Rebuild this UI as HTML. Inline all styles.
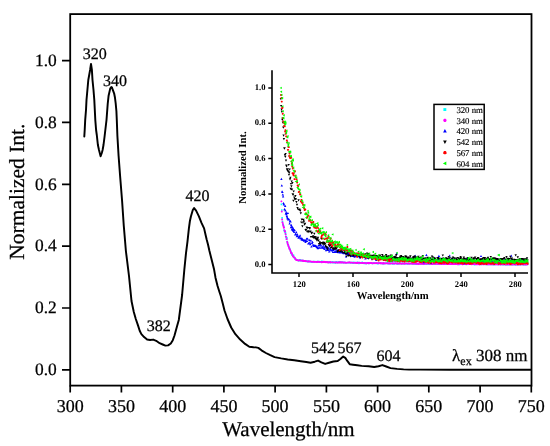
<!DOCTYPE html>
<html><head><meta charset="utf-8"><title>Normalized Int. vs Wavelength</title>
<style>
html,body{margin:0;padding:0;background:#fff;width:550px;height:446px;overflow:hidden}
svg{display:block}
text{font-family:"Liberation Serif","Times New Roman",serif;fill:#000;text-rendering:geometricPrecision}
.t18{font-size:18px;stroke:#000;stroke-width:0.25px}
.t21{font-size:21px;stroke:#000;stroke-width:0.25px}
.t16{font-size:16px;stroke:#000;stroke-width:0.25px}
.t17{font-size:17px;stroke:#000;stroke-width:0.25px}
.sub{font-size:12px}
.b8{font-size:8.6px;font-weight:bold}
.b10{font-size:10.7px;font-weight:bold}
.r9{font-size:8.8px;letter-spacing:-0.2px;word-spacing:0.6px;stroke:#000;stroke-width:0.15px}
</style></head><body>
<svg width="550" height="446" viewBox="0 0 550 446">
<rect width="550" height="446" fill="#fff"/>
<rect x="70.2" y="14.1" width="461.3" height="371.5" fill="none" stroke="#000" stroke-width="1.8"/>
<path d="M62 369.8H70.2M62 308.0H70.2M62 246.1H70.2M62 184.3H70.2M62 122.4H70.2M62 60.6H70.2M70.2 385.6V392.5M121.4 385.6V392.5M172.7 385.6V392.5M223.9 385.6V392.5M275.1 385.6V392.5M326.4 385.6V392.5M377.6 385.6V392.5M428.8 385.6V392.5M480.1 385.6V392.5M531.3 385.6V392.5" stroke="#000" stroke-width="1.7" fill="none"/>
<text x="56.7" y="375.0" text-anchor="end" class="t18" style="font-size:17.4px">0.0</text>
<text x="56.7" y="313.2" text-anchor="end" class="t18" style="font-size:17.4px">0.2</text>
<text x="56.7" y="251.3" text-anchor="end" class="t18" style="font-size:17.4px">0.4</text>
<text x="56.7" y="189.5" text-anchor="end" class="t18" style="font-size:17.4px">0.6</text>
<text x="56.7" y="127.6" text-anchor="end" class="t18" style="font-size:17.4px">0.8</text>
<text x="56.7" y="65.8" text-anchor="end" class="t18" style="font-size:17.4px">1.0</text>
<text x="70.2" y="412.4" text-anchor="middle" class="t18">300</text>
<text x="121.4" y="412.4" text-anchor="middle" class="t18">350</text>
<text x="172.7" y="412.4" text-anchor="middle" class="t18">400</text>
<text x="223.9" y="412.4" text-anchor="middle" class="t18">450</text>
<text x="275.1" y="412.4" text-anchor="middle" class="t18">500</text>
<text x="326.4" y="412.4" text-anchor="middle" class="t18">550</text>
<text x="377.6" y="412.4" text-anchor="middle" class="t18">600</text>
<text x="428.8" y="412.4" text-anchor="middle" class="t18">650</text>
<text x="480.1" y="412.4" text-anchor="middle" class="t18">700</text>
<text x="531.3" y="412.4" text-anchor="middle" class="t18">750</text>
<text x="288.4" y="435.7" text-anchor="middle" class="t21">Wavelength/nm</text>
<text transform="translate(24.2 191.6) rotate(-90)" text-anchor="middle" class="t21" style="font-size:21.5px">Normalized Int.</text>
<path d="M84.3 136.5 L84.7 130.0 L85.2 120.0 L86.0 110.0 L86.5 100.0 L87.4 90.0 L88.3 80.0 L90.1 70.0 L91.0 64.0 L91.9 70.0 L92.5 80.0 L93.5 90.0 L94.3 100.0 L94.8 110.0 L95.3 120.0 L96.1 130.0 L96.8 135.0 L97.9 145.0 L99.0 150.0 L100.6 156.2 L101.8 153.0 L102.6 150.0 L103.5 145.0 L104.7 135.5 L106.5 120.0 L107.7 104.0 L108.6 95.7 L110.2 88.6 L111.3 87.0 L112.0 87.6 L112.9 90.2 L114.1 93.3 L114.9 97.2 L115.7 103.5 L116.4 111.0 L116.8 120.0 L117.4 136.0 L118.6 156.0 L120.1 176.0 L122.1 201.0 L123.8 226.0 L125.9 251.0 L129.0 276.0 L131.5 301.0 L133.8 312.0 L135.8 319.0 L138.0 325.4 L139.7 330.8 L141.4 334.1 L144.1 337.1 L147.1 339.5 L150.1 340.0 L153.2 339.6 L156.2 340.8 L159.6 343.2 L162.7 344.5 L165.4 345.6 L168.1 345.4 L170.8 343.5 L172.8 340.2 L174.5 335.5 L175.8 330.8 L177.1 326.0 L178.8 320.0 L182.1 295.0 L184.3 270.0 L186.0 253.1 L187.5 241.4 L188.9 228.3 L189.9 221.0 L190.9 216.5 L192.8 210.0 L194.1 208.1 L196.1 210.6 L198.8 216.1 L201.5 222.9 L204.1 228.4 L205.6 235.0 L206.6 239.2 L208.0 244.5 L209.4 250.8 L212.1 261.5 L214.1 269.6 L215.5 277.7 L217.5 285.8 L219.3 291.5 L220.8 296.0 L222.7 303.3 L224.5 310.5 L227.5 319.0 L231.2 327.5 L235.4 334.2 L240.2 339.6 L245.1 343.9 L249.3 346.7 L253.6 347.2 L256.0 347.4 L258.3 347.9 L261.5 350.3 L265.9 353.0 L270.3 355.2 L274.6 357.1 L281.2 358.4 L287.7 359.5 L294.3 360.3 L300.8 361.2 L306.3 362.0 L310.6 362.8 L314.8 361.7 L318.1 360.6 L321.4 362.3 L325.2 363.9 L329.0 362.8 L333.4 361.5 L337.7 361.0 L340.4 359.0 L343.2 356.6 L345.3 357.9 L347.5 361.2 L349.7 364.2 L353.0 364.7 L357.3 365.3 L361.7 365.9 L365.0 366.1 L368.7 366.2 L374.2 367.0 L378.5 366.2 L382.4 365.1 L386.2 366.5 L390.5 368.1 L397.1 368.9 L403.6 369.4 L409.1 369.6 L420.0 369.6 L450.0 369.7 L500.0 369.8 L530.6 369.8" fill="none" stroke="#000" stroke-width="1.95" stroke-linejoin="round" stroke-linecap="round"/>
<text x="94.7" y="59.1" text-anchor="middle" class="t16">320</text>
<text x="115.0" y="85.6" text-anchor="middle" class="t16">340</text>
<text x="158.8" y="331.3" text-anchor="middle" class="t16">382</text>
<text x="197.5" y="200.9" text-anchor="middle" class="t16">420</text>
<text x="322.9" y="352.7" text-anchor="middle" class="t16">542</text>
<text x="349.5" y="352.7" text-anchor="middle" class="t16">567</text>
<text x="388.4" y="360.7" text-anchor="middle" class="t16">604</text>
<text x="527.6" y="360.5" text-anchor="end" class="t17" textLength="75.5">λ<tspan class="sub" dy="4.5">ex</tspan><tspan dy="-4.5"> 308 nm</tspan></text>
<path fill="#00ffff" d="M280.6 203.6h1.6v1.6h-1.6zM281.0 209.2h1.6v1.6h-1.6zM281.3 217.1h1.6v1.6h-1.6zM281.7 220.7h1.6v1.6h-1.6zM282.0 223.5h1.6v1.6h-1.6zM282.3 223.7h1.6v1.6h-1.6zM282.7 224.7h1.6v1.6h-1.6zM283.0 225.5h1.6v1.6h-1.6zM283.3 229.3h1.6v1.6h-1.6zM283.7 230.7h1.6v1.6h-1.6zM284.0 230.1h1.6v1.6h-1.6zM284.4 231.6h1.6v1.6h-1.6zM284.7 231.8h1.6v1.6h-1.6zM285.0 234.0h1.6v1.6h-1.6zM285.4 236.5h1.6v1.6h-1.6zM285.7 238.1h1.6v1.6h-1.6zM286.1 237.1h1.6v1.6h-1.6zM286.4 240.7h1.6v1.6h-1.6zM286.7 242.3h1.6v1.6h-1.6zM287.1 243.7h1.6v1.6h-1.6zM287.4 244.0h1.6v1.6h-1.6zM287.7 245.0h1.6v1.6h-1.6zM288.1 246.4h1.6v1.6h-1.6zM288.4 247.1h1.6v1.6h-1.6zM288.8 247.8h1.6v1.6h-1.6zM289.1 248.5h1.6v1.6h-1.6zM289.4 249.1h1.6v1.6h-1.6zM289.8 250.3h1.6v1.6h-1.6zM290.1 252.1h1.6v1.6h-1.6zM290.4 251.5h1.6v1.6h-1.6zM290.8 253.2h1.6v1.6h-1.6zM291.1 253.2h1.6v1.6h-1.6zM291.4 254.4h1.6v1.6h-1.6zM291.8 254.3h1.6v1.6h-1.6zM292.1 255.2h1.6v1.6h-1.6zM292.5 255.3h1.6v1.6h-1.6zM292.8 254.5h1.6v1.6h-1.6zM293.3 256.6h1.6v1.6h-1.6zM293.9 256.9h1.6v1.6h-1.6zM294.4 258.3h1.6v1.6h-1.6zM295.0 258.5h1.6v1.6h-1.6zM295.5 258.7h1.6v1.6h-1.6zM296.0 259.3h1.6v1.6h-1.6zM296.6 259.2h1.6v1.6h-1.6zM297.1 259.4h1.6v1.6h-1.6zM297.7 259.8h1.6v1.6h-1.6zM298.2 259.4h1.6v1.6h-1.6zM298.7 259.9h1.6v1.6h-1.6zM299.3 259.1h1.6v1.6h-1.6zM299.8 259.9h1.6v1.6h-1.6zM300.4 259.6h1.6v1.6h-1.6zM300.9 259.9h1.6v1.6h-1.6zM301.4 259.7h1.6v1.6h-1.6zM302.0 260.2h1.6v1.6h-1.6zM302.5 259.8h1.6v1.6h-1.6zM303.1 260.2h1.6v1.6h-1.6zM303.6 259.9h1.6v1.6h-1.6zM304.1 260.1h1.6v1.6h-1.6zM304.7 260.3h1.6v1.6h-1.6zM305.2 260.7h1.6v1.6h-1.6zM305.8 260.3h1.6v1.6h-1.6zM306.3 260.4h1.6v1.6h-1.6zM306.8 260.2h1.6v1.6h-1.6zM307.4 260.8h1.6v1.6h-1.6zM307.9 260.6h1.6v1.6h-1.6zM308.5 260.7h1.6v1.6h-1.6zM309.0 260.8h1.6v1.6h-1.6zM309.5 260.8h1.6v1.6h-1.6zM310.1 260.9h1.6v1.6h-1.6zM310.6 261.1h1.6v1.6h-1.6zM311.2 261.3h1.6v1.6h-1.6zM311.7 261.1h1.6v1.6h-1.6zM312.2 260.9h1.6v1.6h-1.6zM312.8 260.7h1.6v1.6h-1.6zM313.3 260.8h1.6v1.6h-1.6zM313.9 260.8h1.6v1.6h-1.6zM314.4 260.9h1.6v1.6h-1.6zM314.9 260.9h1.6v1.6h-1.6zM315.5 261.1h1.6v1.6h-1.6zM316.0 260.9h1.6v1.6h-1.6zM316.6 260.7h1.6v1.6h-1.6zM317.1 261.2h1.6v1.6h-1.6zM317.6 261.4h1.6v1.6h-1.6zM318.2 260.7h1.6v1.6h-1.6zM318.7 261.1h1.6v1.6h-1.6zM319.3 261.0h1.6v1.6h-1.6zM319.8 261.0h1.6v1.6h-1.6zM320.3 261.5h1.6v1.6h-1.6zM320.9 260.6h1.6v1.6h-1.6zM321.4 260.8h1.6v1.6h-1.6zM322.0 261.2h1.6v1.6h-1.6zM322.5 261.1h1.6v1.6h-1.6zM323.0 261.3h1.6v1.6h-1.6zM323.6 261.5h1.6v1.6h-1.6zM324.1 261.4h1.6v1.6h-1.6zM324.7 261.3h1.6v1.6h-1.6zM325.2 261.1h1.6v1.6h-1.6zM325.7 261.2h1.6v1.6h-1.6zM326.3 261.4h1.6v1.6h-1.6zM326.8 261.1h1.6v1.6h-1.6zM327.4 261.6h1.6v1.6h-1.6zM327.9 261.2h1.6v1.6h-1.6zM328.4 261.2h1.6v1.6h-1.6zM329.0 261.5h1.6v1.6h-1.6zM329.5 261.9h1.6v1.6h-1.6zM330.1 261.7h1.6v1.6h-1.6zM330.6 261.4h1.6v1.6h-1.6zM331.1 261.4h1.6v1.6h-1.6zM331.7 261.1h1.6v1.6h-1.6zM332.2 261.8h1.6v1.6h-1.6zM332.8 261.5h1.6v1.6h-1.6zM333.3 261.4h1.6v1.6h-1.6zM333.8 261.6h1.6v1.6h-1.6zM334.4 262.2h1.6v1.6h-1.6zM334.9 261.4h1.6v1.6h-1.6zM335.5 261.1h1.6v1.6h-1.6zM336.0 261.4h1.6v1.6h-1.6zM336.5 261.9h1.6v1.6h-1.6zM337.1 261.7h1.6v1.6h-1.6zM337.6 261.6h1.6v1.6h-1.6zM338.2 261.1h1.6v1.6h-1.6zM338.7 261.5h1.6v1.6h-1.6zM339.2 261.7h1.6v1.6h-1.6zM339.8 261.3h1.6v1.6h-1.6zM340.3 261.7h1.6v1.6h-1.6zM340.9 261.3h1.6v1.6h-1.6zM341.4 261.9h1.6v1.6h-1.6zM341.9 261.9h1.6v1.6h-1.6zM342.5 261.6h1.6v1.6h-1.6zM343.0 261.4h1.6v1.6h-1.6zM343.6 261.6h1.6v1.6h-1.6zM344.1 261.7h1.6v1.6h-1.6zM344.6 262.2h1.6v1.6h-1.6zM345.2 262.0h1.6v1.6h-1.6zM345.7 262.0h1.6v1.6h-1.6zM346.3 262.0h1.6v1.6h-1.6zM346.8 261.7h1.6v1.6h-1.6zM347.3 262.0h1.6v1.6h-1.6zM347.9 261.7h1.6v1.6h-1.6zM348.4 261.9h1.6v1.6h-1.6zM349.0 262.0h1.6v1.6h-1.6zM349.5 261.9h1.6v1.6h-1.6zM350.0 261.8h1.6v1.6h-1.6zM350.6 261.7h1.6v1.6h-1.6zM351.1 262.1h1.6v1.6h-1.6zM351.7 262.0h1.6v1.6h-1.6zM352.2 262.3h1.6v1.6h-1.6zM352.7 261.6h1.6v1.6h-1.6zM353.3 261.7h1.6v1.6h-1.6zM353.8 262.1h1.6v1.6h-1.6zM354.4 262.1h1.6v1.6h-1.6zM354.9 262.3h1.6v1.6h-1.6zM355.4 262.0h1.6v1.6h-1.6zM356.0 262.0h1.6v1.6h-1.6zM356.5 261.6h1.6v1.6h-1.6zM357.1 262.0h1.6v1.6h-1.6zM357.6 262.3h1.6v1.6h-1.6zM358.1 262.7h1.6v1.6h-1.6zM358.7 261.8h1.6v1.6h-1.6zM359.2 262.1h1.6v1.6h-1.6zM359.8 262.5h1.6v1.6h-1.6zM360.3 262.1h1.6v1.6h-1.6zM360.8 262.5h1.6v1.6h-1.6zM361.4 261.4h1.6v1.6h-1.6zM361.9 261.9h1.6v1.6h-1.6zM362.5 262.1h1.6v1.6h-1.6zM363.0 262.2h1.6v1.6h-1.6zM363.5 262.7h1.6v1.6h-1.6zM364.1 262.2h1.6v1.6h-1.6zM364.6 262.6h1.6v1.6h-1.6zM365.2 262.1h1.6v1.6h-1.6zM365.7 262.7h1.6v1.6h-1.6zM366.2 262.5h1.6v1.6h-1.6zM366.8 262.0h1.6v1.6h-1.6zM367.3 261.9h1.6v1.6h-1.6zM367.9 262.5h1.6v1.6h-1.6zM368.4 262.6h1.6v1.6h-1.6zM368.9 262.1h1.6v1.6h-1.6zM369.5 262.1h1.6v1.6h-1.6zM370.0 262.5h1.6v1.6h-1.6zM370.6 262.5h1.6v1.6h-1.6zM371.1 262.5h1.6v1.6h-1.6zM371.6 262.6h1.6v1.6h-1.6zM372.2 262.5h1.6v1.6h-1.6zM372.7 262.1h1.6v1.6h-1.6zM373.3 262.2h1.6v1.6h-1.6zM373.8 261.9h1.6v1.6h-1.6zM374.3 262.4h1.6v1.6h-1.6zM374.9 262.4h1.6v1.6h-1.6zM375.4 262.6h1.6v1.6h-1.6zM376.0 262.4h1.6v1.6h-1.6zM376.5 262.7h1.6v1.6h-1.6zM377.0 262.8h1.6v1.6h-1.6zM377.6 262.3h1.6v1.6h-1.6zM378.1 262.1h1.6v1.6h-1.6zM378.7 262.3h1.6v1.6h-1.6zM379.2 262.2h1.6v1.6h-1.6zM379.7 262.4h1.6v1.6h-1.6zM380.3 262.6h1.6v1.6h-1.6zM380.8 262.5h1.6v1.6h-1.6zM381.4 262.6h1.6v1.6h-1.6zM381.9 262.7h1.6v1.6h-1.6zM382.4 262.9h1.6v1.6h-1.6zM383.0 262.8h1.6v1.6h-1.6zM383.5 262.5h1.6v1.6h-1.6zM384.1 262.5h1.6v1.6h-1.6zM384.6 262.6h1.6v1.6h-1.6zM385.1 262.2h1.6v1.6h-1.6zM385.7 262.5h1.6v1.6h-1.6zM386.2 262.4h1.6v1.6h-1.6zM386.8 262.3h1.6v1.6h-1.6zM387.3 262.8h1.6v1.6h-1.6zM387.8 263.0h1.6v1.6h-1.6zM388.4 262.4h1.6v1.6h-1.6zM388.9 262.8h1.6v1.6h-1.6zM389.5 262.3h1.6v1.6h-1.6zM390.0 262.5h1.6v1.6h-1.6zM390.5 262.4h1.6v1.6h-1.6zM391.1 262.5h1.6v1.6h-1.6zM391.6 263.1h1.6v1.6h-1.6zM392.2 262.5h1.6v1.6h-1.6zM392.7 262.8h1.6v1.6h-1.6zM393.2 262.8h1.6v1.6h-1.6zM393.8 262.8h1.6v1.6h-1.6zM394.3 262.5h1.6v1.6h-1.6zM394.9 262.5h1.6v1.6h-1.6zM395.4 262.5h1.6v1.6h-1.6zM395.9 263.0h1.6v1.6h-1.6zM396.5 262.8h1.6v1.6h-1.6zM397.0 263.2h1.6v1.6h-1.6zM397.6 262.7h1.6v1.6h-1.6zM398.1 262.6h1.6v1.6h-1.6zM398.6 262.9h1.6v1.6h-1.6zM399.2 262.7h1.6v1.6h-1.6zM399.7 262.7h1.6v1.6h-1.6zM400.3 262.5h1.6v1.6h-1.6zM400.8 262.9h1.6v1.6h-1.6zM401.3 262.9h1.6v1.6h-1.6zM401.9 262.9h1.6v1.6h-1.6zM402.4 262.4h1.6v1.6h-1.6zM403.0 262.6h1.6v1.6h-1.6zM403.5 262.8h1.6v1.6h-1.6zM404.0 262.7h1.6v1.6h-1.6zM404.6 262.8h1.6v1.6h-1.6zM405.1 262.8h1.6v1.6h-1.6zM405.7 262.9h1.6v1.6h-1.6zM406.2 262.9h1.6v1.6h-1.6zM406.7 263.1h1.6v1.6h-1.6zM407.3 263.0h1.6v1.6h-1.6zM407.8 262.5h1.6v1.6h-1.6zM408.4 262.7h1.6v1.6h-1.6zM408.9 262.8h1.6v1.6h-1.6zM409.4 262.9h1.6v1.6h-1.6zM410.0 262.8h1.6v1.6h-1.6zM410.5 262.8h1.6v1.6h-1.6zM411.1 263.0h1.6v1.6h-1.6zM411.6 262.8h1.6v1.6h-1.6zM412.1 262.8h1.6v1.6h-1.6zM412.7 263.0h1.6v1.6h-1.6zM413.2 263.1h1.6v1.6h-1.6zM413.8 263.1h1.6v1.6h-1.6zM414.3 263.1h1.6v1.6h-1.6zM414.8 262.7h1.6v1.6h-1.6zM415.4 263.4h1.6v1.6h-1.6zM415.9 263.0h1.6v1.6h-1.6zM416.5 263.1h1.6v1.6h-1.6zM417.0 263.1h1.6v1.6h-1.6zM417.5 262.9h1.6v1.6h-1.6zM418.1 262.7h1.6v1.6h-1.6zM418.6 262.9h1.6v1.6h-1.6zM419.2 263.0h1.6v1.6h-1.6zM419.7 263.1h1.6v1.6h-1.6zM420.2 263.0h1.6v1.6h-1.6zM420.8 262.8h1.6v1.6h-1.6zM421.3 263.1h1.6v1.6h-1.6zM421.9 263.2h1.6v1.6h-1.6zM422.4 263.2h1.6v1.6h-1.6zM422.9 263.2h1.6v1.6h-1.6zM423.5 263.3h1.6v1.6h-1.6zM424.0 262.8h1.6v1.6h-1.6zM424.6 262.9h1.6v1.6h-1.6zM425.1 263.1h1.6v1.6h-1.6zM425.6 262.7h1.6v1.6h-1.6zM426.2 263.2h1.6v1.6h-1.6zM426.7 262.9h1.6v1.6h-1.6zM427.3 262.9h1.6v1.6h-1.6zM427.8 263.3h1.6v1.6h-1.6zM428.3 263.3h1.6v1.6h-1.6zM428.9 263.2h1.6v1.6h-1.6zM429.4 262.9h1.6v1.6h-1.6zM430.0 262.8h1.6v1.6h-1.6zM430.5 263.3h1.6v1.6h-1.6zM431.0 262.9h1.6v1.6h-1.6zM431.6 263.1h1.6v1.6h-1.6zM432.1 263.1h1.6v1.6h-1.6zM432.7 263.2h1.6v1.6h-1.6zM433.2 263.1h1.6v1.6h-1.6zM433.7 263.4h1.6v1.6h-1.6zM434.3 263.3h1.6v1.6h-1.6zM434.8 263.3h1.6v1.6h-1.6zM435.4 263.0h1.6v1.6h-1.6zM435.9 262.7h1.6v1.6h-1.6zM436.4 262.6h1.6v1.6h-1.6zM437.0 263.2h1.6v1.6h-1.6zM437.5 263.5h1.6v1.6h-1.6zM438.1 263.2h1.6v1.6h-1.6zM438.6 263.3h1.6v1.6h-1.6zM439.1 262.7h1.6v1.6h-1.6zM439.7 263.0h1.6v1.6h-1.6zM440.2 263.3h1.6v1.6h-1.6zM440.8 263.0h1.6v1.6h-1.6zM441.3 263.0h1.6v1.6h-1.6zM441.8 263.5h1.6v1.6h-1.6zM442.4 263.3h1.6v1.6h-1.6zM442.9 263.2h1.6v1.6h-1.6zM443.5 263.2h1.6v1.6h-1.6zM444.0 263.1h1.6v1.6h-1.6zM444.5 263.2h1.6v1.6h-1.6zM445.1 263.1h1.6v1.6h-1.6zM445.6 263.3h1.6v1.6h-1.6zM446.2 263.4h1.6v1.6h-1.6zM446.7 262.9h1.6v1.6h-1.6zM447.2 263.1h1.6v1.6h-1.6zM447.8 263.1h1.6v1.6h-1.6zM448.3 263.5h1.6v1.6h-1.6zM448.9 263.2h1.6v1.6h-1.6zM449.4 263.0h1.6v1.6h-1.6zM449.9 263.5h1.6v1.6h-1.6zM450.5 263.0h1.6v1.6h-1.6zM451.0 263.3h1.6v1.6h-1.6zM451.6 263.1h1.6v1.6h-1.6zM452.1 263.2h1.6v1.6h-1.6zM452.6 263.2h1.6v1.6h-1.6zM453.2 263.0h1.6v1.6h-1.6zM453.7 263.3h1.6v1.6h-1.6zM454.3 262.9h1.6v1.6h-1.6zM454.8 263.4h1.6v1.6h-1.6zM455.3 263.4h1.6v1.6h-1.6zM455.9 263.1h1.6v1.6h-1.6zM456.4 263.5h1.6v1.6h-1.6zM457.0 263.3h1.6v1.6h-1.6zM457.5 263.1h1.6v1.6h-1.6zM458.0 263.0h1.6v1.6h-1.6zM458.6 263.6h1.6v1.6h-1.6zM459.1 263.2h1.6v1.6h-1.6zM459.7 262.9h1.6v1.6h-1.6zM460.2 263.0h1.6v1.6h-1.6zM460.7 263.3h1.6v1.6h-1.6zM461.3 263.4h1.6v1.6h-1.6zM461.8 263.3h1.6v1.6h-1.6zM462.4 263.5h1.6v1.6h-1.6zM462.9 263.3h1.6v1.6h-1.6zM463.4 263.3h1.6v1.6h-1.6zM464.0 263.3h1.6v1.6h-1.6zM464.5 263.1h1.6v1.6h-1.6zM465.1 263.4h1.6v1.6h-1.6zM465.6 263.6h1.6v1.6h-1.6zM466.1 263.1h1.6v1.6h-1.6zM466.7 263.5h1.6v1.6h-1.6zM467.2 263.4h1.6v1.6h-1.6zM467.8 263.4h1.6v1.6h-1.6zM468.3 263.4h1.6v1.6h-1.6zM468.8 263.5h1.6v1.6h-1.6zM469.4 263.4h1.6v1.6h-1.6zM469.9 262.9h1.6v1.6h-1.6zM470.5 263.5h1.6v1.6h-1.6zM471.0 263.4h1.6v1.6h-1.6zM471.5 263.2h1.6v1.6h-1.6zM472.1 263.2h1.6v1.6h-1.6zM472.6 263.2h1.6v1.6h-1.6zM473.2 263.2h1.6v1.6h-1.6zM473.7 263.8h1.6v1.6h-1.6zM474.2 263.6h1.6v1.6h-1.6zM474.8 263.4h1.6v1.6h-1.6zM475.3 263.3h1.6v1.6h-1.6zM475.9 263.2h1.6v1.6h-1.6zM476.4 263.3h1.6v1.6h-1.6zM476.9 263.5h1.6v1.6h-1.6zM477.5 263.4h1.6v1.6h-1.6zM478.0 263.5h1.6v1.6h-1.6zM478.6 263.4h1.6v1.6h-1.6zM479.1 263.3h1.6v1.6h-1.6zM479.6 263.5h1.6v1.6h-1.6zM480.2 263.6h1.6v1.6h-1.6zM480.7 263.6h1.6v1.6h-1.6zM481.3 263.2h1.6v1.6h-1.6zM481.8 263.2h1.6v1.6h-1.6zM482.3 263.3h1.6v1.6h-1.6zM482.9 263.3h1.6v1.6h-1.6zM483.4 263.3h1.6v1.6h-1.6zM484.0 263.5h1.6v1.6h-1.6zM484.5 263.3h1.6v1.6h-1.6zM485.0 263.7h1.6v1.6h-1.6zM485.6 263.5h1.6v1.6h-1.6zM486.1 263.6h1.6v1.6h-1.6zM486.7 263.3h1.6v1.6h-1.6zM487.2 263.6h1.6v1.6h-1.6zM487.7 263.5h1.6v1.6h-1.6zM488.3 263.4h1.6v1.6h-1.6zM488.8 263.2h1.6v1.6h-1.6zM489.4 263.6h1.6v1.6h-1.6zM489.9 263.7h1.6v1.6h-1.6zM490.4 263.4h1.6v1.6h-1.6zM491.0 263.7h1.6v1.6h-1.6zM491.5 263.4h1.6v1.6h-1.6zM492.1 263.6h1.6v1.6h-1.6zM492.6 263.5h1.6v1.6h-1.6zM493.1 263.9h1.6v1.6h-1.6zM493.7 263.4h1.6v1.6h-1.6zM494.2 263.6h1.6v1.6h-1.6zM494.8 263.7h1.6v1.6h-1.6zM495.3 263.1h1.6v1.6h-1.6zM495.8 263.4h1.6v1.6h-1.6zM496.4 262.9h1.6v1.6h-1.6zM496.9 263.5h1.6v1.6h-1.6zM497.5 263.6h1.6v1.6h-1.6zM498.0 263.5h1.6v1.6h-1.6zM498.5 263.3h1.6v1.6h-1.6zM499.1 263.6h1.6v1.6h-1.6zM499.6 263.5h1.6v1.6h-1.6zM500.2 263.5h1.6v1.6h-1.6zM500.7 263.7h1.6v1.6h-1.6zM501.2 263.5h1.6v1.6h-1.6zM501.8 263.7h1.6v1.6h-1.6zM502.3 263.8h1.6v1.6h-1.6zM502.9 263.4h1.6v1.6h-1.6zM503.4 263.5h1.6v1.6h-1.6zM503.9 263.6h1.6v1.6h-1.6zM504.5 263.7h1.6v1.6h-1.6zM505.0 263.9h1.6v1.6h-1.6zM505.6 263.5h1.6v1.6h-1.6zM506.1 263.6h1.6v1.6h-1.6zM506.6 263.9h1.6v1.6h-1.6zM507.2 263.6h1.6v1.6h-1.6zM507.7 263.9h1.6v1.6h-1.6zM508.3 263.6h1.6v1.6h-1.6zM508.8 263.6h1.6v1.6h-1.6zM509.3 263.5h1.6v1.6h-1.6zM509.9 263.6h1.6v1.6h-1.6zM510.4 263.6h1.6v1.6h-1.6zM511.0 263.8h1.6v1.6h-1.6zM511.5 263.7h1.6v1.6h-1.6zM512.0 263.7h1.6v1.6h-1.6zM512.6 263.7h1.6v1.6h-1.6zM513.1 263.6h1.6v1.6h-1.6zM513.7 263.5h1.6v1.6h-1.6zM514.2 263.3h1.6v1.6h-1.6zM514.7 264.1h1.6v1.6h-1.6zM515.3 263.5h1.6v1.6h-1.6zM515.8 263.7h1.6v1.6h-1.6zM516.4 263.2h1.6v1.6h-1.6zM516.9 263.5h1.6v1.6h-1.6zM517.4 263.9h1.6v1.6h-1.6zM518.0 263.6h1.6v1.6h-1.6zM518.5 263.7h1.6v1.6h-1.6zM519.1 263.5h1.6v1.6h-1.6zM519.6 263.8h1.6v1.6h-1.6zM520.1 263.7h1.6v1.6h-1.6zM520.7 263.7h1.6v1.6h-1.6zM521.2 263.7h1.6v1.6h-1.6zM521.8 263.7h1.6v1.6h-1.6zM522.3 264.0h1.6v1.6h-1.6zM522.8 263.6h1.6v1.6h-1.6zM523.4 263.5h1.6v1.6h-1.6zM523.9 263.7h1.6v1.6h-1.6zM524.5 263.8h1.6v1.6h-1.6zM525.0 263.6h1.6v1.6h-1.6zM525.5 263.6h1.6v1.6h-1.6zM526.1 263.7h1.6v1.6h-1.6zM526.6 263.7h1.6v1.6h-1.6z"/>
<path fill="#ff00ff" d="M281.0 200.5h0.8l0.5 0.5v0.8l-0.5 0.5h-0.8l-0.5 -0.5v-0.8zM281.4 210.6h0.8l0.5 0.5v0.8l-0.5 0.5h-0.8l-0.5 -0.5v-0.8zM281.7 218.6h0.8l0.5 0.5v0.8l-0.5 0.5h-0.8l-0.5 -0.5v-0.8zM282.0 221.5h0.8l0.5 0.5v0.8l-0.5 0.5h-0.8l-0.5 -0.5v-0.8zM282.4 222.3h0.8l0.5 0.5v0.8l-0.5 0.5h-0.8l-0.5 -0.5v-0.8zM282.7 224.1h0.8l0.5 0.5v0.8l-0.5 0.5h-0.8l-0.5 -0.5v-0.8zM283.1 225.7h0.8l0.5 0.5v0.8l-0.5 0.5h-0.8l-0.5 -0.5v-0.8zM283.4 227.0h0.8l0.5 0.5v0.8l-0.5 0.5h-0.8l-0.5 -0.5v-0.8zM283.7 226.7h0.8l0.5 0.5v0.8l-0.5 0.5h-0.8l-0.5 -0.5v-0.8zM284.1 229.4h0.8l0.5 0.5v0.8l-0.5 0.5h-0.8l-0.5 -0.5v-0.8zM284.4 230.7h0.8l0.5 0.5v0.8l-0.5 0.5h-0.8l-0.5 -0.5v-0.8zM284.7 230.5h0.8l0.5 0.5v0.8l-0.5 0.5h-0.8l-0.5 -0.5v-0.8zM285.1 233.1h0.8l0.5 0.5v0.8l-0.5 0.5h-0.8l-0.5 -0.5v-0.8zM285.4 235.8h0.8l0.5 0.5v0.8l-0.5 0.5h-0.8l-0.5 -0.5v-0.8zM285.8 236.0h0.8l0.5 0.5v0.8l-0.5 0.5h-0.8l-0.5 -0.5v-0.8zM286.1 238.2h0.8l0.5 0.5v0.8l-0.5 0.5h-0.8l-0.5 -0.5v-0.8zM286.4 238.2h0.8l0.5 0.5v0.8l-0.5 0.5h-0.8l-0.5 -0.5v-0.8zM286.8 241.0h0.8l0.5 0.5v0.8l-0.5 0.5h-0.8l-0.5 -0.5v-0.8zM287.1 241.9h0.8l0.5 0.5v0.8l-0.5 0.5h-0.8l-0.5 -0.5v-0.8zM287.4 243.6h0.8l0.5 0.5v0.8l-0.5 0.5h-0.8l-0.5 -0.5v-0.8zM287.8 243.9h0.8l0.5 0.5v0.8l-0.5 0.5h-0.8l-0.5 -0.5v-0.8zM288.1 245.4h0.8l0.5 0.5v0.8l-0.5 0.5h-0.8l-0.5 -0.5v-0.8zM288.4 246.0h0.8l0.5 0.5v0.8l-0.5 0.5h-0.8l-0.5 -0.5v-0.8zM288.8 247.1h0.8l0.5 0.5v0.8l-0.5 0.5h-0.8l-0.5 -0.5v-0.8zM289.1 248.1h0.8l0.5 0.5v0.8l-0.5 0.5h-0.8l-0.5 -0.5v-0.8zM289.5 248.4h0.8l0.5 0.5v0.8l-0.5 0.5h-0.8l-0.5 -0.5v-0.8zM289.8 249.2h0.8l0.5 0.5v0.8l-0.5 0.5h-0.8l-0.5 -0.5v-0.8zM290.1 250.3h0.8l0.5 0.5v0.8l-0.5 0.5h-0.8l-0.5 -0.5v-0.8zM290.5 251.4h0.8l0.5 0.5v0.8l-0.5 0.5h-0.8l-0.5 -0.5v-0.8zM290.8 252.1h0.8l0.5 0.5v0.8l-0.5 0.5h-0.8l-0.5 -0.5v-0.8zM291.1 252.3h0.8l0.5 0.5v0.8l-0.5 0.5h-0.8l-0.5 -0.5v-0.8zM291.5 252.2h0.8l0.5 0.5v0.8l-0.5 0.5h-0.8l-0.5 -0.5v-0.8zM291.8 253.8h0.8l0.5 0.5v0.8l-0.5 0.5h-0.8l-0.5 -0.5v-0.8zM292.2 254.4h0.8l0.5 0.5v0.8l-0.5 0.5h-0.8l-0.5 -0.5v-0.8zM292.5 255.0h0.8l0.5 0.5v0.8l-0.5 0.5h-0.8l-0.5 -0.5v-0.8zM292.8 255.6h0.8l0.5 0.5v0.8l-0.5 0.5h-0.8l-0.5 -0.5v-0.8zM293.2 256.0h0.8l0.5 0.5v0.8l-0.5 0.5h-0.8l-0.5 -0.5v-0.8zM293.7 256.5h0.8l0.5 0.5v0.8l-0.5 0.5h-0.8l-0.5 -0.5v-0.8zM294.3 256.8h0.8l0.5 0.5v0.8l-0.5 0.5h-0.8l-0.5 -0.5v-0.8zM294.8 257.7h0.8l0.5 0.5v0.8l-0.5 0.5h-0.8l-0.5 -0.5v-0.8zM295.3 258.4h0.8l0.5 0.5v0.8l-0.5 0.5h-0.8l-0.5 -0.5v-0.8zM295.9 259.1h0.8l0.5 0.5v0.8l-0.5 0.5h-0.8l-0.5 -0.5v-0.8zM296.4 259.0h0.8l0.5 0.5v0.8l-0.5 0.5h-0.8l-0.5 -0.5v-0.8zM297.0 259.2h0.8l0.5 0.5v0.8l-0.5 0.5h-0.8l-0.5 -0.5v-0.8zM297.5 259.5h0.8l0.5 0.5v0.8l-0.5 0.5h-0.8l-0.5 -0.5v-0.8zM298.0 259.6h0.8l0.5 0.5v0.8l-0.5 0.5h-0.8l-0.5 -0.5v-0.8zM298.6 259.4h0.8l0.5 0.5v0.8l-0.5 0.5h-0.8l-0.5 -0.5v-0.8zM299.1 259.3h0.8l0.5 0.5v0.8l-0.5 0.5h-0.8l-0.5 -0.5v-0.8zM299.7 259.4h0.8l0.5 0.5v0.8l-0.5 0.5h-0.8l-0.5 -0.5v-0.8zM300.2 259.6h0.8l0.5 0.5v0.8l-0.5 0.5h-0.8l-0.5 -0.5v-0.8zM300.7 259.8h0.8l0.5 0.5v0.8l-0.5 0.5h-0.8l-0.5 -0.5v-0.8zM301.3 259.7h0.8l0.5 0.5v0.8l-0.5 0.5h-0.8l-0.5 -0.5v-0.8zM301.8 259.9h0.8l0.5 0.5v0.8l-0.5 0.5h-0.8l-0.5 -0.5v-0.8zM302.4 259.5h0.8l0.5 0.5v0.8l-0.5 0.5h-0.8l-0.5 -0.5v-0.8zM302.9 260.2h0.8l0.5 0.5v0.8l-0.5 0.5h-0.8l-0.5 -0.5v-0.8zM303.4 260.1h0.8l0.5 0.5v0.8l-0.5 0.5h-0.8l-0.5 -0.5v-0.8zM304.0 259.9h0.8l0.5 0.5v0.8l-0.5 0.5h-0.8l-0.5 -0.5v-0.8zM304.5 260.2h0.8l0.5 0.5v0.8l-0.5 0.5h-0.8l-0.5 -0.5v-0.8zM305.1 260.0h0.8l0.5 0.5v0.8l-0.5 0.5h-0.8l-0.5 -0.5v-0.8zM305.6 260.3h0.8l0.5 0.5v0.8l-0.5 0.5h-0.8l-0.5 -0.5v-0.8zM306.1 260.3h0.8l0.5 0.5v0.8l-0.5 0.5h-0.8l-0.5 -0.5v-0.8zM306.7 260.5h0.8l0.5 0.5v0.8l-0.5 0.5h-0.8l-0.5 -0.5v-0.8zM307.2 260.7h0.8l0.5 0.5v0.8l-0.5 0.5h-0.8l-0.5 -0.5v-0.8zM307.8 260.7h0.8l0.5 0.5v0.8l-0.5 0.5h-0.8l-0.5 -0.5v-0.8zM308.3 260.2h0.8l0.5 0.5v0.8l-0.5 0.5h-0.8l-0.5 -0.5v-0.8zM308.8 260.5h0.8l0.5 0.5v0.8l-0.5 0.5h-0.8l-0.5 -0.5v-0.8zM309.4 260.6h0.8l0.5 0.5v0.8l-0.5 0.5h-0.8l-0.5 -0.5v-0.8zM309.9 260.6h0.8l0.5 0.5v0.8l-0.5 0.5h-0.8l-0.5 -0.5v-0.8zM310.5 260.7h0.8l0.5 0.5v0.8l-0.5 0.5h-0.8l-0.5 -0.5v-0.8zM311.0 260.7h0.8l0.5 0.5v0.8l-0.5 0.5h-0.8l-0.5 -0.5v-0.8zM311.5 260.9h0.8l0.5 0.5v0.8l-0.5 0.5h-0.8l-0.5 -0.5v-0.8zM312.1 260.9h0.8l0.5 0.5v0.8l-0.5 0.5h-0.8l-0.5 -0.5v-0.8zM312.6 260.7h0.8l0.5 0.5v0.8l-0.5 0.5h-0.8l-0.5 -0.5v-0.8zM313.2 261.0h0.8l0.5 0.5v0.8l-0.5 0.5h-0.8l-0.5 -0.5v-0.8zM313.7 261.2h0.8l0.5 0.5v0.8l-0.5 0.5h-0.8l-0.5 -0.5v-0.8zM314.2 261.0h0.8l0.5 0.5v0.8l-0.5 0.5h-0.8l-0.5 -0.5v-0.8zM314.8 261.0h0.8l0.5 0.5v0.8l-0.5 0.5h-0.8l-0.5 -0.5v-0.8zM315.3 260.9h0.8l0.5 0.5v0.8l-0.5 0.5h-0.8l-0.5 -0.5v-0.8zM315.9 261.1h0.8l0.5 0.5v0.8l-0.5 0.5h-0.8l-0.5 -0.5v-0.8zM316.4 261.2h0.8l0.5 0.5v0.8l-0.5 0.5h-0.8l-0.5 -0.5v-0.8zM316.9 261.1h0.8l0.5 0.5v0.8l-0.5 0.5h-0.8l-0.5 -0.5v-0.8zM317.5 260.8h0.8l0.5 0.5v0.8l-0.5 0.5h-0.8l-0.5 -0.5v-0.8zM318.0 261.0h0.8l0.5 0.5v0.8l-0.5 0.5h-0.8l-0.5 -0.5v-0.8zM318.6 261.0h0.8l0.5 0.5v0.8l-0.5 0.5h-0.8l-0.5 -0.5v-0.8zM319.1 261.1h0.8l0.5 0.5v0.8l-0.5 0.5h-0.8l-0.5 -0.5v-0.8zM319.6 261.0h0.8l0.5 0.5v0.8l-0.5 0.5h-0.8l-0.5 -0.5v-0.8zM320.2 260.9h0.8l0.5 0.5v0.8l-0.5 0.5h-0.8l-0.5 -0.5v-0.8zM320.7 260.9h0.8l0.5 0.5v0.8l-0.5 0.5h-0.8l-0.5 -0.5v-0.8zM321.3 261.4h0.8l0.5 0.5v0.8l-0.5 0.5h-0.8l-0.5 -0.5v-0.8zM321.8 260.9h0.8l0.5 0.5v0.8l-0.5 0.5h-0.8l-0.5 -0.5v-0.8zM322.3 261.2h0.8l0.5 0.5v0.8l-0.5 0.5h-0.8l-0.5 -0.5v-0.8zM322.9 261.2h0.8l0.5 0.5v0.8l-0.5 0.5h-0.8l-0.5 -0.5v-0.8zM323.4 260.8h0.8l0.5 0.5v0.8l-0.5 0.5h-0.8l-0.5 -0.5v-0.8zM324.0 261.2h0.8l0.5 0.5v0.8l-0.5 0.5h-0.8l-0.5 -0.5v-0.8zM324.5 260.9h0.8l0.5 0.5v0.8l-0.5 0.5h-0.8l-0.5 -0.5v-0.8zM325.0 261.1h0.8l0.5 0.5v0.8l-0.5 0.5h-0.8l-0.5 -0.5v-0.8zM325.6 261.4h0.8l0.5 0.5v0.8l-0.5 0.5h-0.8l-0.5 -0.5v-0.8zM326.1 261.2h0.8l0.5 0.5v0.8l-0.5 0.5h-0.8l-0.5 -0.5v-0.8zM326.7 261.1h0.8l0.5 0.5v0.8l-0.5 0.5h-0.8l-0.5 -0.5v-0.8zM327.2 261.3h0.8l0.5 0.5v0.8l-0.5 0.5h-0.8l-0.5 -0.5v-0.8zM327.7 261.7h0.8l0.5 0.5v0.8l-0.5 0.5h-0.8l-0.5 -0.5v-0.8zM328.3 261.4h0.8l0.5 0.5v0.8l-0.5 0.5h-0.8l-0.5 -0.5v-0.8zM328.8 261.3h0.8l0.5 0.5v0.8l-0.5 0.5h-0.8l-0.5 -0.5v-0.8zM329.4 261.5h0.8l0.5 0.5v0.8l-0.5 0.5h-0.8l-0.5 -0.5v-0.8zM329.9 261.0h0.8l0.5 0.5v0.8l-0.5 0.5h-0.8l-0.5 -0.5v-0.8zM330.4 261.4h0.8l0.5 0.5v0.8l-0.5 0.5h-0.8l-0.5 -0.5v-0.8zM331.0 261.4h0.8l0.5 0.5v0.8l-0.5 0.5h-0.8l-0.5 -0.5v-0.8zM331.5 261.4h0.8l0.5 0.5v0.8l-0.5 0.5h-0.8l-0.5 -0.5v-0.8zM332.1 261.5h0.8l0.5 0.5v0.8l-0.5 0.5h-0.8l-0.5 -0.5v-0.8zM332.6 261.5h0.8l0.5 0.5v0.8l-0.5 0.5h-0.8l-0.5 -0.5v-0.8zM333.1 261.4h0.8l0.5 0.5v0.8l-0.5 0.5h-0.8l-0.5 -0.5v-0.8zM333.7 261.4h0.8l0.5 0.5v0.8l-0.5 0.5h-0.8l-0.5 -0.5v-0.8zM334.2 261.5h0.8l0.5 0.5v0.8l-0.5 0.5h-0.8l-0.5 -0.5v-0.8zM334.8 261.5h0.8l0.5 0.5v0.8l-0.5 0.5h-0.8l-0.5 -0.5v-0.8zM335.3 261.7h0.8l0.5 0.5v0.8l-0.5 0.5h-0.8l-0.5 -0.5v-0.8zM335.8 261.4h0.8l0.5 0.5v0.8l-0.5 0.5h-0.8l-0.5 -0.5v-0.8zM336.4 261.6h0.8l0.5 0.5v0.8l-0.5 0.5h-0.8l-0.5 -0.5v-0.8zM336.9 261.5h0.8l0.5 0.5v0.8l-0.5 0.5h-0.8l-0.5 -0.5v-0.8zM337.5 261.7h0.8l0.5 0.5v0.8l-0.5 0.5h-0.8l-0.5 -0.5v-0.8zM338.0 261.6h0.8l0.5 0.5v0.8l-0.5 0.5h-0.8l-0.5 -0.5v-0.8zM338.5 261.5h0.8l0.5 0.5v0.8l-0.5 0.5h-0.8l-0.5 -0.5v-0.8zM339.1 261.7h0.8l0.5 0.5v0.8l-0.5 0.5h-0.8l-0.5 -0.5v-0.8zM339.6 261.1h0.8l0.5 0.5v0.8l-0.5 0.5h-0.8l-0.5 -0.5v-0.8zM340.2 261.6h0.8l0.5 0.5v0.8l-0.5 0.5h-0.8l-0.5 -0.5v-0.8zM340.7 261.6h0.8l0.5 0.5v0.8l-0.5 0.5h-0.8l-0.5 -0.5v-0.8zM341.2 261.7h0.8l0.5 0.5v0.8l-0.5 0.5h-0.8l-0.5 -0.5v-0.8zM341.8 261.3h0.8l0.5 0.5v0.8l-0.5 0.5h-0.8l-0.5 -0.5v-0.8zM342.3 261.4h0.8l0.5 0.5v0.8l-0.5 0.5h-0.8l-0.5 -0.5v-0.8zM342.9 261.6h0.8l0.5 0.5v0.8l-0.5 0.5h-0.8l-0.5 -0.5v-0.8zM343.4 261.9h0.8l0.5 0.5v0.8l-0.5 0.5h-0.8l-0.5 -0.5v-0.8zM343.9 261.7h0.8l0.5 0.5v0.8l-0.5 0.5h-0.8l-0.5 -0.5v-0.8zM344.5 261.6h0.8l0.5 0.5v0.8l-0.5 0.5h-0.8l-0.5 -0.5v-0.8zM345.0 261.8h0.8l0.5 0.5v0.8l-0.5 0.5h-0.8l-0.5 -0.5v-0.8zM345.6 261.9h0.8l0.5 0.5v0.8l-0.5 0.5h-0.8l-0.5 -0.5v-0.8zM346.1 261.9h0.8l0.5 0.5v0.8l-0.5 0.5h-0.8l-0.5 -0.5v-0.8zM346.6 261.8h0.8l0.5 0.5v0.8l-0.5 0.5h-0.8l-0.5 -0.5v-0.8zM347.2 261.7h0.8l0.5 0.5v0.8l-0.5 0.5h-0.8l-0.5 -0.5v-0.8zM347.7 261.8h0.8l0.5 0.5v0.8l-0.5 0.5h-0.8l-0.5 -0.5v-0.8zM348.3 261.8h0.8l0.5 0.5v0.8l-0.5 0.5h-0.8l-0.5 -0.5v-0.8zM348.8 261.3h0.8l0.5 0.5v0.8l-0.5 0.5h-0.8l-0.5 -0.5v-0.8zM349.3 261.5h0.8l0.5 0.5v0.8l-0.5 0.5h-0.8l-0.5 -0.5v-0.8zM349.9 262.0h0.8l0.5 0.5v0.8l-0.5 0.5h-0.8l-0.5 -0.5v-0.8zM350.4 261.7h0.8l0.5 0.5v0.8l-0.5 0.5h-0.8l-0.5 -0.5v-0.8zM351.0 261.8h0.8l0.5 0.5v0.8l-0.5 0.5h-0.8l-0.5 -0.5v-0.8zM351.5 261.8h0.8l0.5 0.5v0.8l-0.5 0.5h-0.8l-0.5 -0.5v-0.8zM352.0 261.7h0.8l0.5 0.5v0.8l-0.5 0.5h-0.8l-0.5 -0.5v-0.8zM352.6 261.9h0.8l0.5 0.5v0.8l-0.5 0.5h-0.8l-0.5 -0.5v-0.8zM353.1 261.9h0.8l0.5 0.5v0.8l-0.5 0.5h-0.8l-0.5 -0.5v-0.8zM353.7 261.9h0.8l0.5 0.5v0.8l-0.5 0.5h-0.8l-0.5 -0.5v-0.8zM354.2 261.9h0.8l0.5 0.5v0.8l-0.5 0.5h-0.8l-0.5 -0.5v-0.8zM354.7 261.7h0.8l0.5 0.5v0.8l-0.5 0.5h-0.8l-0.5 -0.5v-0.8zM355.3 261.8h0.8l0.5 0.5v0.8l-0.5 0.5h-0.8l-0.5 -0.5v-0.8zM355.8 262.1h0.8l0.5 0.5v0.8l-0.5 0.5h-0.8l-0.5 -0.5v-0.8zM356.4 262.0h0.8l0.5 0.5v0.8l-0.5 0.5h-0.8l-0.5 -0.5v-0.8zM356.9 262.1h0.8l0.5 0.5v0.8l-0.5 0.5h-0.8l-0.5 -0.5v-0.8zM357.4 261.8h0.8l0.5 0.5v0.8l-0.5 0.5h-0.8l-0.5 -0.5v-0.8zM358.0 261.9h0.8l0.5 0.5v0.8l-0.5 0.5h-0.8l-0.5 -0.5v-0.8zM358.5 261.8h0.8l0.5 0.5v0.8l-0.5 0.5h-0.8l-0.5 -0.5v-0.8zM359.1 262.0h0.8l0.5 0.5v0.8l-0.5 0.5h-0.8l-0.5 -0.5v-0.8zM359.6 262.3h0.8l0.5 0.5v0.8l-0.5 0.5h-0.8l-0.5 -0.5v-0.8zM360.1 261.9h0.8l0.5 0.5v0.8l-0.5 0.5h-0.8l-0.5 -0.5v-0.8zM360.7 262.0h0.8l0.5 0.5v0.8l-0.5 0.5h-0.8l-0.5 -0.5v-0.8zM361.2 261.9h0.8l0.5 0.5v0.8l-0.5 0.5h-0.8l-0.5 -0.5v-0.8zM361.8 262.2h0.8l0.5 0.5v0.8l-0.5 0.5h-0.8l-0.5 -0.5v-0.8zM362.3 262.0h0.8l0.5 0.5v0.8l-0.5 0.5h-0.8l-0.5 -0.5v-0.8zM362.8 262.2h0.8l0.5 0.5v0.8l-0.5 0.5h-0.8l-0.5 -0.5v-0.8zM363.4 262.2h0.8l0.5 0.5v0.8l-0.5 0.5h-0.8l-0.5 -0.5v-0.8zM363.9 262.0h0.8l0.5 0.5v0.8l-0.5 0.5h-0.8l-0.5 -0.5v-0.8zM364.5 262.0h0.8l0.5 0.5v0.8l-0.5 0.5h-0.8l-0.5 -0.5v-0.8zM365.0 262.2h0.8l0.5 0.5v0.8l-0.5 0.5h-0.8l-0.5 -0.5v-0.8zM365.5 262.4h0.8l0.5 0.5v0.8l-0.5 0.5h-0.8l-0.5 -0.5v-0.8zM366.1 262.5h0.8l0.5 0.5v0.8l-0.5 0.5h-0.8l-0.5 -0.5v-0.8zM366.6 262.2h0.8l0.5 0.5v0.8l-0.5 0.5h-0.8l-0.5 -0.5v-0.8zM367.2 262.0h0.8l0.5 0.5v0.8l-0.5 0.5h-0.8l-0.5 -0.5v-0.8zM367.7 262.1h0.8l0.5 0.5v0.8l-0.5 0.5h-0.8l-0.5 -0.5v-0.8zM368.2 262.5h0.8l0.5 0.5v0.8l-0.5 0.5h-0.8l-0.5 -0.5v-0.8zM368.8 262.3h0.8l0.5 0.5v0.8l-0.5 0.5h-0.8l-0.5 -0.5v-0.8zM369.3 262.1h0.8l0.5 0.5v0.8l-0.5 0.5h-0.8l-0.5 -0.5v-0.8zM369.9 261.9h0.8l0.5 0.5v0.8l-0.5 0.5h-0.8l-0.5 -0.5v-0.8zM370.4 262.0h0.8l0.5 0.5v0.8l-0.5 0.5h-0.8l-0.5 -0.5v-0.8zM370.9 262.1h0.8l0.5 0.5v0.8l-0.5 0.5h-0.8l-0.5 -0.5v-0.8zM371.5 262.2h0.8l0.5 0.5v0.8l-0.5 0.5h-0.8l-0.5 -0.5v-0.8zM372.0 262.4h0.8l0.5 0.5v0.8l-0.5 0.5h-0.8l-0.5 -0.5v-0.8zM372.6 262.3h0.8l0.5 0.5v0.8l-0.5 0.5h-0.8l-0.5 -0.5v-0.8zM373.1 262.3h0.8l0.5 0.5v0.8l-0.5 0.5h-0.8l-0.5 -0.5v-0.8zM373.6 262.4h0.8l0.5 0.5v0.8l-0.5 0.5h-0.8l-0.5 -0.5v-0.8zM374.2 262.2h0.8l0.5 0.5v0.8l-0.5 0.5h-0.8l-0.5 -0.5v-0.8zM374.7 262.3h0.8l0.5 0.5v0.8l-0.5 0.5h-0.8l-0.5 -0.5v-0.8zM375.3 262.2h0.8l0.5 0.5v0.8l-0.5 0.5h-0.8l-0.5 -0.5v-0.8zM375.8 262.1h0.8l0.5 0.5v0.8l-0.5 0.5h-0.8l-0.5 -0.5v-0.8zM376.3 262.2h0.8l0.5 0.5v0.8l-0.5 0.5h-0.8l-0.5 -0.5v-0.8zM376.9 262.2h0.8l0.5 0.5v0.8l-0.5 0.5h-0.8l-0.5 -0.5v-0.8zM377.4 262.3h0.8l0.5 0.5v0.8l-0.5 0.5h-0.8l-0.5 -0.5v-0.8zM378.0 262.5h0.8l0.5 0.5v0.8l-0.5 0.5h-0.8l-0.5 -0.5v-0.8zM378.5 262.3h0.8l0.5 0.5v0.8l-0.5 0.5h-0.8l-0.5 -0.5v-0.8zM379.0 262.2h0.8l0.5 0.5v0.8l-0.5 0.5h-0.8l-0.5 -0.5v-0.8zM379.6 262.5h0.8l0.5 0.5v0.8l-0.5 0.5h-0.8l-0.5 -0.5v-0.8zM380.1 262.1h0.8l0.5 0.5v0.8l-0.5 0.5h-0.8l-0.5 -0.5v-0.8zM380.7 262.4h0.8l0.5 0.5v0.8l-0.5 0.5h-0.8l-0.5 -0.5v-0.8zM381.2 262.3h0.8l0.5 0.5v0.8l-0.5 0.5h-0.8l-0.5 -0.5v-0.8zM381.7 262.4h0.8l0.5 0.5v0.8l-0.5 0.5h-0.8l-0.5 -0.5v-0.8zM382.3 262.6h0.8l0.5 0.5v0.8l-0.5 0.5h-0.8l-0.5 -0.5v-0.8zM382.8 262.1h0.8l0.5 0.5v0.8l-0.5 0.5h-0.8l-0.5 -0.5v-0.8zM383.4 262.6h0.8l0.5 0.5v0.8l-0.5 0.5h-0.8l-0.5 -0.5v-0.8zM383.9 262.3h0.8l0.5 0.5v0.8l-0.5 0.5h-0.8l-0.5 -0.5v-0.8zM384.4 262.5h0.8l0.5 0.5v0.8l-0.5 0.5h-0.8l-0.5 -0.5v-0.8zM385.0 262.4h0.8l0.5 0.5v0.8l-0.5 0.5h-0.8l-0.5 -0.5v-0.8zM385.5 262.5h0.8l0.5 0.5v0.8l-0.5 0.5h-0.8l-0.5 -0.5v-0.8zM386.1 262.5h0.8l0.5 0.5v0.8l-0.5 0.5h-0.8l-0.5 -0.5v-0.8zM386.6 262.3h0.8l0.5 0.5v0.8l-0.5 0.5h-0.8l-0.5 -0.5v-0.8zM387.1 262.2h0.8l0.5 0.5v0.8l-0.5 0.5h-0.8l-0.5 -0.5v-0.8zM387.7 262.6h0.8l0.5 0.5v0.8l-0.5 0.5h-0.8l-0.5 -0.5v-0.8zM388.2 262.5h0.8l0.5 0.5v0.8l-0.5 0.5h-0.8l-0.5 -0.5v-0.8zM388.8 262.3h0.8l0.5 0.5v0.8l-0.5 0.5h-0.8l-0.5 -0.5v-0.8zM389.3 262.6h0.8l0.5 0.5v0.8l-0.5 0.5h-0.8l-0.5 -0.5v-0.8zM389.8 262.4h0.8l0.5 0.5v0.8l-0.5 0.5h-0.8l-0.5 -0.5v-0.8zM390.4 262.6h0.8l0.5 0.5v0.8l-0.5 0.5h-0.8l-0.5 -0.5v-0.8zM390.9 262.4h0.8l0.5 0.5v0.8l-0.5 0.5h-0.8l-0.5 -0.5v-0.8zM391.5 262.4h0.8l0.5 0.5v0.8l-0.5 0.5h-0.8l-0.5 -0.5v-0.8zM392.0 262.3h0.8l0.5 0.5v0.8l-0.5 0.5h-0.8l-0.5 -0.5v-0.8zM392.5 262.5h0.8l0.5 0.5v0.8l-0.5 0.5h-0.8l-0.5 -0.5v-0.8zM393.1 262.7h0.8l0.5 0.5v0.8l-0.5 0.5h-0.8l-0.5 -0.5v-0.8zM393.6 262.4h0.8l0.5 0.5v0.8l-0.5 0.5h-0.8l-0.5 -0.5v-0.8zM394.2 262.7h0.8l0.5 0.5v0.8l-0.5 0.5h-0.8l-0.5 -0.5v-0.8zM394.7 262.4h0.8l0.5 0.5v0.8l-0.5 0.5h-0.8l-0.5 -0.5v-0.8zM395.2 262.3h0.8l0.5 0.5v0.8l-0.5 0.5h-0.8l-0.5 -0.5v-0.8zM395.8 262.5h0.8l0.5 0.5v0.8l-0.5 0.5h-0.8l-0.5 -0.5v-0.8zM396.3 262.6h0.8l0.5 0.5v0.8l-0.5 0.5h-0.8l-0.5 -0.5v-0.8zM396.9 262.4h0.8l0.5 0.5v0.8l-0.5 0.5h-0.8l-0.5 -0.5v-0.8zM397.4 262.6h0.8l0.5 0.5v0.8l-0.5 0.5h-0.8l-0.5 -0.5v-0.8zM397.9 262.8h0.8l0.5 0.5v0.8l-0.5 0.5h-0.8l-0.5 -0.5v-0.8zM398.5 262.6h0.8l0.5 0.5v0.8l-0.5 0.5h-0.8l-0.5 -0.5v-0.8zM399.0 262.4h0.8l0.5 0.5v0.8l-0.5 0.5h-0.8l-0.5 -0.5v-0.8zM399.6 262.6h0.8l0.5 0.5v0.8l-0.5 0.5h-0.8l-0.5 -0.5v-0.8zM400.1 262.6h0.8l0.5 0.5v0.8l-0.5 0.5h-0.8l-0.5 -0.5v-0.8zM400.6 262.7h0.8l0.5 0.5v0.8l-0.5 0.5h-0.8l-0.5 -0.5v-0.8zM401.2 262.9h0.8l0.5 0.5v0.8l-0.5 0.5h-0.8l-0.5 -0.5v-0.8zM401.7 262.7h0.8l0.5 0.5v0.8l-0.5 0.5h-0.8l-0.5 -0.5v-0.8zM402.3 262.6h0.8l0.5 0.5v0.8l-0.5 0.5h-0.8l-0.5 -0.5v-0.8zM402.8 262.6h0.8l0.5 0.5v0.8l-0.5 0.5h-0.8l-0.5 -0.5v-0.8zM403.3 262.7h0.8l0.5 0.5v0.8l-0.5 0.5h-0.8l-0.5 -0.5v-0.8zM403.9 263.0h0.8l0.5 0.5v0.8l-0.5 0.5h-0.8l-0.5 -0.5v-0.8zM404.4 262.5h0.8l0.5 0.5v0.8l-0.5 0.5h-0.8l-0.5 -0.5v-0.8zM405.0 262.6h0.8l0.5 0.5v0.8l-0.5 0.5h-0.8l-0.5 -0.5v-0.8zM405.5 262.5h0.8l0.5 0.5v0.8l-0.5 0.5h-0.8l-0.5 -0.5v-0.8zM406.0 262.5h0.8l0.5 0.5v0.8l-0.5 0.5h-0.8l-0.5 -0.5v-0.8zM406.6 262.7h0.8l0.5 0.5v0.8l-0.5 0.5h-0.8l-0.5 -0.5v-0.8zM407.1 262.8h0.8l0.5 0.5v0.8l-0.5 0.5h-0.8l-0.5 -0.5v-0.8zM407.7 262.7h0.8l0.5 0.5v0.8l-0.5 0.5h-0.8l-0.5 -0.5v-0.8zM408.2 262.5h0.8l0.5 0.5v0.8l-0.5 0.5h-0.8l-0.5 -0.5v-0.8zM408.7 262.9h0.8l0.5 0.5v0.8l-0.5 0.5h-0.8l-0.5 -0.5v-0.8zM409.3 262.7h0.8l0.5 0.5v0.8l-0.5 0.5h-0.8l-0.5 -0.5v-0.8zM409.8 262.8h0.8l0.5 0.5v0.8l-0.5 0.5h-0.8l-0.5 -0.5v-0.8zM410.4 262.6h0.8l0.5 0.5v0.8l-0.5 0.5h-0.8l-0.5 -0.5v-0.8zM410.9 262.5h0.8l0.5 0.5v0.8l-0.5 0.5h-0.8l-0.5 -0.5v-0.8zM411.4 262.8h0.8l0.5 0.5v0.8l-0.5 0.5h-0.8l-0.5 -0.5v-0.8zM412.0 262.9h0.8l0.5 0.5v0.8l-0.5 0.5h-0.8l-0.5 -0.5v-0.8zM412.5 262.7h0.8l0.5 0.5v0.8l-0.5 0.5h-0.8l-0.5 -0.5v-0.8zM413.1 262.8h0.8l0.5 0.5v0.8l-0.5 0.5h-0.8l-0.5 -0.5v-0.8zM413.6 263.0h0.8l0.5 0.5v0.8l-0.5 0.5h-0.8l-0.5 -0.5v-0.8zM414.1 262.6h0.8l0.5 0.5v0.8l-0.5 0.5h-0.8l-0.5 -0.5v-0.8zM414.7 262.8h0.8l0.5 0.5v0.8l-0.5 0.5h-0.8l-0.5 -0.5v-0.8zM415.2 262.7h0.8l0.5 0.5v0.8l-0.5 0.5h-0.8l-0.5 -0.5v-0.8zM415.8 263.0h0.8l0.5 0.5v0.8l-0.5 0.5h-0.8l-0.5 -0.5v-0.8zM416.3 262.6h0.8l0.5 0.5v0.8l-0.5 0.5h-0.8l-0.5 -0.5v-0.8zM416.8 263.0h0.8l0.5 0.5v0.8l-0.5 0.5h-0.8l-0.5 -0.5v-0.8zM417.4 262.6h0.8l0.5 0.5v0.8l-0.5 0.5h-0.8l-0.5 -0.5v-0.8zM417.9 263.1h0.8l0.5 0.5v0.8l-0.5 0.5h-0.8l-0.5 -0.5v-0.8zM418.5 262.6h0.8l0.5 0.5v0.8l-0.5 0.5h-0.8l-0.5 -0.5v-0.8zM419.0 262.9h0.8l0.5 0.5v0.8l-0.5 0.5h-0.8l-0.5 -0.5v-0.8zM419.5 263.0h0.8l0.5 0.5v0.8l-0.5 0.5h-0.8l-0.5 -0.5v-0.8zM420.1 262.9h0.8l0.5 0.5v0.8l-0.5 0.5h-0.8l-0.5 -0.5v-0.8zM420.6 262.8h0.8l0.5 0.5v0.8l-0.5 0.5h-0.8l-0.5 -0.5v-0.8zM421.2 263.0h0.8l0.5 0.5v0.8l-0.5 0.5h-0.8l-0.5 -0.5v-0.8zM421.7 262.9h0.8l0.5 0.5v0.8l-0.5 0.5h-0.8l-0.5 -0.5v-0.8zM422.2 262.8h0.8l0.5 0.5v0.8l-0.5 0.5h-0.8l-0.5 -0.5v-0.8zM422.8 262.9h0.8l0.5 0.5v0.8l-0.5 0.5h-0.8l-0.5 -0.5v-0.8zM423.3 263.3h0.8l0.5 0.5v0.8l-0.5 0.5h-0.8l-0.5 -0.5v-0.8zM423.9 262.9h0.8l0.5 0.5v0.8l-0.5 0.5h-0.8l-0.5 -0.5v-0.8zM424.4 262.8h0.8l0.5 0.5v0.8l-0.5 0.5h-0.8l-0.5 -0.5v-0.8zM424.9 262.8h0.8l0.5 0.5v0.8l-0.5 0.5h-0.8l-0.5 -0.5v-0.8zM425.5 262.7h0.8l0.5 0.5v0.8l-0.5 0.5h-0.8l-0.5 -0.5v-0.8zM426.0 263.0h0.8l0.5 0.5v0.8l-0.5 0.5h-0.8l-0.5 -0.5v-0.8zM426.6 262.5h0.8l0.5 0.5v0.8l-0.5 0.5h-0.8l-0.5 -0.5v-0.8zM427.1 262.8h0.8l0.5 0.5v0.8l-0.5 0.5h-0.8l-0.5 -0.5v-0.8zM427.6 262.8h0.8l0.5 0.5v0.8l-0.5 0.5h-0.8l-0.5 -0.5v-0.8zM428.2 262.7h0.8l0.5 0.5v0.8l-0.5 0.5h-0.8l-0.5 -0.5v-0.8zM428.7 262.8h0.8l0.5 0.5v0.8l-0.5 0.5h-0.8l-0.5 -0.5v-0.8zM429.3 262.9h0.8l0.5 0.5v0.8l-0.5 0.5h-0.8l-0.5 -0.5v-0.8zM429.8 263.0h0.8l0.5 0.5v0.8l-0.5 0.5h-0.8l-0.5 -0.5v-0.8zM430.3 262.8h0.8l0.5 0.5v0.8l-0.5 0.5h-0.8l-0.5 -0.5v-0.8zM430.9 262.9h0.8l0.5 0.5v0.8l-0.5 0.5h-0.8l-0.5 -0.5v-0.8zM431.4 263.2h0.8l0.5 0.5v0.8l-0.5 0.5h-0.8l-0.5 -0.5v-0.8zM432.0 263.1h0.8l0.5 0.5v0.8l-0.5 0.5h-0.8l-0.5 -0.5v-0.8zM432.5 262.9h0.8l0.5 0.5v0.8l-0.5 0.5h-0.8l-0.5 -0.5v-0.8zM433.0 262.9h0.8l0.5 0.5v0.8l-0.5 0.5h-0.8l-0.5 -0.5v-0.8zM433.6 262.9h0.8l0.5 0.5v0.8l-0.5 0.5h-0.8l-0.5 -0.5v-0.8zM434.1 262.9h0.8l0.5 0.5v0.8l-0.5 0.5h-0.8l-0.5 -0.5v-0.8zM434.7 262.9h0.8l0.5 0.5v0.8l-0.5 0.5h-0.8l-0.5 -0.5v-0.8zM435.2 262.7h0.8l0.5 0.5v0.8l-0.5 0.5h-0.8l-0.5 -0.5v-0.8zM435.7 263.0h0.8l0.5 0.5v0.8l-0.5 0.5h-0.8l-0.5 -0.5v-0.8zM436.3 263.0h0.8l0.5 0.5v0.8l-0.5 0.5h-0.8l-0.5 -0.5v-0.8zM436.8 262.9h0.8l0.5 0.5v0.8l-0.5 0.5h-0.8l-0.5 -0.5v-0.8zM437.4 262.9h0.8l0.5 0.5v0.8l-0.5 0.5h-0.8l-0.5 -0.5v-0.8zM437.9 262.9h0.8l0.5 0.5v0.8l-0.5 0.5h-0.8l-0.5 -0.5v-0.8zM438.4 262.8h0.8l0.5 0.5v0.8l-0.5 0.5h-0.8l-0.5 -0.5v-0.8zM439.0 263.1h0.8l0.5 0.5v0.8l-0.5 0.5h-0.8l-0.5 -0.5v-0.8zM439.5 262.8h0.8l0.5 0.5v0.8l-0.5 0.5h-0.8l-0.5 -0.5v-0.8zM440.1 262.9h0.8l0.5 0.5v0.8l-0.5 0.5h-0.8l-0.5 -0.5v-0.8zM440.6 263.1h0.8l0.5 0.5v0.8l-0.5 0.5h-0.8l-0.5 -0.5v-0.8zM441.1 263.0h0.8l0.5 0.5v0.8l-0.5 0.5h-0.8l-0.5 -0.5v-0.8zM441.7 262.7h0.8l0.5 0.5v0.8l-0.5 0.5h-0.8l-0.5 -0.5v-0.8zM442.2 262.9h0.8l0.5 0.5v0.8l-0.5 0.5h-0.8l-0.5 -0.5v-0.8zM442.8 263.1h0.8l0.5 0.5v0.8l-0.5 0.5h-0.8l-0.5 -0.5v-0.8zM443.3 263.3h0.8l0.5 0.5v0.8l-0.5 0.5h-0.8l-0.5 -0.5v-0.8zM443.8 263.1h0.8l0.5 0.5v0.8l-0.5 0.5h-0.8l-0.5 -0.5v-0.8zM444.4 263.1h0.8l0.5 0.5v0.8l-0.5 0.5h-0.8l-0.5 -0.5v-0.8zM444.9 263.0h0.8l0.5 0.5v0.8l-0.5 0.5h-0.8l-0.5 -0.5v-0.8zM445.5 262.7h0.8l0.5 0.5v0.8l-0.5 0.5h-0.8l-0.5 -0.5v-0.8zM446.0 262.9h0.8l0.5 0.5v0.8l-0.5 0.5h-0.8l-0.5 -0.5v-0.8zM446.5 263.0h0.8l0.5 0.5v0.8l-0.5 0.5h-0.8l-0.5 -0.5v-0.8zM447.1 263.2h0.8l0.5 0.5v0.8l-0.5 0.5h-0.8l-0.5 -0.5v-0.8zM447.6 263.2h0.8l0.5 0.5v0.8l-0.5 0.5h-0.8l-0.5 -0.5v-0.8zM448.2 263.1h0.8l0.5 0.5v0.8l-0.5 0.5h-0.8l-0.5 -0.5v-0.8zM448.7 263.1h0.8l0.5 0.5v0.8l-0.5 0.5h-0.8l-0.5 -0.5v-0.8zM449.2 262.7h0.8l0.5 0.5v0.8l-0.5 0.5h-0.8l-0.5 -0.5v-0.8zM449.8 263.1h0.8l0.5 0.5v0.8l-0.5 0.5h-0.8l-0.5 -0.5v-0.8zM450.3 263.2h0.8l0.5 0.5v0.8l-0.5 0.5h-0.8l-0.5 -0.5v-0.8zM450.9 262.9h0.8l0.5 0.5v0.8l-0.5 0.5h-0.8l-0.5 -0.5v-0.8zM451.4 263.1h0.8l0.5 0.5v0.8l-0.5 0.5h-0.8l-0.5 -0.5v-0.8zM451.9 263.2h0.8l0.5 0.5v0.8l-0.5 0.5h-0.8l-0.5 -0.5v-0.8zM452.5 262.9h0.8l0.5 0.5v0.8l-0.5 0.5h-0.8l-0.5 -0.5v-0.8zM453.0 263.1h0.8l0.5 0.5v0.8l-0.5 0.5h-0.8l-0.5 -0.5v-0.8zM453.6 263.3h0.8l0.5 0.5v0.8l-0.5 0.5h-0.8l-0.5 -0.5v-0.8zM454.1 263.1h0.8l0.5 0.5v0.8l-0.5 0.5h-0.8l-0.5 -0.5v-0.8zM454.6 263.0h0.8l0.5 0.5v0.8l-0.5 0.5h-0.8l-0.5 -0.5v-0.8zM455.2 263.1h0.8l0.5 0.5v0.8l-0.5 0.5h-0.8l-0.5 -0.5v-0.8zM455.7 263.0h0.8l0.5 0.5v0.8l-0.5 0.5h-0.8l-0.5 -0.5v-0.8zM456.3 263.0h0.8l0.5 0.5v0.8l-0.5 0.5h-0.8l-0.5 -0.5v-0.8zM456.8 263.2h0.8l0.5 0.5v0.8l-0.5 0.5h-0.8l-0.5 -0.5v-0.8zM457.3 263.4h0.8l0.5 0.5v0.8l-0.5 0.5h-0.8l-0.5 -0.5v-0.8zM457.9 263.4h0.8l0.5 0.5v0.8l-0.5 0.5h-0.8l-0.5 -0.5v-0.8zM458.4 263.1h0.8l0.5 0.5v0.8l-0.5 0.5h-0.8l-0.5 -0.5v-0.8zM459.0 263.0h0.8l0.5 0.5v0.8l-0.5 0.5h-0.8l-0.5 -0.5v-0.8zM459.5 263.0h0.8l0.5 0.5v0.8l-0.5 0.5h-0.8l-0.5 -0.5v-0.8zM460.0 262.9h0.8l0.5 0.5v0.8l-0.5 0.5h-0.8l-0.5 -0.5v-0.8zM460.6 262.9h0.8l0.5 0.5v0.8l-0.5 0.5h-0.8l-0.5 -0.5v-0.8zM461.1 263.1h0.8l0.5 0.5v0.8l-0.5 0.5h-0.8l-0.5 -0.5v-0.8zM461.7 263.0h0.8l0.5 0.5v0.8l-0.5 0.5h-0.8l-0.5 -0.5v-0.8zM462.2 263.4h0.8l0.5 0.5v0.8l-0.5 0.5h-0.8l-0.5 -0.5v-0.8zM462.7 263.1h0.8l0.5 0.5v0.8l-0.5 0.5h-0.8l-0.5 -0.5v-0.8zM463.3 263.1h0.8l0.5 0.5v0.8l-0.5 0.5h-0.8l-0.5 -0.5v-0.8zM463.8 263.2h0.8l0.5 0.5v0.8l-0.5 0.5h-0.8l-0.5 -0.5v-0.8zM464.4 263.2h0.8l0.5 0.5v0.8l-0.5 0.5h-0.8l-0.5 -0.5v-0.8zM464.9 263.3h0.8l0.5 0.5v0.8l-0.5 0.5h-0.8l-0.5 -0.5v-0.8zM465.4 263.2h0.8l0.5 0.5v0.8l-0.5 0.5h-0.8l-0.5 -0.5v-0.8zM466.0 263.0h0.8l0.5 0.5v0.8l-0.5 0.5h-0.8l-0.5 -0.5v-0.8zM466.5 263.2h0.8l0.5 0.5v0.8l-0.5 0.5h-0.8l-0.5 -0.5v-0.8zM467.1 263.1h0.8l0.5 0.5v0.8l-0.5 0.5h-0.8l-0.5 -0.5v-0.8zM467.6 263.3h0.8l0.5 0.5v0.8l-0.5 0.5h-0.8l-0.5 -0.5v-0.8zM468.1 263.2h0.8l0.5 0.5v0.8l-0.5 0.5h-0.8l-0.5 -0.5v-0.8zM468.7 263.3h0.8l0.5 0.5v0.8l-0.5 0.5h-0.8l-0.5 -0.5v-0.8zM469.2 263.2h0.8l0.5 0.5v0.8l-0.5 0.5h-0.8l-0.5 -0.5v-0.8zM469.8 263.3h0.8l0.5 0.5v0.8l-0.5 0.5h-0.8l-0.5 -0.5v-0.8zM470.3 263.2h0.8l0.5 0.5v0.8l-0.5 0.5h-0.8l-0.5 -0.5v-0.8zM470.8 263.3h0.8l0.5 0.5v0.8l-0.5 0.5h-0.8l-0.5 -0.5v-0.8zM471.4 263.4h0.8l0.5 0.5v0.8l-0.5 0.5h-0.8l-0.5 -0.5v-0.8zM471.9 263.3h0.8l0.5 0.5v0.8l-0.5 0.5h-0.8l-0.5 -0.5v-0.8zM472.5 263.1h0.8l0.5 0.5v0.8l-0.5 0.5h-0.8l-0.5 -0.5v-0.8zM473.0 263.0h0.8l0.5 0.5v0.8l-0.5 0.5h-0.8l-0.5 -0.5v-0.8zM473.5 263.3h0.8l0.5 0.5v0.8l-0.5 0.5h-0.8l-0.5 -0.5v-0.8zM474.1 263.2h0.8l0.5 0.5v0.8l-0.5 0.5h-0.8l-0.5 -0.5v-0.8zM474.6 263.2h0.8l0.5 0.5v0.8l-0.5 0.5h-0.8l-0.5 -0.5v-0.8zM475.2 263.2h0.8l0.5 0.5v0.8l-0.5 0.5h-0.8l-0.5 -0.5v-0.8zM475.7 263.5h0.8l0.5 0.5v0.8l-0.5 0.5h-0.8l-0.5 -0.5v-0.8zM476.2 263.2h0.8l0.5 0.5v0.8l-0.5 0.5h-0.8l-0.5 -0.5v-0.8zM476.8 263.4h0.8l0.5 0.5v0.8l-0.5 0.5h-0.8l-0.5 -0.5v-0.8zM477.3 263.1h0.8l0.5 0.5v0.8l-0.5 0.5h-0.8l-0.5 -0.5v-0.8zM477.9 263.2h0.8l0.5 0.5v0.8l-0.5 0.5h-0.8l-0.5 -0.5v-0.8zM478.4 263.2h0.8l0.5 0.5v0.8l-0.5 0.5h-0.8l-0.5 -0.5v-0.8zM478.9 263.6h0.8l0.5 0.5v0.8l-0.5 0.5h-0.8l-0.5 -0.5v-0.8zM479.5 263.2h0.8l0.5 0.5v0.8l-0.5 0.5h-0.8l-0.5 -0.5v-0.8zM480.0 263.2h0.8l0.5 0.5v0.8l-0.5 0.5h-0.8l-0.5 -0.5v-0.8zM480.6 263.5h0.8l0.5 0.5v0.8l-0.5 0.5h-0.8l-0.5 -0.5v-0.8zM481.1 263.2h0.8l0.5 0.5v0.8l-0.5 0.5h-0.8l-0.5 -0.5v-0.8zM481.6 263.3h0.8l0.5 0.5v0.8l-0.5 0.5h-0.8l-0.5 -0.5v-0.8zM482.2 263.3h0.8l0.5 0.5v0.8l-0.5 0.5h-0.8l-0.5 -0.5v-0.8zM482.7 263.4h0.8l0.5 0.5v0.8l-0.5 0.5h-0.8l-0.5 -0.5v-0.8zM483.3 263.5h0.8l0.5 0.5v0.8l-0.5 0.5h-0.8l-0.5 -0.5v-0.8zM483.8 263.4h0.8l0.5 0.5v0.8l-0.5 0.5h-0.8l-0.5 -0.5v-0.8zM484.3 262.9h0.8l0.5 0.5v0.8l-0.5 0.5h-0.8l-0.5 -0.5v-0.8zM484.9 263.3h0.8l0.5 0.5v0.8l-0.5 0.5h-0.8l-0.5 -0.5v-0.8zM485.4 263.3h0.8l0.5 0.5v0.8l-0.5 0.5h-0.8l-0.5 -0.5v-0.8zM486.0 263.4h0.8l0.5 0.5v0.8l-0.5 0.5h-0.8l-0.5 -0.5v-0.8zM486.5 263.4h0.8l0.5 0.5v0.8l-0.5 0.5h-0.8l-0.5 -0.5v-0.8zM487.0 263.4h0.8l0.5 0.5v0.8l-0.5 0.5h-0.8l-0.5 -0.5v-0.8zM487.6 263.5h0.8l0.5 0.5v0.8l-0.5 0.5h-0.8l-0.5 -0.5v-0.8zM488.1 263.2h0.8l0.5 0.5v0.8l-0.5 0.5h-0.8l-0.5 -0.5v-0.8zM488.7 263.4h0.8l0.5 0.5v0.8l-0.5 0.5h-0.8l-0.5 -0.5v-0.8zM489.2 263.2h0.8l0.5 0.5v0.8l-0.5 0.5h-0.8l-0.5 -0.5v-0.8zM489.7 263.5h0.8l0.5 0.5v0.8l-0.5 0.5h-0.8l-0.5 -0.5v-0.8zM490.3 263.2h0.8l0.5 0.5v0.8l-0.5 0.5h-0.8l-0.5 -0.5v-0.8zM490.8 263.4h0.8l0.5 0.5v0.8l-0.5 0.5h-0.8l-0.5 -0.5v-0.8zM491.4 263.3h0.8l0.5 0.5v0.8l-0.5 0.5h-0.8l-0.5 -0.5v-0.8zM491.9 263.4h0.8l0.5 0.5v0.8l-0.5 0.5h-0.8l-0.5 -0.5v-0.8zM492.4 263.5h0.8l0.5 0.5v0.8l-0.5 0.5h-0.8l-0.5 -0.5v-0.8zM493.0 263.2h0.8l0.5 0.5v0.8l-0.5 0.5h-0.8l-0.5 -0.5v-0.8zM493.5 263.4h0.8l0.5 0.5v0.8l-0.5 0.5h-0.8l-0.5 -0.5v-0.8zM494.1 263.4h0.8l0.5 0.5v0.8l-0.5 0.5h-0.8l-0.5 -0.5v-0.8zM494.6 263.5h0.8l0.5 0.5v0.8l-0.5 0.5h-0.8l-0.5 -0.5v-0.8zM495.1 263.4h0.8l0.5 0.5v0.8l-0.5 0.5h-0.8l-0.5 -0.5v-0.8zM495.7 263.4h0.8l0.5 0.5v0.8l-0.5 0.5h-0.8l-0.5 -0.5v-0.8zM496.2 263.4h0.8l0.5 0.5v0.8l-0.5 0.5h-0.8l-0.5 -0.5v-0.8zM496.8 263.4h0.8l0.5 0.5v0.8l-0.5 0.5h-0.8l-0.5 -0.5v-0.8zM497.3 263.5h0.8l0.5 0.5v0.8l-0.5 0.5h-0.8l-0.5 -0.5v-0.8zM497.8 263.6h0.8l0.5 0.5v0.8l-0.5 0.5h-0.8l-0.5 -0.5v-0.8zM498.4 263.4h0.8l0.5 0.5v0.8l-0.5 0.5h-0.8l-0.5 -0.5v-0.8zM498.9 263.3h0.8l0.5 0.5v0.8l-0.5 0.5h-0.8l-0.5 -0.5v-0.8zM499.5 263.3h0.8l0.5 0.5v0.8l-0.5 0.5h-0.8l-0.5 -0.5v-0.8zM500.0 263.6h0.8l0.5 0.5v0.8l-0.5 0.5h-0.8l-0.5 -0.5v-0.8zM500.5 263.3h0.8l0.5 0.5v0.8l-0.5 0.5h-0.8l-0.5 -0.5v-0.8zM501.1 263.4h0.8l0.5 0.5v0.8l-0.5 0.5h-0.8l-0.5 -0.5v-0.8zM501.6 263.4h0.8l0.5 0.5v0.8l-0.5 0.5h-0.8l-0.5 -0.5v-0.8zM502.2 263.4h0.8l0.5 0.5v0.8l-0.5 0.5h-0.8l-0.5 -0.5v-0.8zM502.7 263.5h0.8l0.5 0.5v0.8l-0.5 0.5h-0.8l-0.5 -0.5v-0.8zM503.2 263.4h0.8l0.5 0.5v0.8l-0.5 0.5h-0.8l-0.5 -0.5v-0.8zM503.8 263.3h0.8l0.5 0.5v0.8l-0.5 0.5h-0.8l-0.5 -0.5v-0.8zM504.3 263.5h0.8l0.5 0.5v0.8l-0.5 0.5h-0.8l-0.5 -0.5v-0.8zM504.9 263.6h0.8l0.5 0.5v0.8l-0.5 0.5h-0.8l-0.5 -0.5v-0.8zM505.4 263.5h0.8l0.5 0.5v0.8l-0.5 0.5h-0.8l-0.5 -0.5v-0.8zM505.9 263.4h0.8l0.5 0.5v0.8l-0.5 0.5h-0.8l-0.5 -0.5v-0.8zM506.5 263.7h0.8l0.5 0.5v0.8l-0.5 0.5h-0.8l-0.5 -0.5v-0.8zM507.0 263.5h0.8l0.5 0.5v0.8l-0.5 0.5h-0.8l-0.5 -0.5v-0.8zM507.6 263.4h0.8l0.5 0.5v0.8l-0.5 0.5h-0.8l-0.5 -0.5v-0.8zM508.1 263.5h0.8l0.5 0.5v0.8l-0.5 0.5h-0.8l-0.5 -0.5v-0.8zM508.6 263.4h0.8l0.5 0.5v0.8l-0.5 0.5h-0.8l-0.5 -0.5v-0.8zM509.2 263.6h0.8l0.5 0.5v0.8l-0.5 0.5h-0.8l-0.5 -0.5v-0.8zM509.7 263.3h0.8l0.5 0.5v0.8l-0.5 0.5h-0.8l-0.5 -0.5v-0.8zM510.3 263.2h0.8l0.5 0.5v0.8l-0.5 0.5h-0.8l-0.5 -0.5v-0.8zM510.8 263.5h0.8l0.5 0.5v0.8l-0.5 0.5h-0.8l-0.5 -0.5v-0.8zM511.3 263.6h0.8l0.5 0.5v0.8l-0.5 0.5h-0.8l-0.5 -0.5v-0.8zM511.9 263.6h0.8l0.5 0.5v0.8l-0.5 0.5h-0.8l-0.5 -0.5v-0.8zM512.4 263.4h0.8l0.5 0.5v0.8l-0.5 0.5h-0.8l-0.5 -0.5v-0.8zM513.0 263.5h0.8l0.5 0.5v0.8l-0.5 0.5h-0.8l-0.5 -0.5v-0.8zM513.5 263.6h0.8l0.5 0.5v0.8l-0.5 0.5h-0.8l-0.5 -0.5v-0.8zM514.0 263.3h0.8l0.5 0.5v0.8l-0.5 0.5h-0.8l-0.5 -0.5v-0.8zM514.6 263.4h0.8l0.5 0.5v0.8l-0.5 0.5h-0.8l-0.5 -0.5v-0.8zM515.1 263.4h0.8l0.5 0.5v0.8l-0.5 0.5h-0.8l-0.5 -0.5v-0.8zM515.7 263.7h0.8l0.5 0.5v0.8l-0.5 0.5h-0.8l-0.5 -0.5v-0.8zM516.2 263.5h0.8l0.5 0.5v0.8l-0.5 0.5h-0.8l-0.5 -0.5v-0.8zM516.7 263.4h0.8l0.5 0.5v0.8l-0.5 0.5h-0.8l-0.5 -0.5v-0.8zM517.3 263.6h0.8l0.5 0.5v0.8l-0.5 0.5h-0.8l-0.5 -0.5v-0.8zM517.8 263.4h0.8l0.5 0.5v0.8l-0.5 0.5h-0.8l-0.5 -0.5v-0.8zM518.4 263.3h0.8l0.5 0.5v0.8l-0.5 0.5h-0.8l-0.5 -0.5v-0.8zM518.9 263.4h0.8l0.5 0.5v0.8l-0.5 0.5h-0.8l-0.5 -0.5v-0.8zM519.4 263.6h0.8l0.5 0.5v0.8l-0.5 0.5h-0.8l-0.5 -0.5v-0.8zM520.0 263.6h0.8l0.5 0.5v0.8l-0.5 0.5h-0.8l-0.5 -0.5v-0.8zM520.5 263.4h0.8l0.5 0.5v0.8l-0.5 0.5h-0.8l-0.5 -0.5v-0.8zM521.1 263.4h0.8l0.5 0.5v0.8l-0.5 0.5h-0.8l-0.5 -0.5v-0.8zM521.6 263.3h0.8l0.5 0.5v0.8l-0.5 0.5h-0.8l-0.5 -0.5v-0.8zM522.1 263.4h0.8l0.5 0.5v0.8l-0.5 0.5h-0.8l-0.5 -0.5v-0.8zM522.7 263.5h0.8l0.5 0.5v0.8l-0.5 0.5h-0.8l-0.5 -0.5v-0.8zM523.2 263.6h0.8l0.5 0.5v0.8l-0.5 0.5h-0.8l-0.5 -0.5v-0.8zM523.8 263.7h0.8l0.5 0.5v0.8l-0.5 0.5h-0.8l-0.5 -0.5v-0.8zM524.3 263.4h0.8l0.5 0.5v0.8l-0.5 0.5h-0.8l-0.5 -0.5v-0.8zM524.8 263.2h0.8l0.5 0.5v0.8l-0.5 0.5h-0.8l-0.5 -0.5v-0.8zM525.4 263.6h0.8l0.5 0.5v0.8l-0.5 0.5h-0.8l-0.5 -0.5v-0.8zM525.9 263.6h0.8l0.5 0.5v0.8l-0.5 0.5h-0.8l-0.5 -0.5v-0.8zM526.5 263.4h0.8l0.5 0.5v0.8l-0.5 0.5h-0.8l-0.5 -0.5v-0.8zM527.0 263.5h0.8l0.5 0.5v0.8l-0.5 0.5h-0.8l-0.5 -0.5v-0.8z"/>
<path fill="#0000ff" d="M281.4 177.7l1.2 2.2h-2.4zM281.8 184.3l1.2 2.2h-2.4zM282.1 190.3l1.2 2.2h-2.4zM282.5 190.9l1.2 2.2h-2.4zM282.8 193.4l1.2 2.2h-2.4zM283.1 195.2l1.2 2.2h-2.4zM283.5 201.9l1.2 2.2h-2.4zM283.8 203.1l1.2 2.2h-2.4zM284.1 203.3l1.2 2.2h-2.4zM284.5 208.1l1.2 2.2h-2.4zM284.8 208.2l1.2 2.2h-2.4zM285.2 204.8l1.2 2.2h-2.4zM285.5 209.4l1.2 2.2h-2.4zM285.8 212.3l1.2 2.2h-2.4zM286.2 211.3l1.2 2.2h-2.4zM286.5 213.0l1.2 2.2h-2.4zM286.9 214.8l1.2 2.2h-2.4zM287.2 216.1l1.2 2.2h-2.4zM287.5 217.3l1.2 2.2h-2.4zM287.9 211.9l1.2 2.2h-2.4zM288.2 218.2l1.2 2.2h-2.4zM288.5 218.1l1.2 2.2h-2.4zM288.9 218.3l1.2 2.2h-2.4zM289.2 218.4l1.2 2.2h-2.4zM289.6 222.4l1.2 2.2h-2.4zM289.9 220.0l1.2 2.2h-2.4zM290.2 220.2l1.2 2.2h-2.4zM290.6 220.2l1.2 2.2h-2.4zM290.9 226.1l1.2 2.2h-2.4zM291.2 223.7l1.2 2.2h-2.4zM291.6 225.5l1.2 2.2h-2.4zM291.9 228.0l1.2 2.2h-2.4zM292.2 225.8l1.2 2.2h-2.4zM292.6 228.7l1.2 2.2h-2.4zM292.9 226.5l1.2 2.2h-2.4zM293.3 229.7l1.2 2.2h-2.4zM293.6 228.1l1.2 2.2h-2.4zM294.1 230.9l1.2 2.2h-2.4zM294.7 229.1l1.2 2.2h-2.4zM295.2 233.2l1.2 2.2h-2.4zM295.8 233.0l1.2 2.2h-2.4zM296.3 231.0l1.2 2.2h-2.4zM296.8 235.0l1.2 2.2h-2.4zM297.4 233.3l1.2 2.2h-2.4zM297.9 235.0l1.2 2.2h-2.4zM298.5 236.5l1.2 2.2h-2.4zM299.0 236.2l1.2 2.2h-2.4zM299.5 235.2l1.2 2.2h-2.4zM300.1 234.3l1.2 2.2h-2.4zM300.6 237.2l1.2 2.2h-2.4zM301.2 236.9l1.2 2.2h-2.4zM301.7 238.6l1.2 2.2h-2.4zM302.2 237.5l1.2 2.2h-2.4zM302.8 238.6l1.2 2.2h-2.4zM303.3 238.7l1.2 2.2h-2.4zM303.9 239.6l1.2 2.2h-2.4zM304.4 239.3l1.2 2.2h-2.4zM304.9 239.0l1.2 2.2h-2.4zM305.5 240.7l1.2 2.2h-2.4zM306.0 239.2l1.2 2.2h-2.4zM306.6 237.5l1.2 2.2h-2.4zM307.1 239.9l1.2 2.2h-2.4zM307.6 237.5l1.2 2.2h-2.4zM308.2 242.4l1.2 2.2h-2.4zM308.7 242.1l1.2 2.2h-2.4zM309.3 238.7l1.2 2.2h-2.4zM309.8 241.2l1.2 2.2h-2.4zM310.3 243.1l1.2 2.2h-2.4zM310.9 239.3l1.2 2.2h-2.4zM311.4 245.4l1.2 2.2h-2.4zM312.0 241.9l1.2 2.2h-2.4zM312.5 240.7l1.2 2.2h-2.4zM313.0 243.5l1.2 2.2h-2.4zM313.6 244.7l1.2 2.2h-2.4zM314.1 244.0l1.2 2.2h-2.4zM314.7 244.7l1.2 2.2h-2.4zM315.2 244.8l1.2 2.2h-2.4zM315.7 244.4l1.2 2.2h-2.4zM316.3 245.0l1.2 2.2h-2.4zM316.8 245.8l1.2 2.2h-2.4zM317.4 246.2l1.2 2.2h-2.4zM317.9 247.1l1.2 2.2h-2.4zM318.4 244.2l1.2 2.2h-2.4zM319.0 246.6l1.2 2.2h-2.4zM319.5 244.1l1.2 2.2h-2.4zM320.1 246.6l1.2 2.2h-2.4zM320.6 243.1l1.2 2.2h-2.4zM321.1 244.3l1.2 2.2h-2.4zM321.7 246.6l1.2 2.2h-2.4zM322.2 246.4l1.2 2.2h-2.4zM322.8 246.5l1.2 2.2h-2.4zM323.3 244.5l1.2 2.2h-2.4zM323.8 246.7l1.2 2.2h-2.4zM324.4 247.7l1.2 2.2h-2.4zM324.9 246.0l1.2 2.2h-2.4zM325.5 244.8l1.2 2.2h-2.4zM326.0 249.1l1.2 2.2h-2.4zM326.5 246.9l1.2 2.2h-2.4zM327.1 248.2l1.2 2.2h-2.4zM327.6 247.6l1.2 2.2h-2.4zM328.2 248.8l1.2 2.2h-2.4zM328.7 246.6l1.2 2.2h-2.4zM329.2 250.2l1.2 2.2h-2.4zM329.8 248.2l1.2 2.2h-2.4zM330.3 247.6l1.2 2.2h-2.4zM330.9 248.6l1.2 2.2h-2.4zM331.4 249.2l1.2 2.2h-2.4zM331.9 249.2l1.2 2.2h-2.4zM332.5 248.4l1.2 2.2h-2.4zM333.0 250.8l1.2 2.2h-2.4zM333.6 248.8l1.2 2.2h-2.4zM334.1 247.8l1.2 2.2h-2.4zM334.6 250.7l1.2 2.2h-2.4zM335.2 250.4l1.2 2.2h-2.4zM335.7 245.2l1.2 2.2h-2.4zM336.3 249.2l1.2 2.2h-2.4zM336.8 250.7l1.2 2.2h-2.4zM337.3 249.8l1.2 2.2h-2.4zM337.9 249.0l1.2 2.2h-2.4zM338.4 251.1l1.2 2.2h-2.4zM339.0 250.4l1.2 2.2h-2.4zM339.5 250.0l1.2 2.2h-2.4zM340.0 251.3l1.2 2.2h-2.4zM340.6 249.5l1.2 2.2h-2.4zM341.1 251.4l1.2 2.2h-2.4zM341.7 251.4l1.2 2.2h-2.4zM342.2 251.3l1.2 2.2h-2.4zM342.7 250.8l1.2 2.2h-2.4zM343.3 251.5l1.2 2.2h-2.4zM343.8 252.0l1.2 2.2h-2.4zM344.4 251.2l1.2 2.2h-2.4zM344.9 249.3l1.2 2.2h-2.4zM345.4 251.9l1.2 2.2h-2.4zM346.0 255.2l1.2 2.2h-2.4zM346.5 252.3l1.2 2.2h-2.4zM347.1 252.7l1.2 2.2h-2.4zM347.6 251.9l1.2 2.2h-2.4zM348.1 251.9l1.2 2.2h-2.4zM348.7 252.5l1.2 2.2h-2.4zM349.2 252.7l1.2 2.2h-2.4zM349.8 253.0l1.2 2.2h-2.4zM350.3 253.8l1.2 2.2h-2.4zM350.8 253.1l1.2 2.2h-2.4zM351.4 252.1l1.2 2.2h-2.4zM351.9 254.8l1.2 2.2h-2.4zM352.5 251.0l1.2 2.2h-2.4zM353.0 254.7l1.2 2.2h-2.4zM353.5 252.8l1.2 2.2h-2.4zM354.1 254.3l1.2 2.2h-2.4zM354.6 255.6l1.2 2.2h-2.4zM355.2 254.8l1.2 2.2h-2.4zM355.7 253.7l1.2 2.2h-2.4zM356.2 253.9l1.2 2.2h-2.4zM356.8 254.7l1.2 2.2h-2.4zM357.3 254.7l1.2 2.2h-2.4zM357.9 254.4l1.2 2.2h-2.4zM358.4 255.1l1.2 2.2h-2.4zM358.9 254.2l1.2 2.2h-2.4zM359.5 255.3l1.2 2.2h-2.4zM360.0 256.3l1.2 2.2h-2.4zM360.6 253.3l1.2 2.2h-2.4zM361.1 254.1l1.2 2.2h-2.4zM361.6 254.2l1.2 2.2h-2.4zM362.2 254.8l1.2 2.2h-2.4zM362.7 253.6l1.2 2.2h-2.4zM363.3 255.7l1.2 2.2h-2.4zM363.8 253.8l1.2 2.2h-2.4zM364.3 253.3l1.2 2.2h-2.4zM364.9 255.6l1.2 2.2h-2.4zM365.4 257.3l1.2 2.2h-2.4zM366.0 255.7l1.2 2.2h-2.4zM366.5 255.2l1.2 2.2h-2.4zM367.0 255.4l1.2 2.2h-2.4zM367.6 256.7l1.2 2.2h-2.4zM368.1 255.6l1.2 2.2h-2.4zM368.7 255.4l1.2 2.2h-2.4zM369.2 255.0l1.2 2.2h-2.4zM369.7 255.7l1.2 2.2h-2.4zM370.3 254.9l1.2 2.2h-2.4zM370.8 254.8l1.2 2.2h-2.4zM371.4 256.2l1.2 2.2h-2.4zM371.9 256.5l1.2 2.2h-2.4zM372.4 256.3l1.2 2.2h-2.4zM373.0 257.1l1.2 2.2h-2.4zM373.5 256.1l1.2 2.2h-2.4zM374.1 255.5l1.2 2.2h-2.4zM374.6 256.1l1.2 2.2h-2.4zM375.1 256.3l1.2 2.2h-2.4zM375.7 255.5l1.2 2.2h-2.4zM376.2 258.8l1.2 2.2h-2.4zM376.8 256.0l1.2 2.2h-2.4zM377.3 256.9l1.2 2.2h-2.4zM377.8 254.9l1.2 2.2h-2.4zM378.4 257.2l1.2 2.2h-2.4zM378.9 255.9l1.2 2.2h-2.4zM379.5 256.2l1.2 2.2h-2.4zM380.0 257.4l1.2 2.2h-2.4zM380.5 256.3l1.2 2.2h-2.4zM381.1 256.4l1.2 2.2h-2.4zM381.6 256.2l1.2 2.2h-2.4zM382.2 257.3l1.2 2.2h-2.4zM382.7 257.6l1.2 2.2h-2.4zM383.2 257.5l1.2 2.2h-2.4zM383.8 256.9l1.2 2.2h-2.4zM384.3 258.5l1.2 2.2h-2.4zM384.9 257.7l1.2 2.2h-2.4zM385.4 257.5l1.2 2.2h-2.4zM385.9 257.1l1.2 2.2h-2.4zM386.5 258.5l1.2 2.2h-2.4zM387.0 257.4l1.2 2.2h-2.4zM387.6 257.4l1.2 2.2h-2.4zM388.1 257.3l1.2 2.2h-2.4zM388.6 258.1l1.2 2.2h-2.4zM389.2 257.8l1.2 2.2h-2.4zM389.7 258.7l1.2 2.2h-2.4zM390.3 257.3l1.2 2.2h-2.4zM390.8 259.5l1.2 2.2h-2.4zM391.3 258.6l1.2 2.2h-2.4zM391.9 258.3l1.2 2.2h-2.4zM392.4 258.3l1.2 2.2h-2.4zM393.0 256.9l1.2 2.2h-2.4zM393.5 259.3l1.2 2.2h-2.4zM394.0 257.3l1.2 2.2h-2.4zM394.6 257.7l1.2 2.2h-2.4zM395.1 259.3l1.2 2.2h-2.4zM395.7 256.0l1.2 2.2h-2.4zM396.2 257.7l1.2 2.2h-2.4zM396.7 252.3l1.2 2.2h-2.4zM397.3 258.4l1.2 2.2h-2.4zM397.8 257.5l1.2 2.2h-2.4zM398.4 259.1l1.2 2.2h-2.4zM398.9 258.4l1.2 2.2h-2.4zM399.4 257.3l1.2 2.2h-2.4zM400.0 258.2l1.2 2.2h-2.4zM400.5 258.6l1.2 2.2h-2.4zM401.1 256.8l1.2 2.2h-2.4zM401.6 256.6l1.2 2.2h-2.4zM402.1 258.5l1.2 2.2h-2.4zM402.7 259.3l1.2 2.2h-2.4zM403.2 258.1l1.2 2.2h-2.4zM403.8 258.2l1.2 2.2h-2.4zM404.3 259.3l1.2 2.2h-2.4zM404.8 258.5l1.2 2.2h-2.4zM405.4 257.8l1.2 2.2h-2.4zM405.9 258.0l1.2 2.2h-2.4zM406.5 258.2l1.2 2.2h-2.4zM407.0 257.6l1.2 2.2h-2.4zM407.5 257.8l1.2 2.2h-2.4zM408.1 257.5l1.2 2.2h-2.4zM408.6 256.9l1.2 2.2h-2.4zM409.2 258.4l1.2 2.2h-2.4zM409.7 257.4l1.2 2.2h-2.4zM410.2 258.6l1.2 2.2h-2.4zM410.8 259.1l1.2 2.2h-2.4zM411.3 259.2l1.2 2.2h-2.4zM411.9 257.2l1.2 2.2h-2.4zM412.4 259.3l1.2 2.2h-2.4zM412.9 258.8l1.2 2.2h-2.4zM413.5 257.8l1.2 2.2h-2.4zM414.0 259.8l1.2 2.2h-2.4zM414.6 258.8l1.2 2.2h-2.4zM415.1 254.6l1.2 2.2h-2.4zM415.6 256.4l1.2 2.2h-2.4zM416.2 259.4l1.2 2.2h-2.4zM416.7 259.6l1.2 2.2h-2.4zM417.3 258.0l1.2 2.2h-2.4zM417.8 258.3l1.2 2.2h-2.4zM418.3 258.6l1.2 2.2h-2.4zM418.9 257.9l1.2 2.2h-2.4zM419.4 258.4l1.2 2.2h-2.4zM420.0 258.1l1.2 2.2h-2.4zM420.5 258.1l1.2 2.2h-2.4zM421.0 259.5l1.2 2.2h-2.4zM421.6 258.6l1.2 2.2h-2.4zM422.1 258.3l1.2 2.2h-2.4zM422.7 259.3l1.2 2.2h-2.4zM423.2 258.5l1.2 2.2h-2.4zM423.7 261.1l1.2 2.2h-2.4zM424.3 260.2l1.2 2.2h-2.4zM424.8 259.2l1.2 2.2h-2.4zM425.4 257.2l1.2 2.2h-2.4zM425.9 257.5l1.2 2.2h-2.4zM426.4 253.8l1.2 2.2h-2.4zM427.0 258.3l1.2 2.2h-2.4zM427.5 259.3l1.2 2.2h-2.4zM428.1 259.3l1.2 2.2h-2.4zM428.6 259.2l1.2 2.2h-2.4zM429.1 258.3l1.2 2.2h-2.4zM429.7 258.3l1.2 2.2h-2.4zM430.2 259.3l1.2 2.2h-2.4zM430.8 261.7l1.2 2.2h-2.4zM431.3 258.6l1.2 2.2h-2.4zM431.8 259.7l1.2 2.2h-2.4zM432.4 258.8l1.2 2.2h-2.4zM432.9 257.9l1.2 2.2h-2.4zM433.5 258.5l1.2 2.2h-2.4zM434.0 259.2l1.2 2.2h-2.4zM434.5 257.0l1.2 2.2h-2.4zM435.1 260.4l1.2 2.2h-2.4zM435.6 258.4l1.2 2.2h-2.4zM436.2 258.5l1.2 2.2h-2.4zM436.7 258.9l1.2 2.2h-2.4zM437.2 259.9l1.2 2.2h-2.4zM437.8 257.9l1.2 2.2h-2.4zM438.3 258.4l1.2 2.2h-2.4zM438.9 254.7l1.2 2.2h-2.4zM439.4 258.5l1.2 2.2h-2.4zM439.9 260.4l1.2 2.2h-2.4zM440.5 258.5l1.2 2.2h-2.4zM441.0 260.5l1.2 2.2h-2.4zM441.6 257.4l1.2 2.2h-2.4zM442.1 257.9l1.2 2.2h-2.4zM442.6 259.1l1.2 2.2h-2.4zM443.2 257.3l1.2 2.2h-2.4zM443.7 259.0l1.2 2.2h-2.4zM444.3 258.3l1.2 2.2h-2.4zM444.8 258.8l1.2 2.2h-2.4zM445.3 259.9l1.2 2.2h-2.4zM445.9 259.5l1.2 2.2h-2.4zM446.4 257.4l1.2 2.2h-2.4zM447.0 259.9l1.2 2.2h-2.4zM447.5 258.0l1.2 2.2h-2.4zM448.0 260.4l1.2 2.2h-2.4zM448.6 259.5l1.2 2.2h-2.4zM449.1 258.7l1.2 2.2h-2.4zM449.7 254.4l1.2 2.2h-2.4zM450.2 259.8l1.2 2.2h-2.4zM450.7 258.8l1.2 2.2h-2.4zM451.3 258.8l1.2 2.2h-2.4zM451.8 257.6l1.2 2.2h-2.4zM452.4 257.4l1.2 2.2h-2.4zM452.9 257.7l1.2 2.2h-2.4zM453.4 259.1l1.2 2.2h-2.4zM454.0 258.5l1.2 2.2h-2.4zM454.5 259.5l1.2 2.2h-2.4zM455.1 258.1l1.2 2.2h-2.4zM455.6 259.0l1.2 2.2h-2.4zM456.1 258.6l1.2 2.2h-2.4zM456.7 259.9l1.2 2.2h-2.4zM457.2 259.9l1.2 2.2h-2.4zM457.8 260.6l1.2 2.2h-2.4zM458.3 260.5l1.2 2.2h-2.4zM458.8 260.4l1.2 2.2h-2.4zM459.4 259.4l1.2 2.2h-2.4zM459.9 259.7l1.2 2.2h-2.4zM460.5 260.2l1.2 2.2h-2.4zM461.0 259.9l1.2 2.2h-2.4zM461.5 259.0l1.2 2.2h-2.4zM462.1 259.6l1.2 2.2h-2.4zM462.6 259.4l1.2 2.2h-2.4zM463.2 260.3l1.2 2.2h-2.4zM463.7 260.0l1.2 2.2h-2.4zM464.2 262.0l1.2 2.2h-2.4zM464.8 258.9l1.2 2.2h-2.4zM465.3 259.6l1.2 2.2h-2.4zM465.9 261.9l1.2 2.2h-2.4zM466.4 257.7l1.2 2.2h-2.4zM466.9 257.7l1.2 2.2h-2.4zM467.5 258.8l1.2 2.2h-2.4zM468.0 260.5l1.2 2.2h-2.4zM468.6 259.2l1.2 2.2h-2.4zM469.1 260.4l1.2 2.2h-2.4zM469.6 258.6l1.2 2.2h-2.4zM470.2 260.4l1.2 2.2h-2.4zM470.7 260.4l1.2 2.2h-2.4zM471.3 259.2l1.2 2.2h-2.4zM471.8 259.7l1.2 2.2h-2.4zM472.3 258.3l1.2 2.2h-2.4zM472.9 259.3l1.2 2.2h-2.4zM473.4 260.4l1.2 2.2h-2.4zM474.0 258.6l1.2 2.2h-2.4zM474.5 260.6l1.2 2.2h-2.4zM475.0 259.4l1.2 2.2h-2.4zM475.6 259.9l1.2 2.2h-2.4zM476.1 258.8l1.2 2.2h-2.4zM476.7 259.3l1.2 2.2h-2.4zM477.2 259.1l1.2 2.2h-2.4zM477.7 259.2l1.2 2.2h-2.4zM478.3 260.8l1.2 2.2h-2.4zM478.8 260.7l1.2 2.2h-2.4zM479.4 259.2l1.2 2.2h-2.4zM479.9 258.4l1.2 2.2h-2.4zM480.4 259.1l1.2 2.2h-2.4zM481.0 254.9l1.2 2.2h-2.4zM481.5 260.0l1.2 2.2h-2.4zM482.1 258.5l1.2 2.2h-2.4zM482.6 259.7l1.2 2.2h-2.4zM483.1 260.0l1.2 2.2h-2.4zM483.7 260.0l1.2 2.2h-2.4zM484.2 259.4l1.2 2.2h-2.4zM484.8 260.1l1.2 2.2h-2.4zM485.3 260.0l1.2 2.2h-2.4zM485.8 260.0l1.2 2.2h-2.4zM486.4 260.8l1.2 2.2h-2.4zM486.9 259.9l1.2 2.2h-2.4zM487.5 259.3l1.2 2.2h-2.4zM488.0 259.2l1.2 2.2h-2.4zM488.5 260.3l1.2 2.2h-2.4zM489.1 258.9l1.2 2.2h-2.4zM489.6 259.8l1.2 2.2h-2.4zM490.2 260.2l1.2 2.2h-2.4zM490.7 259.9l1.2 2.2h-2.4zM491.2 258.8l1.2 2.2h-2.4zM491.8 260.5l1.2 2.2h-2.4zM492.3 260.6l1.2 2.2h-2.4zM492.9 258.7l1.2 2.2h-2.4zM493.4 258.8l1.2 2.2h-2.4zM493.9 259.3l1.2 2.2h-2.4zM494.5 258.9l1.2 2.2h-2.4zM495.0 259.8l1.2 2.2h-2.4zM495.6 259.6l1.2 2.2h-2.4zM496.1 258.8l1.2 2.2h-2.4zM496.6 259.6l1.2 2.2h-2.4zM497.2 258.8l1.2 2.2h-2.4zM497.7 259.0l1.2 2.2h-2.4zM498.3 260.5l1.2 2.2h-2.4zM498.8 259.3l1.2 2.2h-2.4zM499.3 259.8l1.2 2.2h-2.4zM499.9 259.8l1.2 2.2h-2.4zM500.4 260.8l1.2 2.2h-2.4zM501.0 259.5l1.2 2.2h-2.4zM501.5 259.7l1.2 2.2h-2.4zM502.0 260.2l1.2 2.2h-2.4zM502.6 258.9l1.2 2.2h-2.4zM503.1 261.3l1.2 2.2h-2.4zM503.7 261.0l1.2 2.2h-2.4zM504.2 260.9l1.2 2.2h-2.4zM504.7 258.7l1.2 2.2h-2.4zM505.3 259.3l1.2 2.2h-2.4zM505.8 259.7l1.2 2.2h-2.4zM506.4 260.0l1.2 2.2h-2.4zM506.9 260.1l1.2 2.2h-2.4zM507.4 260.0l1.2 2.2h-2.4zM508.0 259.3l1.2 2.2h-2.4zM508.5 259.2l1.2 2.2h-2.4zM509.1 259.4l1.2 2.2h-2.4zM509.6 259.7l1.2 2.2h-2.4zM510.1 260.3l1.2 2.2h-2.4zM510.7 259.6l1.2 2.2h-2.4zM511.2 254.5l1.2 2.2h-2.4zM511.8 258.1l1.2 2.2h-2.4zM512.3 260.3l1.2 2.2h-2.4zM512.8 260.7l1.2 2.2h-2.4zM513.4 259.9l1.2 2.2h-2.4zM513.9 260.0l1.2 2.2h-2.4zM514.5 258.8l1.2 2.2h-2.4zM515.0 259.5l1.2 2.2h-2.4zM515.5 259.4l1.2 2.2h-2.4zM516.1 259.6l1.2 2.2h-2.4zM516.6 260.3l1.2 2.2h-2.4zM517.2 259.5l1.2 2.2h-2.4zM517.7 258.8l1.2 2.2h-2.4zM518.2 259.5l1.2 2.2h-2.4zM518.8 260.0l1.2 2.2h-2.4zM519.3 258.7l1.2 2.2h-2.4zM519.9 259.9l1.2 2.2h-2.4zM520.4 258.4l1.2 2.2h-2.4zM520.9 258.6l1.2 2.2h-2.4zM521.5 259.2l1.2 2.2h-2.4zM522.0 260.9l1.2 2.2h-2.4zM522.6 259.9l1.2 2.2h-2.4zM523.1 259.8l1.2 2.2h-2.4zM523.6 258.6l1.2 2.2h-2.4zM524.2 260.0l1.2 2.2h-2.4zM524.7 260.0l1.2 2.2h-2.4zM525.3 259.6l1.2 2.2h-2.4zM525.8 259.1l1.2 2.2h-2.4zM526.3 260.1l1.2 2.2h-2.4zM526.9 258.3l1.2 2.2h-2.4zM527.4 261.0l1.2 2.2h-2.4z"/>
<path fill="#000000" d="M280.9 100.3l1.2 -2.2h-2.4zM281.2 107.2l1.2 -2.2h-2.4zM281.6 110.8l1.2 -2.2h-2.4zM281.9 112.9l1.2 -2.2h-2.4zM282.3 120.9l1.2 -2.2h-2.4zM282.6 119.7l1.2 -2.2h-2.4zM282.9 123.8l1.2 -2.2h-2.4zM283.3 128.7l1.2 -2.2h-2.4zM283.6 136.8l1.2 -2.2h-2.4zM283.9 140.3l1.2 -2.2h-2.4zM284.3 149.6l1.2 -2.2h-2.4zM284.6 149.5l1.2 -2.2h-2.4zM285.0 156.2l1.2 -2.2h-2.4zM285.3 158.0l1.2 -2.2h-2.4zM285.6 155.1l1.2 -2.2h-2.4zM286.0 161.8l1.2 -2.2h-2.4zM286.3 166.7l1.2 -2.2h-2.4zM286.6 167.6l1.2 -2.2h-2.4zM287.0 170.5l1.2 -2.2h-2.4zM287.3 171.5l1.2 -2.2h-2.4zM287.7 170.5l1.2 -2.2h-2.4zM288.0 172.5l1.2 -2.2h-2.4zM288.3 172.9l1.2 -2.2h-2.4zM288.7 166.1l1.2 -2.2h-2.4zM289.0 176.0l1.2 -2.2h-2.4zM289.3 173.8l1.2 -2.2h-2.4zM289.7 170.6l1.2 -2.2h-2.4zM290.0 180.5l1.2 -2.2h-2.4zM290.4 179.0l1.2 -2.2h-2.4zM290.7 189.9l1.2 -2.2h-2.4zM291.0 185.1l1.2 -2.2h-2.4zM291.4 187.5l1.2 -2.2h-2.4zM291.7 182.6l1.2 -2.2h-2.4zM292.0 190.8l1.2 -2.2h-2.4zM292.4 184.3l1.2 -2.2h-2.4zM292.7 195.4l1.2 -2.2h-2.4zM293.1 196.0l1.2 -2.2h-2.4zM293.4 202.0l1.2 -2.2h-2.4zM293.7 192.6l1.2 -2.2h-2.4zM294.3 198.7l1.2 -2.2h-2.4zM294.8 200.3l1.2 -2.2h-2.4zM295.4 197.2l1.2 -2.2h-2.4zM295.9 200.4l1.2 -2.2h-2.4zM296.4 203.3l1.2 -2.2h-2.4zM297.0 205.9l1.2 -2.2h-2.4zM297.5 209.3l1.2 -2.2h-2.4zM298.1 210.6l1.2 -2.2h-2.4zM298.6 201.5l1.2 -2.2h-2.4zM299.1 210.7l1.2 -2.2h-2.4zM299.7 210.9l1.2 -2.2h-2.4zM300.2 212.0l1.2 -2.2h-2.4zM300.8 214.5l1.2 -2.2h-2.4zM301.3 223.6l1.2 -2.2h-2.4zM301.8 220.7l1.2 -2.2h-2.4zM302.4 227.5l1.2 -2.2h-2.4zM302.9 223.7l1.2 -2.2h-2.4zM303.5 221.0l1.2 -2.2h-2.4zM304.0 222.8l1.2 -2.2h-2.4zM304.5 225.8l1.2 -2.2h-2.4zM305.1 225.0l1.2 -2.2h-2.4zM305.6 231.2l1.2 -2.2h-2.4zM306.2 231.0l1.2 -2.2h-2.4zM306.7 228.6l1.2 -2.2h-2.4zM307.2 232.9l1.2 -2.2h-2.4zM307.8 229.3l1.2 -2.2h-2.4zM308.3 232.5l1.2 -2.2h-2.4zM308.9 233.2l1.2 -2.2h-2.4zM309.4 229.3l1.2 -2.2h-2.4zM309.9 229.7l1.2 -2.2h-2.4zM310.5 232.8l1.2 -2.2h-2.4zM311.0 238.3l1.2 -2.2h-2.4zM311.6 234.4l1.2 -2.2h-2.4zM312.1 234.0l1.2 -2.2h-2.4zM312.6 238.3l1.2 -2.2h-2.4zM313.2 237.4l1.2 -2.2h-2.4zM313.7 239.0l1.2 -2.2h-2.4zM314.3 234.9l1.2 -2.2h-2.4zM314.8 238.1l1.2 -2.2h-2.4zM315.3 240.0l1.2 -2.2h-2.4zM315.9 238.7l1.2 -2.2h-2.4zM316.4 240.0l1.2 -2.2h-2.4zM317.0 241.8l1.2 -2.2h-2.4zM317.5 240.4l1.2 -2.2h-2.4zM318.0 239.0l1.2 -2.2h-2.4zM318.6 241.7l1.2 -2.2h-2.4zM319.1 245.2l1.2 -2.2h-2.4zM319.7 243.5l1.2 -2.2h-2.4zM320.2 244.9l1.2 -2.2h-2.4zM320.7 244.5l1.2 -2.2h-2.4zM321.3 239.9l1.2 -2.2h-2.4zM321.8 244.1l1.2 -2.2h-2.4zM322.4 244.1l1.2 -2.2h-2.4zM322.9 245.2l1.2 -2.2h-2.4zM323.4 243.7l1.2 -2.2h-2.4zM324.0 245.6l1.2 -2.2h-2.4zM324.5 244.1l1.2 -2.2h-2.4zM325.1 245.1l1.2 -2.2h-2.4zM325.6 247.0l1.2 -2.2h-2.4zM326.1 248.2l1.2 -2.2h-2.4zM326.7 248.1l1.2 -2.2h-2.4zM327.2 249.1l1.2 -2.2h-2.4zM327.8 250.6l1.2 -2.2h-2.4zM328.3 243.2l1.2 -2.2h-2.4zM328.8 246.1l1.2 -2.2h-2.4zM329.4 247.5l1.2 -2.2h-2.4zM329.9 246.0l1.2 -2.2h-2.4zM330.5 246.2l1.2 -2.2h-2.4zM331.0 249.1l1.2 -2.2h-2.4zM331.5 248.1l1.2 -2.2h-2.4zM332.1 244.5l1.2 -2.2h-2.4zM332.6 249.4l1.2 -2.2h-2.4zM333.2 249.8l1.2 -2.2h-2.4zM333.7 250.2l1.2 -2.2h-2.4zM334.2 250.0l1.2 -2.2h-2.4zM334.8 249.4l1.2 -2.2h-2.4zM335.3 250.5l1.2 -2.2h-2.4zM335.9 248.1l1.2 -2.2h-2.4zM336.4 250.0l1.2 -2.2h-2.4zM336.9 248.8l1.2 -2.2h-2.4zM337.5 253.1l1.2 -2.2h-2.4zM338.0 252.1l1.2 -2.2h-2.4zM338.6 251.4l1.2 -2.2h-2.4zM339.1 252.5l1.2 -2.2h-2.4zM339.6 251.6l1.2 -2.2h-2.4zM340.2 252.4l1.2 -2.2h-2.4zM340.7 251.9l1.2 -2.2h-2.4zM341.3 250.1l1.2 -2.2h-2.4zM341.8 252.7l1.2 -2.2h-2.4zM342.3 253.7l1.2 -2.2h-2.4zM342.9 250.6l1.2 -2.2h-2.4zM343.4 249.5l1.2 -2.2h-2.4zM344.0 254.1l1.2 -2.2h-2.4zM344.5 251.4l1.2 -2.2h-2.4zM345.0 253.1l1.2 -2.2h-2.4zM345.6 255.1l1.2 -2.2h-2.4zM346.1 255.0l1.2 -2.2h-2.4zM346.7 257.6l1.2 -2.2h-2.4zM347.2 254.4l1.2 -2.2h-2.4zM347.7 251.6l1.2 -2.2h-2.4zM348.3 257.0l1.2 -2.2h-2.4zM348.8 253.3l1.2 -2.2h-2.4zM349.4 256.5l1.2 -2.2h-2.4zM349.9 252.2l1.2 -2.2h-2.4zM350.4 257.5l1.2 -2.2h-2.4zM351.0 252.3l1.2 -2.2h-2.4zM351.5 255.5l1.2 -2.2h-2.4zM352.1 255.4l1.2 -2.2h-2.4zM352.6 255.2l1.2 -2.2h-2.4zM353.1 257.0l1.2 -2.2h-2.4zM353.7 256.5l1.2 -2.2h-2.4zM354.2 256.8l1.2 -2.2h-2.4zM354.8 255.7l1.2 -2.2h-2.4zM355.3 255.5l1.2 -2.2h-2.4zM355.8 255.4l1.2 -2.2h-2.4zM356.4 256.8l1.2 -2.2h-2.4zM356.9 255.6l1.2 -2.2h-2.4zM357.5 257.6l1.2 -2.2h-2.4zM358.0 256.7l1.2 -2.2h-2.4zM358.5 256.5l1.2 -2.2h-2.4zM359.1 255.6l1.2 -2.2h-2.4zM359.6 257.8l1.2 -2.2h-2.4zM360.2 258.8l1.2 -2.2h-2.4zM360.7 256.7l1.2 -2.2h-2.4zM361.2 257.8l1.2 -2.2h-2.4zM361.8 255.6l1.2 -2.2h-2.4zM362.3 257.0l1.2 -2.2h-2.4zM362.9 255.7l1.2 -2.2h-2.4zM363.4 257.1l1.2 -2.2h-2.4zM363.9 256.8l1.2 -2.2h-2.4zM364.5 258.3l1.2 -2.2h-2.4zM365.0 257.5l1.2 -2.2h-2.4zM365.6 255.5l1.2 -2.2h-2.4zM366.1 257.1l1.2 -2.2h-2.4zM366.6 257.5l1.2 -2.2h-2.4zM367.2 254.7l1.2 -2.2h-2.4zM367.7 256.2l1.2 -2.2h-2.4zM368.3 255.1l1.2 -2.2h-2.4zM368.8 259.7l1.2 -2.2h-2.4zM369.3 256.8l1.2 -2.2h-2.4zM369.9 257.8l1.2 -2.2h-2.4zM370.4 257.3l1.2 -2.2h-2.4zM371.0 256.9l1.2 -2.2h-2.4zM371.5 258.1l1.2 -2.2h-2.4zM372.0 260.7l1.2 -2.2h-2.4zM372.6 257.0l1.2 -2.2h-2.4zM373.1 257.1l1.2 -2.2h-2.4zM373.7 257.3l1.2 -2.2h-2.4zM374.2 256.8l1.2 -2.2h-2.4zM374.7 257.6l1.2 -2.2h-2.4zM375.3 257.3l1.2 -2.2h-2.4zM375.8 259.8l1.2 -2.2h-2.4zM376.4 258.8l1.2 -2.2h-2.4zM376.9 257.2l1.2 -2.2h-2.4zM377.4 257.6l1.2 -2.2h-2.4zM378.0 257.9l1.2 -2.2h-2.4zM378.5 260.9l1.2 -2.2h-2.4zM379.1 258.9l1.2 -2.2h-2.4zM379.6 256.8l1.2 -2.2h-2.4zM380.1 256.9l1.2 -2.2h-2.4zM380.7 258.5l1.2 -2.2h-2.4zM381.2 259.1l1.2 -2.2h-2.4zM381.8 258.2l1.2 -2.2h-2.4zM382.3 256.3l1.2 -2.2h-2.4zM382.8 258.1l1.2 -2.2h-2.4zM383.4 258.0l1.2 -2.2h-2.4zM383.9 257.8l1.2 -2.2h-2.4zM384.5 257.7l1.2 -2.2h-2.4zM385.0 258.4l1.2 -2.2h-2.4zM385.5 259.3l1.2 -2.2h-2.4zM386.1 256.3l1.2 -2.2h-2.4zM386.6 257.7l1.2 -2.2h-2.4zM387.2 258.4l1.2 -2.2h-2.4zM387.7 260.3l1.2 -2.2h-2.4zM388.2 258.4l1.2 -2.2h-2.4zM388.8 257.5l1.2 -2.2h-2.4zM389.3 259.8l1.2 -2.2h-2.4zM389.9 259.8l1.2 -2.2h-2.4zM390.4 258.5l1.2 -2.2h-2.4zM390.9 256.7l1.2 -2.2h-2.4zM391.5 259.7l1.2 -2.2h-2.4zM392.0 262.3l1.2 -2.2h-2.4zM392.6 259.1l1.2 -2.2h-2.4zM393.1 259.1l1.2 -2.2h-2.4zM393.6 259.8l1.2 -2.2h-2.4zM394.2 258.1l1.2 -2.2h-2.4zM394.7 259.3l1.2 -2.2h-2.4zM395.3 259.9l1.2 -2.2h-2.4zM395.8 257.8l1.2 -2.2h-2.4zM396.3 256.1l1.2 -2.2h-2.4zM396.9 259.2l1.2 -2.2h-2.4zM397.4 260.6l1.2 -2.2h-2.4zM398.0 259.9l1.2 -2.2h-2.4zM398.5 260.5l1.2 -2.2h-2.4zM399.0 259.2l1.2 -2.2h-2.4zM399.6 259.4l1.2 -2.2h-2.4zM400.1 258.0l1.2 -2.2h-2.4zM400.7 259.1l1.2 -2.2h-2.4zM401.2 257.1l1.2 -2.2h-2.4zM401.7 258.2l1.2 -2.2h-2.4zM402.3 260.1l1.2 -2.2h-2.4zM402.8 258.1l1.2 -2.2h-2.4zM403.4 259.8l1.2 -2.2h-2.4zM403.9 258.7l1.2 -2.2h-2.4zM404.4 260.6l1.2 -2.2h-2.4zM405.0 259.0l1.2 -2.2h-2.4zM405.5 257.4l1.2 -2.2h-2.4zM406.1 258.0l1.2 -2.2h-2.4zM406.6 260.4l1.2 -2.2h-2.4zM407.1 258.8l1.2 -2.2h-2.4zM407.7 261.5l1.2 -2.2h-2.4zM408.2 259.8l1.2 -2.2h-2.4zM408.8 258.8l1.2 -2.2h-2.4zM409.3 260.6l1.2 -2.2h-2.4zM409.8 259.7l1.2 -2.2h-2.4zM410.4 257.4l1.2 -2.2h-2.4zM410.9 261.0l1.2 -2.2h-2.4zM411.5 259.9l1.2 -2.2h-2.4zM412.0 260.1l1.2 -2.2h-2.4zM412.5 259.9l1.2 -2.2h-2.4zM413.1 259.0l1.2 -2.2h-2.4zM413.6 258.1l1.2 -2.2h-2.4zM414.2 259.8l1.2 -2.2h-2.4zM414.7 257.6l1.2 -2.2h-2.4zM415.2 258.9l1.2 -2.2h-2.4zM415.8 258.7l1.2 -2.2h-2.4zM416.3 260.7l1.2 -2.2h-2.4zM416.9 260.8l1.2 -2.2h-2.4zM417.4 259.7l1.2 -2.2h-2.4zM417.9 258.7l1.2 -2.2h-2.4zM418.5 258.0l1.2 -2.2h-2.4zM419.0 259.5l1.2 -2.2h-2.4zM419.6 261.5l1.2 -2.2h-2.4zM420.1 259.9l1.2 -2.2h-2.4zM420.6 259.1l1.2 -2.2h-2.4zM421.2 258.8l1.2 -2.2h-2.4zM421.7 260.1l1.2 -2.2h-2.4zM422.3 260.5l1.2 -2.2h-2.4zM422.8 257.1l1.2 -2.2h-2.4zM423.3 259.7l1.2 -2.2h-2.4zM423.9 260.8l1.2 -2.2h-2.4zM424.4 260.1l1.2 -2.2h-2.4zM425.0 259.8l1.2 -2.2h-2.4zM425.5 261.7l1.2 -2.2h-2.4zM426.0 259.6l1.2 -2.2h-2.4zM426.6 260.6l1.2 -2.2h-2.4zM427.1 260.3l1.2 -2.2h-2.4zM427.7 258.9l1.2 -2.2h-2.4zM428.2 259.6l1.2 -2.2h-2.4zM428.7 260.6l1.2 -2.2h-2.4zM429.3 260.8l1.2 -2.2h-2.4zM429.8 262.7l1.2 -2.2h-2.4zM430.4 259.5l1.2 -2.2h-2.4zM430.9 260.7l1.2 -2.2h-2.4zM431.4 261.7l1.2 -2.2h-2.4zM432.0 257.7l1.2 -2.2h-2.4zM432.5 260.9l1.2 -2.2h-2.4zM433.1 258.6l1.2 -2.2h-2.4zM433.6 260.0l1.2 -2.2h-2.4zM434.1 259.4l1.2 -2.2h-2.4zM434.7 259.8l1.2 -2.2h-2.4zM435.2 260.4l1.2 -2.2h-2.4zM435.8 261.8l1.2 -2.2h-2.4zM436.3 261.1l1.2 -2.2h-2.4zM436.8 261.4l1.2 -2.2h-2.4zM437.4 259.1l1.2 -2.2h-2.4zM437.9 259.3l1.2 -2.2h-2.4zM438.5 259.7l1.2 -2.2h-2.4zM439.0 259.9l1.2 -2.2h-2.4zM439.5 260.6l1.2 -2.2h-2.4zM440.1 259.9l1.2 -2.2h-2.4zM440.6 260.1l1.2 -2.2h-2.4zM441.2 261.2l1.2 -2.2h-2.4zM441.7 260.4l1.2 -2.2h-2.4zM442.2 260.4l1.2 -2.2h-2.4zM442.8 256.6l1.2 -2.2h-2.4zM443.3 259.7l1.2 -2.2h-2.4zM443.9 260.7l1.2 -2.2h-2.4zM444.4 260.1l1.2 -2.2h-2.4zM444.9 261.6l1.2 -2.2h-2.4zM445.5 260.1l1.2 -2.2h-2.4zM446.0 259.5l1.2 -2.2h-2.4zM446.6 259.6l1.2 -2.2h-2.4zM447.1 261.3l1.2 -2.2h-2.4zM447.6 260.3l1.2 -2.2h-2.4zM448.2 260.3l1.2 -2.2h-2.4zM448.7 258.3l1.2 -2.2h-2.4zM449.3 261.0l1.2 -2.2h-2.4zM449.8 259.4l1.2 -2.2h-2.4zM450.3 261.1l1.2 -2.2h-2.4zM450.9 261.1l1.2 -2.2h-2.4zM451.4 261.5l1.2 -2.2h-2.4zM452.0 259.9l1.2 -2.2h-2.4zM452.5 261.9l1.2 -2.2h-2.4zM453.0 258.7l1.2 -2.2h-2.4zM453.6 261.6l1.2 -2.2h-2.4zM454.1 259.4l1.2 -2.2h-2.4zM454.7 260.8l1.2 -2.2h-2.4zM455.2 263.0l1.2 -2.2h-2.4zM455.7 261.8l1.2 -2.2h-2.4zM456.3 259.7l1.2 -2.2h-2.4zM456.8 263.3l1.2 -2.2h-2.4zM457.4 261.1l1.2 -2.2h-2.4zM457.9 259.3l1.2 -2.2h-2.4zM458.4 260.3l1.2 -2.2h-2.4zM459.0 261.0l1.2 -2.2h-2.4zM459.5 260.9l1.2 -2.2h-2.4zM460.1 259.6l1.2 -2.2h-2.4zM460.6 258.2l1.2 -2.2h-2.4zM461.1 259.5l1.2 -2.2h-2.4zM461.7 262.3l1.2 -2.2h-2.4zM462.2 260.9l1.2 -2.2h-2.4zM462.8 262.2l1.2 -2.2h-2.4zM463.3 260.5l1.2 -2.2h-2.4zM463.8 258.8l1.2 -2.2h-2.4zM464.4 259.9l1.2 -2.2h-2.4zM464.9 260.5l1.2 -2.2h-2.4zM465.5 260.8l1.2 -2.2h-2.4zM466.0 263.1l1.2 -2.2h-2.4zM466.5 261.7l1.2 -2.2h-2.4zM467.1 260.7l1.2 -2.2h-2.4zM467.6 259.2l1.2 -2.2h-2.4zM468.2 261.4l1.2 -2.2h-2.4zM468.7 261.0l1.2 -2.2h-2.4zM469.2 260.2l1.2 -2.2h-2.4zM469.8 263.7l1.2 -2.2h-2.4zM470.3 261.1l1.2 -2.2h-2.4zM470.9 261.6l1.2 -2.2h-2.4zM471.4 259.0l1.2 -2.2h-2.4zM471.9 261.1l1.2 -2.2h-2.4zM472.5 262.0l1.2 -2.2h-2.4zM473.0 260.6l1.2 -2.2h-2.4zM473.6 259.5l1.2 -2.2h-2.4zM474.1 261.6l1.2 -2.2h-2.4zM474.6 259.4l1.2 -2.2h-2.4zM475.2 258.8l1.2 -2.2h-2.4zM475.7 262.3l1.2 -2.2h-2.4zM476.3 260.2l1.2 -2.2h-2.4zM476.8 260.2l1.2 -2.2h-2.4zM477.3 260.6l1.2 -2.2h-2.4zM477.9 259.3l1.2 -2.2h-2.4zM478.4 259.6l1.2 -2.2h-2.4zM479.0 262.4l1.2 -2.2h-2.4zM479.5 260.8l1.2 -2.2h-2.4zM480.0 261.4l1.2 -2.2h-2.4zM480.6 261.4l1.2 -2.2h-2.4zM481.1 260.4l1.2 -2.2h-2.4zM481.7 261.9l1.2 -2.2h-2.4zM482.2 261.2l1.2 -2.2h-2.4zM482.7 260.3l1.2 -2.2h-2.4zM483.3 259.1l1.2 -2.2h-2.4zM483.8 261.2l1.2 -2.2h-2.4zM484.4 259.6l1.2 -2.2h-2.4zM484.9 259.2l1.2 -2.2h-2.4zM485.4 261.4l1.2 -2.2h-2.4zM486.0 260.8l1.2 -2.2h-2.4zM486.5 261.3l1.2 -2.2h-2.4zM487.1 260.4l1.2 -2.2h-2.4zM487.6 259.6l1.2 -2.2h-2.4zM488.1 259.0l1.2 -2.2h-2.4zM488.7 260.1l1.2 -2.2h-2.4zM489.2 261.9l1.2 -2.2h-2.4zM489.8 261.0l1.2 -2.2h-2.4zM490.3 262.4l1.2 -2.2h-2.4zM490.8 258.1l1.2 -2.2h-2.4zM491.4 260.1l1.2 -2.2h-2.4zM491.9 260.4l1.2 -2.2h-2.4zM492.5 260.2l1.2 -2.2h-2.4zM493.0 259.8l1.2 -2.2h-2.4zM493.5 261.1l1.2 -2.2h-2.4zM494.1 259.5l1.2 -2.2h-2.4zM494.6 261.2l1.2 -2.2h-2.4zM495.2 259.8l1.2 -2.2h-2.4zM495.7 260.6l1.2 -2.2h-2.4zM496.2 260.4l1.2 -2.2h-2.4zM496.8 260.7l1.2 -2.2h-2.4zM497.3 260.1l1.2 -2.2h-2.4zM497.9 261.5l1.2 -2.2h-2.4zM498.4 260.7l1.2 -2.2h-2.4zM498.9 261.7l1.2 -2.2h-2.4zM499.5 261.7l1.2 -2.2h-2.4zM500.0 261.5l1.2 -2.2h-2.4zM500.6 260.1l1.2 -2.2h-2.4zM501.1 261.9l1.2 -2.2h-2.4zM501.6 260.9l1.2 -2.2h-2.4zM502.2 260.6l1.2 -2.2h-2.4zM502.7 260.4l1.2 -2.2h-2.4zM503.3 260.2l1.2 -2.2h-2.4zM503.8 262.1l1.2 -2.2h-2.4zM504.3 259.3l1.2 -2.2h-2.4zM504.9 262.1l1.2 -2.2h-2.4zM505.4 260.7l1.2 -2.2h-2.4zM506.0 261.8l1.2 -2.2h-2.4zM506.5 258.3l1.2 -2.2h-2.4zM507.0 262.9l1.2 -2.2h-2.4zM507.6 260.0l1.2 -2.2h-2.4zM508.1 260.3l1.2 -2.2h-2.4zM508.7 261.6l1.2 -2.2h-2.4zM509.2 260.8l1.2 -2.2h-2.4zM509.7 260.3l1.2 -2.2h-2.4zM510.3 258.0l1.2 -2.2h-2.4zM510.8 261.9l1.2 -2.2h-2.4zM511.4 259.7l1.2 -2.2h-2.4zM511.9 259.6l1.2 -2.2h-2.4zM512.4 261.1l1.2 -2.2h-2.4zM513.0 261.3l1.2 -2.2h-2.4zM513.5 261.0l1.2 -2.2h-2.4zM514.1 261.0l1.2 -2.2h-2.4zM514.6 261.4l1.2 -2.2h-2.4zM515.1 261.4l1.2 -2.2h-2.4zM515.7 256.5l1.2 -2.2h-2.4zM516.2 261.1l1.2 -2.2h-2.4zM516.8 261.3l1.2 -2.2h-2.4zM517.3 262.1l1.2 -2.2h-2.4zM517.8 258.4l1.2 -2.2h-2.4zM518.4 261.3l1.2 -2.2h-2.4zM518.9 261.4l1.2 -2.2h-2.4zM519.5 260.7l1.2 -2.2h-2.4zM520.0 261.1l1.2 -2.2h-2.4zM520.5 260.3l1.2 -2.2h-2.4zM521.1 260.2l1.2 -2.2h-2.4zM521.6 263.4l1.2 -2.2h-2.4zM522.2 260.3l1.2 -2.2h-2.4zM522.7 260.4l1.2 -2.2h-2.4zM523.2 261.3l1.2 -2.2h-2.4zM523.8 260.5l1.2 -2.2h-2.4zM524.3 260.9l1.2 -2.2h-2.4zM524.9 260.4l1.2 -2.2h-2.4zM525.4 261.5l1.2 -2.2h-2.4zM525.9 263.5l1.2 -2.2h-2.4zM526.5 260.7l1.2 -2.2h-2.4zM527.0 259.4l1.2 -2.2h-2.4zM527.6 261.6l1.2 -2.2h-2.4z"/>
<path fill="#ff0000" d="M280.6 94.0h0.9l0.5 0.5v0.9l-0.5 0.5h-0.9l-0.5 -0.5v-0.9zM281.0 97.1h0.9l0.5 0.5v0.9l-0.5 0.5h-0.9l-0.5 -0.5v-0.9zM281.3 100.7h0.9l0.5 0.5v0.9l-0.5 0.5h-0.9l-0.5 -0.5v-0.9zM281.6 107.2h0.9l0.5 0.5v0.9l-0.5 0.5h-0.9l-0.5 -0.5v-0.9zM282.0 106.8h0.9l0.5 0.5v0.9l-0.5 0.5h-0.9l-0.5 -0.5v-0.9zM282.3 112.8h0.9l0.5 0.5v0.9l-0.5 0.5h-0.9l-0.5 -0.5v-0.9zM282.6 117.1h0.9l0.5 0.5v0.9l-0.5 0.5h-0.9l-0.5 -0.5v-0.9zM283.0 120.6h0.9l0.5 0.5v0.9l-0.5 0.5h-0.9l-0.5 -0.5v-0.9zM283.3 121.6h0.9l0.5 0.5v0.9l-0.5 0.5h-0.9l-0.5 -0.5v-0.9zM283.7 125.1h0.9l0.5 0.5v0.9l-0.5 0.5h-0.9l-0.5 -0.5v-0.9zM284.0 122.4h0.9l0.5 0.5v0.9l-0.5 0.5h-0.9l-0.5 -0.5v-0.9zM284.3 125.4h0.9l0.5 0.5v0.9l-0.5 0.5h-0.9l-0.5 -0.5v-0.9zM284.7 130.6h0.9l0.5 0.5v0.9l-0.5 0.5h-0.9l-0.5 -0.5v-0.9zM285.0 129.2h0.9l0.5 0.5v0.9l-0.5 0.5h-0.9l-0.5 -0.5v-0.9zM285.3 132.8h0.9l0.5 0.5v0.9l-0.5 0.5h-0.9l-0.5 -0.5v-0.9zM285.7 135.4h0.9l0.5 0.5v0.9l-0.5 0.5h-0.9l-0.5 -0.5v-0.9zM286.0 135.4h0.9l0.5 0.5v0.9l-0.5 0.5h-0.9l-0.5 -0.5v-0.9zM286.4 139.6h0.9l0.5 0.5v0.9l-0.5 0.5h-0.9l-0.5 -0.5v-0.9zM286.7 141.7h0.9l0.5 0.5v0.9l-0.5 0.5h-0.9l-0.5 -0.5v-0.9zM287.0 141.5h0.9l0.5 0.5v0.9l-0.5 0.5h-0.9l-0.5 -0.5v-0.9zM287.4 148.9h0.9l0.5 0.5v0.9l-0.5 0.5h-0.9l-0.5 -0.5v-0.9zM287.7 148.9h0.9l0.5 0.5v0.9l-0.5 0.5h-0.9l-0.5 -0.5v-0.9zM288.0 146.1h0.9l0.5 0.5v0.9l-0.5 0.5h-0.9l-0.5 -0.5v-0.9zM288.4 146.2h0.9l0.5 0.5v0.9l-0.5 0.5h-0.9l-0.5 -0.5v-0.9zM288.7 155.0h0.9l0.5 0.5v0.9l-0.5 0.5h-0.9l-0.5 -0.5v-0.9zM289.1 152.6h0.9l0.5 0.5v0.9l-0.5 0.5h-0.9l-0.5 -0.5v-0.9zM289.4 156.3h0.9l0.5 0.5v0.9l-0.5 0.5h-0.9l-0.5 -0.5v-0.9zM289.7 157.2h0.9l0.5 0.5v0.9l-0.5 0.5h-0.9l-0.5 -0.5v-0.9zM290.1 156.8h0.9l0.5 0.5v0.9l-0.5 0.5h-0.9l-0.5 -0.5v-0.9zM290.4 156.0h0.9l0.5 0.5v0.9l-0.5 0.5h-0.9l-0.5 -0.5v-0.9zM290.7 156.8h0.9l0.5 0.5v0.9l-0.5 0.5h-0.9l-0.5 -0.5v-0.9zM291.1 160.6h0.9l0.5 0.5v0.9l-0.5 0.5h-0.9l-0.5 -0.5v-0.9zM291.4 162.8h0.9l0.5 0.5v0.9l-0.5 0.5h-0.9l-0.5 -0.5v-0.9zM291.8 165.5h0.9l0.5 0.5v0.9l-0.5 0.5h-0.9l-0.5 -0.5v-0.9zM292.1 172.3h0.9l0.5 0.5v0.9l-0.5 0.5h-0.9l-0.5 -0.5v-0.9zM292.4 167.5h0.9l0.5 0.5v0.9l-0.5 0.5h-0.9l-0.5 -0.5v-0.9zM292.8 173.2h0.9l0.5 0.5v0.9l-0.5 0.5h-0.9l-0.5 -0.5v-0.9zM293.1 174.3h0.9l0.5 0.5v0.9l-0.5 0.5h-0.9l-0.5 -0.5v-0.9zM293.4 172.2h0.9l0.5 0.5v0.9l-0.5 0.5h-0.9l-0.5 -0.5v-0.9zM294.0 178.2h0.9l0.5 0.5v0.9l-0.5 0.5h-0.9l-0.5 -0.5v-0.9zM294.5 170.3h0.9l0.5 0.5v0.9l-0.5 0.5h-0.9l-0.5 -0.5v-0.9zM295.1 174.8h0.9l0.5 0.5v0.9l-0.5 0.5h-0.9l-0.5 -0.5v-0.9zM295.6 176.7h0.9l0.5 0.5v0.9l-0.5 0.5h-0.9l-0.5 -0.5v-0.9zM296.1 178.6h0.9l0.5 0.5v0.9l-0.5 0.5h-0.9l-0.5 -0.5v-0.9zM296.7 181.7h0.9l0.5 0.5v0.9l-0.5 0.5h-0.9l-0.5 -0.5v-0.9zM297.2 184.6h0.9l0.5 0.5v0.9l-0.5 0.5h-0.9l-0.5 -0.5v-0.9zM297.8 185.2h0.9l0.5 0.5v0.9l-0.5 0.5h-0.9l-0.5 -0.5v-0.9zM298.3 191.2h0.9l0.5 0.5v0.9l-0.5 0.5h-0.9l-0.5 -0.5v-0.9zM298.8 190.8h0.9l0.5 0.5v0.9l-0.5 0.5h-0.9l-0.5 -0.5v-0.9zM299.4 193.2h0.9l0.5 0.5v0.9l-0.5 0.5h-0.9l-0.5 -0.5v-0.9zM299.9 193.6h0.9l0.5 0.5v0.9l-0.5 0.5h-0.9l-0.5 -0.5v-0.9zM300.5 200.6h0.9l0.5 0.5v0.9l-0.5 0.5h-0.9l-0.5 -0.5v-0.9zM301.0 199.0h0.9l0.5 0.5v0.9l-0.5 0.5h-0.9l-0.5 -0.5v-0.9zM301.5 201.9h0.9l0.5 0.5v0.9l-0.5 0.5h-0.9l-0.5 -0.5v-0.9zM302.1 201.8h0.9l0.5 0.5v0.9l-0.5 0.5h-0.9l-0.5 -0.5v-0.9zM302.6 203.8h0.9l0.5 0.5v0.9l-0.5 0.5h-0.9l-0.5 -0.5v-0.9zM303.2 206.4h0.9l0.5 0.5v0.9l-0.5 0.5h-0.9l-0.5 -0.5v-0.9zM303.7 207.4h0.9l0.5 0.5v0.9l-0.5 0.5h-0.9l-0.5 -0.5v-0.9zM304.2 209.1h0.9l0.5 0.5v0.9l-0.5 0.5h-0.9l-0.5 -0.5v-0.9zM304.8 208.5h0.9l0.5 0.5v0.9l-0.5 0.5h-0.9l-0.5 -0.5v-0.9zM305.3 212.6h0.9l0.5 0.5v0.9l-0.5 0.5h-0.9l-0.5 -0.5v-0.9zM305.9 212.8h0.9l0.5 0.5v0.9l-0.5 0.5h-0.9l-0.5 -0.5v-0.9zM306.4 216.9h0.9l0.5 0.5v0.9l-0.5 0.5h-0.9l-0.5 -0.5v-0.9zM306.9 216.0h0.9l0.5 0.5v0.9l-0.5 0.5h-0.9l-0.5 -0.5v-0.9zM307.5 214.5h0.9l0.5 0.5v0.9l-0.5 0.5h-0.9l-0.5 -0.5v-0.9zM308.0 214.6h0.9l0.5 0.5v0.9l-0.5 0.5h-0.9l-0.5 -0.5v-0.9zM308.6 219.9h0.9l0.5 0.5v0.9l-0.5 0.5h-0.9l-0.5 -0.5v-0.9zM309.1 218.5h0.9l0.5 0.5v0.9l-0.5 0.5h-0.9l-0.5 -0.5v-0.9zM309.6 219.7h0.9l0.5 0.5v0.9l-0.5 0.5h-0.9l-0.5 -0.5v-0.9zM310.2 219.6h0.9l0.5 0.5v0.9l-0.5 0.5h-0.9l-0.5 -0.5v-0.9zM310.7 221.4h0.9l0.5 0.5v0.9l-0.5 0.5h-0.9l-0.5 -0.5v-0.9zM311.3 222.0h0.9l0.5 0.5v0.9l-0.5 0.5h-0.9l-0.5 -0.5v-0.9zM311.8 221.8h0.9l0.5 0.5v0.9l-0.5 0.5h-0.9l-0.5 -0.5v-0.9zM312.3 222.1h0.9l0.5 0.5v0.9l-0.5 0.5h-0.9l-0.5 -0.5v-0.9zM312.9 221.0h0.9l0.5 0.5v0.9l-0.5 0.5h-0.9l-0.5 -0.5v-0.9zM313.4 225.7h0.9l0.5 0.5v0.9l-0.5 0.5h-0.9l-0.5 -0.5v-0.9zM314.0 226.6h0.9l0.5 0.5v0.9l-0.5 0.5h-0.9l-0.5 -0.5v-0.9zM314.5 223.7h0.9l0.5 0.5v0.9l-0.5 0.5h-0.9l-0.5 -0.5v-0.9zM315.0 225.0h0.9l0.5 0.5v0.9l-0.5 0.5h-0.9l-0.5 -0.5v-0.9zM315.6 227.1h0.9l0.5 0.5v0.9l-0.5 0.5h-0.9l-0.5 -0.5v-0.9zM316.1 229.7h0.9l0.5 0.5v0.9l-0.5 0.5h-0.9l-0.5 -0.5v-0.9zM316.7 226.0h0.9l0.5 0.5v0.9l-0.5 0.5h-0.9l-0.5 -0.5v-0.9zM317.2 230.8h0.9l0.5 0.5v0.9l-0.5 0.5h-0.9l-0.5 -0.5v-0.9zM317.7 227.2h0.9l0.5 0.5v0.9l-0.5 0.5h-0.9l-0.5 -0.5v-0.9zM318.3 229.5h0.9l0.5 0.5v0.9l-0.5 0.5h-0.9l-0.5 -0.5v-0.9zM318.8 230.9h0.9l0.5 0.5v0.9l-0.5 0.5h-0.9l-0.5 -0.5v-0.9zM319.4 231.5h0.9l0.5 0.5v0.9l-0.5 0.5h-0.9l-0.5 -0.5v-0.9zM319.9 230.2h0.9l0.5 0.5v0.9l-0.5 0.5h-0.9l-0.5 -0.5v-0.9zM320.4 232.2h0.9l0.5 0.5v0.9l-0.5 0.5h-0.9l-0.5 -0.5v-0.9zM321.0 236.0h0.9l0.5 0.5v0.9l-0.5 0.5h-0.9l-0.5 -0.5v-0.9zM321.5 234.6h0.9l0.5 0.5v0.9l-0.5 0.5h-0.9l-0.5 -0.5v-0.9zM322.1 237.7h0.9l0.5 0.5v0.9l-0.5 0.5h-0.9l-0.5 -0.5v-0.9zM322.6 233.7h0.9l0.5 0.5v0.9l-0.5 0.5h-0.9l-0.5 -0.5v-0.9zM323.1 233.3h0.9l0.5 0.5v0.9l-0.5 0.5h-0.9l-0.5 -0.5v-0.9zM323.7 233.6h0.9l0.5 0.5v0.9l-0.5 0.5h-0.9l-0.5 -0.5v-0.9zM324.2 238.2h0.9l0.5 0.5v0.9l-0.5 0.5h-0.9l-0.5 -0.5v-0.9zM324.8 232.8h0.9l0.5 0.5v0.9l-0.5 0.5h-0.9l-0.5 -0.5v-0.9zM325.3 233.8h0.9l0.5 0.5v0.9l-0.5 0.5h-0.9l-0.5 -0.5v-0.9zM325.8 237.5h0.9l0.5 0.5v0.9l-0.5 0.5h-0.9l-0.5 -0.5v-0.9zM326.4 241.0h0.9l0.5 0.5v0.9l-0.5 0.5h-0.9l-0.5 -0.5v-0.9zM326.9 239.6h0.9l0.5 0.5v0.9l-0.5 0.5h-0.9l-0.5 -0.5v-0.9zM327.5 237.0h0.9l0.5 0.5v0.9l-0.5 0.5h-0.9l-0.5 -0.5v-0.9zM328.0 235.8h0.9l0.5 0.5v0.9l-0.5 0.5h-0.9l-0.5 -0.5v-0.9zM328.5 240.3h0.9l0.5 0.5v0.9l-0.5 0.5h-0.9l-0.5 -0.5v-0.9zM329.1 242.8h0.9l0.5 0.5v0.9l-0.5 0.5h-0.9l-0.5 -0.5v-0.9zM329.6 241.8h0.9l0.5 0.5v0.9l-0.5 0.5h-0.9l-0.5 -0.5v-0.9zM330.2 237.8h0.9l0.5 0.5v0.9l-0.5 0.5h-0.9l-0.5 -0.5v-0.9zM330.7 241.1h0.9l0.5 0.5v0.9l-0.5 0.5h-0.9l-0.5 -0.5v-0.9zM331.2 243.6h0.9l0.5 0.5v0.9l-0.5 0.5h-0.9l-0.5 -0.5v-0.9zM331.8 245.0h0.9l0.5 0.5v0.9l-0.5 0.5h-0.9l-0.5 -0.5v-0.9zM332.3 241.3h0.9l0.5 0.5v0.9l-0.5 0.5h-0.9l-0.5 -0.5v-0.9zM332.9 241.4h0.9l0.5 0.5v0.9l-0.5 0.5h-0.9l-0.5 -0.5v-0.9zM333.4 243.7h0.9l0.5 0.5v0.9l-0.5 0.5h-0.9l-0.5 -0.5v-0.9zM333.9 243.6h0.9l0.5 0.5v0.9l-0.5 0.5h-0.9l-0.5 -0.5v-0.9zM334.5 243.5h0.9l0.5 0.5v0.9l-0.5 0.5h-0.9l-0.5 -0.5v-0.9zM335.0 244.4h0.9l0.5 0.5v0.9l-0.5 0.5h-0.9l-0.5 -0.5v-0.9zM335.6 245.0h0.9l0.5 0.5v0.9l-0.5 0.5h-0.9l-0.5 -0.5v-0.9zM336.1 245.3h0.9l0.5 0.5v0.9l-0.5 0.5h-0.9l-0.5 -0.5v-0.9zM336.6 245.6h0.9l0.5 0.5v0.9l-0.5 0.5h-0.9l-0.5 -0.5v-0.9zM337.2 243.4h0.9l0.5 0.5v0.9l-0.5 0.5h-0.9l-0.5 -0.5v-0.9zM337.7 244.8h0.9l0.5 0.5v0.9l-0.5 0.5h-0.9l-0.5 -0.5v-0.9zM338.3 244.3h0.9l0.5 0.5v0.9l-0.5 0.5h-0.9l-0.5 -0.5v-0.9zM338.8 243.5h0.9l0.5 0.5v0.9l-0.5 0.5h-0.9l-0.5 -0.5v-0.9zM339.3 249.2h0.9l0.5 0.5v0.9l-0.5 0.5h-0.9l-0.5 -0.5v-0.9zM339.9 246.5h0.9l0.5 0.5v0.9l-0.5 0.5h-0.9l-0.5 -0.5v-0.9zM340.4 245.5h0.9l0.5 0.5v0.9l-0.5 0.5h-0.9l-0.5 -0.5v-0.9zM341.0 247.2h0.9l0.5 0.5v0.9l-0.5 0.5h-0.9l-0.5 -0.5v-0.9zM341.5 248.0h0.9l0.5 0.5v0.9l-0.5 0.5h-0.9l-0.5 -0.5v-0.9zM342.0 246.9h0.9l0.5 0.5v0.9l-0.5 0.5h-0.9l-0.5 -0.5v-0.9zM342.6 248.4h0.9l0.5 0.5v0.9l-0.5 0.5h-0.9l-0.5 -0.5v-0.9zM343.1 249.0h0.9l0.5 0.5v0.9l-0.5 0.5h-0.9l-0.5 -0.5v-0.9zM343.7 248.5h0.9l0.5 0.5v0.9l-0.5 0.5h-0.9l-0.5 -0.5v-0.9zM344.2 248.3h0.9l0.5 0.5v0.9l-0.5 0.5h-0.9l-0.5 -0.5v-0.9zM344.7 248.6h0.9l0.5 0.5v0.9l-0.5 0.5h-0.9l-0.5 -0.5v-0.9zM345.3 247.8h0.9l0.5 0.5v0.9l-0.5 0.5h-0.9l-0.5 -0.5v-0.9zM345.8 249.0h0.9l0.5 0.5v0.9l-0.5 0.5h-0.9l-0.5 -0.5v-0.9zM346.4 249.9h0.9l0.5 0.5v0.9l-0.5 0.5h-0.9l-0.5 -0.5v-0.9zM346.9 246.0h0.9l0.5 0.5v0.9l-0.5 0.5h-0.9l-0.5 -0.5v-0.9zM347.4 250.1h0.9l0.5 0.5v0.9l-0.5 0.5h-0.9l-0.5 -0.5v-0.9zM348.0 250.4h0.9l0.5 0.5v0.9l-0.5 0.5h-0.9l-0.5 -0.5v-0.9zM348.5 250.4h0.9l0.5 0.5v0.9l-0.5 0.5h-0.9l-0.5 -0.5v-0.9zM349.1 251.3h0.9l0.5 0.5v0.9l-0.5 0.5h-0.9l-0.5 -0.5v-0.9zM349.6 252.5h0.9l0.5 0.5v0.9l-0.5 0.5h-0.9l-0.5 -0.5v-0.9zM350.1 250.7h0.9l0.5 0.5v0.9l-0.5 0.5h-0.9l-0.5 -0.5v-0.9zM350.7 249.6h0.9l0.5 0.5v0.9l-0.5 0.5h-0.9l-0.5 -0.5v-0.9zM351.2 253.4h0.9l0.5 0.5v0.9l-0.5 0.5h-0.9l-0.5 -0.5v-0.9zM351.8 252.4h0.9l0.5 0.5v0.9l-0.5 0.5h-0.9l-0.5 -0.5v-0.9zM352.3 251.3h0.9l0.5 0.5v0.9l-0.5 0.5h-0.9l-0.5 -0.5v-0.9zM352.8 252.7h0.9l0.5 0.5v0.9l-0.5 0.5h-0.9l-0.5 -0.5v-0.9zM353.4 251.7h0.9l0.5 0.5v0.9l-0.5 0.5h-0.9l-0.5 -0.5v-0.9zM353.9 252.5h0.9l0.5 0.5v0.9l-0.5 0.5h-0.9l-0.5 -0.5v-0.9zM354.5 253.8h0.9l0.5 0.5v0.9l-0.5 0.5h-0.9l-0.5 -0.5v-0.9zM355.0 253.0h0.9l0.5 0.5v0.9l-0.5 0.5h-0.9l-0.5 -0.5v-0.9zM355.5 253.5h0.9l0.5 0.5v0.9l-0.5 0.5h-0.9l-0.5 -0.5v-0.9zM356.1 252.6h0.9l0.5 0.5v0.9l-0.5 0.5h-0.9l-0.5 -0.5v-0.9zM356.6 255.9h0.9l0.5 0.5v0.9l-0.5 0.5h-0.9l-0.5 -0.5v-0.9zM357.2 253.0h0.9l0.5 0.5v0.9l-0.5 0.5h-0.9l-0.5 -0.5v-0.9zM357.7 252.2h0.9l0.5 0.5v0.9l-0.5 0.5h-0.9l-0.5 -0.5v-0.9zM358.2 253.5h0.9l0.5 0.5v0.9l-0.5 0.5h-0.9l-0.5 -0.5v-0.9zM358.8 253.6h0.9l0.5 0.5v0.9l-0.5 0.5h-0.9l-0.5 -0.5v-0.9zM359.3 254.4h0.9l0.5 0.5v0.9l-0.5 0.5h-0.9l-0.5 -0.5v-0.9zM359.9 253.7h0.9l0.5 0.5v0.9l-0.5 0.5h-0.9l-0.5 -0.5v-0.9zM360.4 254.3h0.9l0.5 0.5v0.9l-0.5 0.5h-0.9l-0.5 -0.5v-0.9zM360.9 255.5h0.9l0.5 0.5v0.9l-0.5 0.5h-0.9l-0.5 -0.5v-0.9zM361.5 255.5h0.9l0.5 0.5v0.9l-0.5 0.5h-0.9l-0.5 -0.5v-0.9zM362.0 256.7h0.9l0.5 0.5v0.9l-0.5 0.5h-0.9l-0.5 -0.5v-0.9zM362.6 254.1h0.9l0.5 0.5v0.9l-0.5 0.5h-0.9l-0.5 -0.5v-0.9zM363.1 254.5h0.9l0.5 0.5v0.9l-0.5 0.5h-0.9l-0.5 -0.5v-0.9zM363.6 253.7h0.9l0.5 0.5v0.9l-0.5 0.5h-0.9l-0.5 -0.5v-0.9zM364.2 254.6h0.9l0.5 0.5v0.9l-0.5 0.5h-0.9l-0.5 -0.5v-0.9zM364.7 254.3h0.9l0.5 0.5v0.9l-0.5 0.5h-0.9l-0.5 -0.5v-0.9zM365.3 256.3h0.9l0.5 0.5v0.9l-0.5 0.5h-0.9l-0.5 -0.5v-0.9zM365.8 256.9h0.9l0.5 0.5v0.9l-0.5 0.5h-0.9l-0.5 -0.5v-0.9zM366.3 255.8h0.9l0.5 0.5v0.9l-0.5 0.5h-0.9l-0.5 -0.5v-0.9zM366.9 255.7h0.9l0.5 0.5v0.9l-0.5 0.5h-0.9l-0.5 -0.5v-0.9zM367.4 255.1h0.9l0.5 0.5v0.9l-0.5 0.5h-0.9l-0.5 -0.5v-0.9zM368.0 255.7h0.9l0.5 0.5v0.9l-0.5 0.5h-0.9l-0.5 -0.5v-0.9zM368.5 255.8h0.9l0.5 0.5v0.9l-0.5 0.5h-0.9l-0.5 -0.5v-0.9zM369.0 255.7h0.9l0.5 0.5v0.9l-0.5 0.5h-0.9l-0.5 -0.5v-0.9zM369.6 255.7h0.9l0.5 0.5v0.9l-0.5 0.5h-0.9l-0.5 -0.5v-0.9zM370.1 255.8h0.9l0.5 0.5v0.9l-0.5 0.5h-0.9l-0.5 -0.5v-0.9zM370.7 255.8h0.9l0.5 0.5v0.9l-0.5 0.5h-0.9l-0.5 -0.5v-0.9zM371.2 256.7h0.9l0.5 0.5v0.9l-0.5 0.5h-0.9l-0.5 -0.5v-0.9zM371.7 256.4h0.9l0.5 0.5v0.9l-0.5 0.5h-0.9l-0.5 -0.5v-0.9zM372.3 257.7h0.9l0.5 0.5v0.9l-0.5 0.5h-0.9l-0.5 -0.5v-0.9zM372.8 257.5h0.9l0.5 0.5v0.9l-0.5 0.5h-0.9l-0.5 -0.5v-0.9zM373.4 256.9h0.9l0.5 0.5v0.9l-0.5 0.5h-0.9l-0.5 -0.5v-0.9zM373.9 256.4h0.9l0.5 0.5v0.9l-0.5 0.5h-0.9l-0.5 -0.5v-0.9zM374.4 257.5h0.9l0.5 0.5v0.9l-0.5 0.5h-0.9l-0.5 -0.5v-0.9zM375.0 258.1h0.9l0.5 0.5v0.9l-0.5 0.5h-0.9l-0.5 -0.5v-0.9zM375.5 256.2h0.9l0.5 0.5v0.9l-0.5 0.5h-0.9l-0.5 -0.5v-0.9zM376.1 257.8h0.9l0.5 0.5v0.9l-0.5 0.5h-0.9l-0.5 -0.5v-0.9zM376.6 258.7h0.9l0.5 0.5v0.9l-0.5 0.5h-0.9l-0.5 -0.5v-0.9zM377.1 258.1h0.9l0.5 0.5v0.9l-0.5 0.5h-0.9l-0.5 -0.5v-0.9zM377.7 258.4h0.9l0.5 0.5v0.9l-0.5 0.5h-0.9l-0.5 -0.5v-0.9zM378.2 259.5h0.9l0.5 0.5v0.9l-0.5 0.5h-0.9l-0.5 -0.5v-0.9zM378.8 257.9h0.9l0.5 0.5v0.9l-0.5 0.5h-0.9l-0.5 -0.5v-0.9zM379.3 256.3h0.9l0.5 0.5v0.9l-0.5 0.5h-0.9l-0.5 -0.5v-0.9zM379.8 258.4h0.9l0.5 0.5v0.9l-0.5 0.5h-0.9l-0.5 -0.5v-0.9zM380.4 258.5h0.9l0.5 0.5v0.9l-0.5 0.5h-0.9l-0.5 -0.5v-0.9zM380.9 257.0h0.9l0.5 0.5v0.9l-0.5 0.5h-0.9l-0.5 -0.5v-0.9zM381.5 257.9h0.9l0.5 0.5v0.9l-0.5 0.5h-0.9l-0.5 -0.5v-0.9zM382.0 258.2h0.9l0.5 0.5v0.9l-0.5 0.5h-0.9l-0.5 -0.5v-0.9zM382.5 257.1h0.9l0.5 0.5v0.9l-0.5 0.5h-0.9l-0.5 -0.5v-0.9zM383.1 259.2h0.9l0.5 0.5v0.9l-0.5 0.5h-0.9l-0.5 -0.5v-0.9zM383.6 258.4h0.9l0.5 0.5v0.9l-0.5 0.5h-0.9l-0.5 -0.5v-0.9zM384.2 258.0h0.9l0.5 0.5v0.9l-0.5 0.5h-0.9l-0.5 -0.5v-0.9zM384.7 258.3h0.9l0.5 0.5v0.9l-0.5 0.5h-0.9l-0.5 -0.5v-0.9zM385.2 259.4h0.9l0.5 0.5v0.9l-0.5 0.5h-0.9l-0.5 -0.5v-0.9zM385.8 259.2h0.9l0.5 0.5v0.9l-0.5 0.5h-0.9l-0.5 -0.5v-0.9zM386.3 257.2h0.9l0.5 0.5v0.9l-0.5 0.5h-0.9l-0.5 -0.5v-0.9zM386.9 258.7h0.9l0.5 0.5v0.9l-0.5 0.5h-0.9l-0.5 -0.5v-0.9zM387.4 258.9h0.9l0.5 0.5v0.9l-0.5 0.5h-0.9l-0.5 -0.5v-0.9zM387.9 257.9h0.9l0.5 0.5v0.9l-0.5 0.5h-0.9l-0.5 -0.5v-0.9zM388.5 260.1h0.9l0.5 0.5v0.9l-0.5 0.5h-0.9l-0.5 -0.5v-0.9zM389.0 258.8h0.9l0.5 0.5v0.9l-0.5 0.5h-0.9l-0.5 -0.5v-0.9zM389.6 260.2h0.9l0.5 0.5v0.9l-0.5 0.5h-0.9l-0.5 -0.5v-0.9zM390.1 257.8h0.9l0.5 0.5v0.9l-0.5 0.5h-0.9l-0.5 -0.5v-0.9zM390.6 259.7h0.9l0.5 0.5v0.9l-0.5 0.5h-0.9l-0.5 -0.5v-0.9zM391.2 258.9h0.9l0.5 0.5v0.9l-0.5 0.5h-0.9l-0.5 -0.5v-0.9zM391.7 259.7h0.9l0.5 0.5v0.9l-0.5 0.5h-0.9l-0.5 -0.5v-0.9zM392.3 259.0h0.9l0.5 0.5v0.9l-0.5 0.5h-0.9l-0.5 -0.5v-0.9zM392.8 258.9h0.9l0.5 0.5v0.9l-0.5 0.5h-0.9l-0.5 -0.5v-0.9zM393.3 259.1h0.9l0.5 0.5v0.9l-0.5 0.5h-0.9l-0.5 -0.5v-0.9zM393.9 259.4h0.9l0.5 0.5v0.9l-0.5 0.5h-0.9l-0.5 -0.5v-0.9zM394.4 259.1h0.9l0.5 0.5v0.9l-0.5 0.5h-0.9l-0.5 -0.5v-0.9zM395.0 259.5h0.9l0.5 0.5v0.9l-0.5 0.5h-0.9l-0.5 -0.5v-0.9zM395.5 259.7h0.9l0.5 0.5v0.9l-0.5 0.5h-0.9l-0.5 -0.5v-0.9zM396.0 258.9h0.9l0.5 0.5v0.9l-0.5 0.5h-0.9l-0.5 -0.5v-0.9zM396.6 258.8h0.9l0.5 0.5v0.9l-0.5 0.5h-0.9l-0.5 -0.5v-0.9zM397.1 260.4h0.9l0.5 0.5v0.9l-0.5 0.5h-0.9l-0.5 -0.5v-0.9zM397.7 260.2h0.9l0.5 0.5v0.9l-0.5 0.5h-0.9l-0.5 -0.5v-0.9zM398.2 260.1h0.9l0.5 0.5v0.9l-0.5 0.5h-0.9l-0.5 -0.5v-0.9zM398.7 259.3h0.9l0.5 0.5v0.9l-0.5 0.5h-0.9l-0.5 -0.5v-0.9zM399.3 260.6h0.9l0.5 0.5v0.9l-0.5 0.5h-0.9l-0.5 -0.5v-0.9zM399.8 258.5h0.9l0.5 0.5v0.9l-0.5 0.5h-0.9l-0.5 -0.5v-0.9zM400.4 259.6h0.9l0.5 0.5v0.9l-0.5 0.5h-0.9l-0.5 -0.5v-0.9zM400.9 259.6h0.9l0.5 0.5v0.9l-0.5 0.5h-0.9l-0.5 -0.5v-0.9zM401.4 259.1h0.9l0.5 0.5v0.9l-0.5 0.5h-0.9l-0.5 -0.5v-0.9zM402.0 260.3h0.9l0.5 0.5v0.9l-0.5 0.5h-0.9l-0.5 -0.5v-0.9zM402.5 259.6h0.9l0.5 0.5v0.9l-0.5 0.5h-0.9l-0.5 -0.5v-0.9zM403.1 259.6h0.9l0.5 0.5v0.9l-0.5 0.5h-0.9l-0.5 -0.5v-0.9zM403.6 259.0h0.9l0.5 0.5v0.9l-0.5 0.5h-0.9l-0.5 -0.5v-0.9zM404.1 260.7h0.9l0.5 0.5v0.9l-0.5 0.5h-0.9l-0.5 -0.5v-0.9zM404.7 259.0h0.9l0.5 0.5v0.9l-0.5 0.5h-0.9l-0.5 -0.5v-0.9zM405.2 259.6h0.9l0.5 0.5v0.9l-0.5 0.5h-0.9l-0.5 -0.5v-0.9zM405.8 259.9h0.9l0.5 0.5v0.9l-0.5 0.5h-0.9l-0.5 -0.5v-0.9zM406.3 259.3h0.9l0.5 0.5v0.9l-0.5 0.5h-0.9l-0.5 -0.5v-0.9zM406.8 260.3h0.9l0.5 0.5v0.9l-0.5 0.5h-0.9l-0.5 -0.5v-0.9zM407.4 260.2h0.9l0.5 0.5v0.9l-0.5 0.5h-0.9l-0.5 -0.5v-0.9zM407.9 259.5h0.9l0.5 0.5v0.9l-0.5 0.5h-0.9l-0.5 -0.5v-0.9zM408.5 260.4h0.9l0.5 0.5v0.9l-0.5 0.5h-0.9l-0.5 -0.5v-0.9zM409.0 259.4h0.9l0.5 0.5v0.9l-0.5 0.5h-0.9l-0.5 -0.5v-0.9zM409.5 259.2h0.9l0.5 0.5v0.9l-0.5 0.5h-0.9l-0.5 -0.5v-0.9zM410.1 260.1h0.9l0.5 0.5v0.9l-0.5 0.5h-0.9l-0.5 -0.5v-0.9zM410.6 260.1h0.9l0.5 0.5v0.9l-0.5 0.5h-0.9l-0.5 -0.5v-0.9zM411.2 260.7h0.9l0.5 0.5v0.9l-0.5 0.5h-0.9l-0.5 -0.5v-0.9zM411.7 260.9h0.9l0.5 0.5v0.9l-0.5 0.5h-0.9l-0.5 -0.5v-0.9zM412.2 259.3h0.9l0.5 0.5v0.9l-0.5 0.5h-0.9l-0.5 -0.5v-0.9zM412.8 261.0h0.9l0.5 0.5v0.9l-0.5 0.5h-0.9l-0.5 -0.5v-0.9zM413.3 260.3h0.9l0.5 0.5v0.9l-0.5 0.5h-0.9l-0.5 -0.5v-0.9zM413.9 260.1h0.9l0.5 0.5v0.9l-0.5 0.5h-0.9l-0.5 -0.5v-0.9zM414.4 261.0h0.9l0.5 0.5v0.9l-0.5 0.5h-0.9l-0.5 -0.5v-0.9zM414.9 260.9h0.9l0.5 0.5v0.9l-0.5 0.5h-0.9l-0.5 -0.5v-0.9zM415.5 260.9h0.9l0.5 0.5v0.9l-0.5 0.5h-0.9l-0.5 -0.5v-0.9zM416.0 259.0h0.9l0.5 0.5v0.9l-0.5 0.5h-0.9l-0.5 -0.5v-0.9zM416.6 260.2h0.9l0.5 0.5v0.9l-0.5 0.5h-0.9l-0.5 -0.5v-0.9zM417.1 259.5h0.9l0.5 0.5v0.9l-0.5 0.5h-0.9l-0.5 -0.5v-0.9zM417.6 259.1h0.9l0.5 0.5v0.9l-0.5 0.5h-0.9l-0.5 -0.5v-0.9zM418.2 259.8h0.9l0.5 0.5v0.9l-0.5 0.5h-0.9l-0.5 -0.5v-0.9zM418.7 259.6h0.9l0.5 0.5v0.9l-0.5 0.5h-0.9l-0.5 -0.5v-0.9zM419.3 260.8h0.9l0.5 0.5v0.9l-0.5 0.5h-0.9l-0.5 -0.5v-0.9zM419.8 261.0h0.9l0.5 0.5v0.9l-0.5 0.5h-0.9l-0.5 -0.5v-0.9zM420.3 259.6h0.9l0.5 0.5v0.9l-0.5 0.5h-0.9l-0.5 -0.5v-0.9zM420.9 259.6h0.9l0.5 0.5v0.9l-0.5 0.5h-0.9l-0.5 -0.5v-0.9zM421.4 261.3h0.9l0.5 0.5v0.9l-0.5 0.5h-0.9l-0.5 -0.5v-0.9zM422.0 259.9h0.9l0.5 0.5v0.9l-0.5 0.5h-0.9l-0.5 -0.5v-0.9zM422.5 260.4h0.9l0.5 0.5v0.9l-0.5 0.5h-0.9l-0.5 -0.5v-0.9zM423.0 260.1h0.9l0.5 0.5v0.9l-0.5 0.5h-0.9l-0.5 -0.5v-0.9zM423.6 260.0h0.9l0.5 0.5v0.9l-0.5 0.5h-0.9l-0.5 -0.5v-0.9zM424.1 259.4h0.9l0.5 0.5v0.9l-0.5 0.5h-0.9l-0.5 -0.5v-0.9zM424.7 261.1h0.9l0.5 0.5v0.9l-0.5 0.5h-0.9l-0.5 -0.5v-0.9zM425.2 260.7h0.9l0.5 0.5v0.9l-0.5 0.5h-0.9l-0.5 -0.5v-0.9zM425.7 259.9h0.9l0.5 0.5v0.9l-0.5 0.5h-0.9l-0.5 -0.5v-0.9zM426.3 260.9h0.9l0.5 0.5v0.9l-0.5 0.5h-0.9l-0.5 -0.5v-0.9zM426.8 260.4h0.9l0.5 0.5v0.9l-0.5 0.5h-0.9l-0.5 -0.5v-0.9zM427.4 260.8h0.9l0.5 0.5v0.9l-0.5 0.5h-0.9l-0.5 -0.5v-0.9zM427.9 261.9h0.9l0.5 0.5v0.9l-0.5 0.5h-0.9l-0.5 -0.5v-0.9zM428.4 261.2h0.9l0.5 0.5v0.9l-0.5 0.5h-0.9l-0.5 -0.5v-0.9zM429.0 260.3h0.9l0.5 0.5v0.9l-0.5 0.5h-0.9l-0.5 -0.5v-0.9zM429.5 261.2h0.9l0.5 0.5v0.9l-0.5 0.5h-0.9l-0.5 -0.5v-0.9zM430.1 261.9h0.9l0.5 0.5v0.9l-0.5 0.5h-0.9l-0.5 -0.5v-0.9zM430.6 261.2h0.9l0.5 0.5v0.9l-0.5 0.5h-0.9l-0.5 -0.5v-0.9zM431.1 260.8h0.9l0.5 0.5v0.9l-0.5 0.5h-0.9l-0.5 -0.5v-0.9zM431.7 260.6h0.9l0.5 0.5v0.9l-0.5 0.5h-0.9l-0.5 -0.5v-0.9zM432.2 260.7h0.9l0.5 0.5v0.9l-0.5 0.5h-0.9l-0.5 -0.5v-0.9zM432.8 260.6h0.9l0.5 0.5v0.9l-0.5 0.5h-0.9l-0.5 -0.5v-0.9zM433.3 261.7h0.9l0.5 0.5v0.9l-0.5 0.5h-0.9l-0.5 -0.5v-0.9zM433.8 261.4h0.9l0.5 0.5v0.9l-0.5 0.5h-0.9l-0.5 -0.5v-0.9zM434.4 261.5h0.9l0.5 0.5v0.9l-0.5 0.5h-0.9l-0.5 -0.5v-0.9zM434.9 261.3h0.9l0.5 0.5v0.9l-0.5 0.5h-0.9l-0.5 -0.5v-0.9zM435.5 260.7h0.9l0.5 0.5v0.9l-0.5 0.5h-0.9l-0.5 -0.5v-0.9zM436.0 260.2h0.9l0.5 0.5v0.9l-0.5 0.5h-0.9l-0.5 -0.5v-0.9zM436.5 261.2h0.9l0.5 0.5v0.9l-0.5 0.5h-0.9l-0.5 -0.5v-0.9zM437.1 260.4h0.9l0.5 0.5v0.9l-0.5 0.5h-0.9l-0.5 -0.5v-0.9zM437.6 260.4h0.9l0.5 0.5v0.9l-0.5 0.5h-0.9l-0.5 -0.5v-0.9zM438.2 261.9h0.9l0.5 0.5v0.9l-0.5 0.5h-0.9l-0.5 -0.5v-0.9zM438.7 261.7h0.9l0.5 0.5v0.9l-0.5 0.5h-0.9l-0.5 -0.5v-0.9zM439.2 261.0h0.9l0.5 0.5v0.9l-0.5 0.5h-0.9l-0.5 -0.5v-0.9zM439.8 262.0h0.9l0.5 0.5v0.9l-0.5 0.5h-0.9l-0.5 -0.5v-0.9zM440.3 260.0h0.9l0.5 0.5v0.9l-0.5 0.5h-0.9l-0.5 -0.5v-0.9zM440.9 262.4h0.9l0.5 0.5v0.9l-0.5 0.5h-0.9l-0.5 -0.5v-0.9zM441.4 262.0h0.9l0.5 0.5v0.9l-0.5 0.5h-0.9l-0.5 -0.5v-0.9zM441.9 260.7h0.9l0.5 0.5v0.9l-0.5 0.5h-0.9l-0.5 -0.5v-0.9zM442.5 261.7h0.9l0.5 0.5v0.9l-0.5 0.5h-0.9l-0.5 -0.5v-0.9zM443.0 260.8h0.9l0.5 0.5v0.9l-0.5 0.5h-0.9l-0.5 -0.5v-0.9zM443.6 261.9h0.9l0.5 0.5v0.9l-0.5 0.5h-0.9l-0.5 -0.5v-0.9zM444.1 260.6h0.9l0.5 0.5v0.9l-0.5 0.5h-0.9l-0.5 -0.5v-0.9zM444.6 261.7h0.9l0.5 0.5v0.9l-0.5 0.5h-0.9l-0.5 -0.5v-0.9zM445.2 260.8h0.9l0.5 0.5v0.9l-0.5 0.5h-0.9l-0.5 -0.5v-0.9zM445.7 260.7h0.9l0.5 0.5v0.9l-0.5 0.5h-0.9l-0.5 -0.5v-0.9zM446.3 262.3h0.9l0.5 0.5v0.9l-0.5 0.5h-0.9l-0.5 -0.5v-0.9zM446.8 261.9h0.9l0.5 0.5v0.9l-0.5 0.5h-0.9l-0.5 -0.5v-0.9zM447.3 262.5h0.9l0.5 0.5v0.9l-0.5 0.5h-0.9l-0.5 -0.5v-0.9zM447.9 262.1h0.9l0.5 0.5v0.9l-0.5 0.5h-0.9l-0.5 -0.5v-0.9zM448.4 260.8h0.9l0.5 0.5v0.9l-0.5 0.5h-0.9l-0.5 -0.5v-0.9zM449.0 261.4h0.9l0.5 0.5v0.9l-0.5 0.5h-0.9l-0.5 -0.5v-0.9zM449.5 260.9h0.9l0.5 0.5v0.9l-0.5 0.5h-0.9l-0.5 -0.5v-0.9zM450.0 260.5h0.9l0.5 0.5v0.9l-0.5 0.5h-0.9l-0.5 -0.5v-0.9zM450.6 260.8h0.9l0.5 0.5v0.9l-0.5 0.5h-0.9l-0.5 -0.5v-0.9zM451.1 261.0h0.9l0.5 0.5v0.9l-0.5 0.5h-0.9l-0.5 -0.5v-0.9zM451.7 261.7h0.9l0.5 0.5v0.9l-0.5 0.5h-0.9l-0.5 -0.5v-0.9zM452.2 261.7h0.9l0.5 0.5v0.9l-0.5 0.5h-0.9l-0.5 -0.5v-0.9zM452.7 261.3h0.9l0.5 0.5v0.9l-0.5 0.5h-0.9l-0.5 -0.5v-0.9zM453.3 260.9h0.9l0.5 0.5v0.9l-0.5 0.5h-0.9l-0.5 -0.5v-0.9zM453.8 260.8h0.9l0.5 0.5v0.9l-0.5 0.5h-0.9l-0.5 -0.5v-0.9zM454.4 261.3h0.9l0.5 0.5v0.9l-0.5 0.5h-0.9l-0.5 -0.5v-0.9zM454.9 261.7h0.9l0.5 0.5v0.9l-0.5 0.5h-0.9l-0.5 -0.5v-0.9zM455.4 261.6h0.9l0.5 0.5v0.9l-0.5 0.5h-0.9l-0.5 -0.5v-0.9zM456.0 260.5h0.9l0.5 0.5v0.9l-0.5 0.5h-0.9l-0.5 -0.5v-0.9zM456.5 261.4h0.9l0.5 0.5v0.9l-0.5 0.5h-0.9l-0.5 -0.5v-0.9zM457.1 260.3h0.9l0.5 0.5v0.9l-0.5 0.5h-0.9l-0.5 -0.5v-0.9zM457.6 262.0h0.9l0.5 0.5v0.9l-0.5 0.5h-0.9l-0.5 -0.5v-0.9zM458.1 261.0h0.9l0.5 0.5v0.9l-0.5 0.5h-0.9l-0.5 -0.5v-0.9zM458.7 261.5h0.9l0.5 0.5v0.9l-0.5 0.5h-0.9l-0.5 -0.5v-0.9zM459.2 261.1h0.9l0.5 0.5v0.9l-0.5 0.5h-0.9l-0.5 -0.5v-0.9zM459.8 262.1h0.9l0.5 0.5v0.9l-0.5 0.5h-0.9l-0.5 -0.5v-0.9zM460.3 261.4h0.9l0.5 0.5v0.9l-0.5 0.5h-0.9l-0.5 -0.5v-0.9zM460.8 261.7h0.9l0.5 0.5v0.9l-0.5 0.5h-0.9l-0.5 -0.5v-0.9zM461.4 261.8h0.9l0.5 0.5v0.9l-0.5 0.5h-0.9l-0.5 -0.5v-0.9zM461.9 262.4h0.9l0.5 0.5v0.9l-0.5 0.5h-0.9l-0.5 -0.5v-0.9zM462.5 262.6h0.9l0.5 0.5v0.9l-0.5 0.5h-0.9l-0.5 -0.5v-0.9zM463.0 261.9h0.9l0.5 0.5v0.9l-0.5 0.5h-0.9l-0.5 -0.5v-0.9zM463.5 261.3h0.9l0.5 0.5v0.9l-0.5 0.5h-0.9l-0.5 -0.5v-0.9zM464.1 261.5h0.9l0.5 0.5v0.9l-0.5 0.5h-0.9l-0.5 -0.5v-0.9zM464.6 261.5h0.9l0.5 0.5v0.9l-0.5 0.5h-0.9l-0.5 -0.5v-0.9zM465.2 261.5h0.9l0.5 0.5v0.9l-0.5 0.5h-0.9l-0.5 -0.5v-0.9zM465.7 262.5h0.9l0.5 0.5v0.9l-0.5 0.5h-0.9l-0.5 -0.5v-0.9zM466.2 261.1h0.9l0.5 0.5v0.9l-0.5 0.5h-0.9l-0.5 -0.5v-0.9zM466.8 261.7h0.9l0.5 0.5v0.9l-0.5 0.5h-0.9l-0.5 -0.5v-0.9zM467.3 262.2h0.9l0.5 0.5v0.9l-0.5 0.5h-0.9l-0.5 -0.5v-0.9zM467.9 262.1h0.9l0.5 0.5v0.9l-0.5 0.5h-0.9l-0.5 -0.5v-0.9zM468.4 261.1h0.9l0.5 0.5v0.9l-0.5 0.5h-0.9l-0.5 -0.5v-0.9zM468.9 261.6h0.9l0.5 0.5v0.9l-0.5 0.5h-0.9l-0.5 -0.5v-0.9zM469.5 262.8h0.9l0.5 0.5v0.9l-0.5 0.5h-0.9l-0.5 -0.5v-0.9zM470.0 260.5h0.9l0.5 0.5v0.9l-0.5 0.5h-0.9l-0.5 -0.5v-0.9zM470.6 262.7h0.9l0.5 0.5v0.9l-0.5 0.5h-0.9l-0.5 -0.5v-0.9zM471.1 260.7h0.9l0.5 0.5v0.9l-0.5 0.5h-0.9l-0.5 -0.5v-0.9zM471.6 261.3h0.9l0.5 0.5v0.9l-0.5 0.5h-0.9l-0.5 -0.5v-0.9zM472.2 262.4h0.9l0.5 0.5v0.9l-0.5 0.5h-0.9l-0.5 -0.5v-0.9zM472.7 261.0h0.9l0.5 0.5v0.9l-0.5 0.5h-0.9l-0.5 -0.5v-0.9zM473.3 261.0h0.9l0.5 0.5v0.9l-0.5 0.5h-0.9l-0.5 -0.5v-0.9zM473.8 261.2h0.9l0.5 0.5v0.9l-0.5 0.5h-0.9l-0.5 -0.5v-0.9zM474.3 261.4h0.9l0.5 0.5v0.9l-0.5 0.5h-0.9l-0.5 -0.5v-0.9zM474.9 261.6h0.9l0.5 0.5v0.9l-0.5 0.5h-0.9l-0.5 -0.5v-0.9zM475.4 261.7h0.9l0.5 0.5v0.9l-0.5 0.5h-0.9l-0.5 -0.5v-0.9zM476.0 262.2h0.9l0.5 0.5v0.9l-0.5 0.5h-0.9l-0.5 -0.5v-0.9zM476.5 261.7h0.9l0.5 0.5v0.9l-0.5 0.5h-0.9l-0.5 -0.5v-0.9zM477.0 261.1h0.9l0.5 0.5v0.9l-0.5 0.5h-0.9l-0.5 -0.5v-0.9zM477.6 261.9h0.9l0.5 0.5v0.9l-0.5 0.5h-0.9l-0.5 -0.5v-0.9zM478.1 260.7h0.9l0.5 0.5v0.9l-0.5 0.5h-0.9l-0.5 -0.5v-0.9zM478.7 262.8h0.9l0.5 0.5v0.9l-0.5 0.5h-0.9l-0.5 -0.5v-0.9zM479.2 261.9h0.9l0.5 0.5v0.9l-0.5 0.5h-0.9l-0.5 -0.5v-0.9zM479.7 262.8h0.9l0.5 0.5v0.9l-0.5 0.5h-0.9l-0.5 -0.5v-0.9zM480.3 263.0h0.9l0.5 0.5v0.9l-0.5 0.5h-0.9l-0.5 -0.5v-0.9zM480.8 261.7h0.9l0.5 0.5v0.9l-0.5 0.5h-0.9l-0.5 -0.5v-0.9zM481.4 262.1h0.9l0.5 0.5v0.9l-0.5 0.5h-0.9l-0.5 -0.5v-0.9zM481.9 262.2h0.9l0.5 0.5v0.9l-0.5 0.5h-0.9l-0.5 -0.5v-0.9zM482.4 262.6h0.9l0.5 0.5v0.9l-0.5 0.5h-0.9l-0.5 -0.5v-0.9zM483.0 262.1h0.9l0.5 0.5v0.9l-0.5 0.5h-0.9l-0.5 -0.5v-0.9zM483.5 262.9h0.9l0.5 0.5v0.9l-0.5 0.5h-0.9l-0.5 -0.5v-0.9zM484.1 262.0h0.9l0.5 0.5v0.9l-0.5 0.5h-0.9l-0.5 -0.5v-0.9zM484.6 262.3h0.9l0.5 0.5v0.9l-0.5 0.5h-0.9l-0.5 -0.5v-0.9zM485.1 262.7h0.9l0.5 0.5v0.9l-0.5 0.5h-0.9l-0.5 -0.5v-0.9zM485.7 261.7h0.9l0.5 0.5v0.9l-0.5 0.5h-0.9l-0.5 -0.5v-0.9zM486.2 263.1h0.9l0.5 0.5v0.9l-0.5 0.5h-0.9l-0.5 -0.5v-0.9zM486.8 261.7h0.9l0.5 0.5v0.9l-0.5 0.5h-0.9l-0.5 -0.5v-0.9zM487.3 261.8h0.9l0.5 0.5v0.9l-0.5 0.5h-0.9l-0.5 -0.5v-0.9zM487.8 261.6h0.9l0.5 0.5v0.9l-0.5 0.5h-0.9l-0.5 -0.5v-0.9zM488.4 261.9h0.9l0.5 0.5v0.9l-0.5 0.5h-0.9l-0.5 -0.5v-0.9zM488.9 261.5h0.9l0.5 0.5v0.9l-0.5 0.5h-0.9l-0.5 -0.5v-0.9zM489.5 262.1h0.9l0.5 0.5v0.9l-0.5 0.5h-0.9l-0.5 -0.5v-0.9zM490.0 262.6h0.9l0.5 0.5v0.9l-0.5 0.5h-0.9l-0.5 -0.5v-0.9zM490.5 261.8h0.9l0.5 0.5v0.9l-0.5 0.5h-0.9l-0.5 -0.5v-0.9zM491.1 262.5h0.9l0.5 0.5v0.9l-0.5 0.5h-0.9l-0.5 -0.5v-0.9zM491.6 262.2h0.9l0.5 0.5v0.9l-0.5 0.5h-0.9l-0.5 -0.5v-0.9zM492.2 261.9h0.9l0.5 0.5v0.9l-0.5 0.5h-0.9l-0.5 -0.5v-0.9zM492.7 262.6h0.9l0.5 0.5v0.9l-0.5 0.5h-0.9l-0.5 -0.5v-0.9zM493.2 261.4h0.9l0.5 0.5v0.9l-0.5 0.5h-0.9l-0.5 -0.5v-0.9zM493.8 263.0h0.9l0.5 0.5v0.9l-0.5 0.5h-0.9l-0.5 -0.5v-0.9zM494.3 261.3h0.9l0.5 0.5v0.9l-0.5 0.5h-0.9l-0.5 -0.5v-0.9zM494.9 262.1h0.9l0.5 0.5v0.9l-0.5 0.5h-0.9l-0.5 -0.5v-0.9zM495.4 261.0h0.9l0.5 0.5v0.9l-0.5 0.5h-0.9l-0.5 -0.5v-0.9zM495.9 261.4h0.9l0.5 0.5v0.9l-0.5 0.5h-0.9l-0.5 -0.5v-0.9zM496.5 261.6h0.9l0.5 0.5v0.9l-0.5 0.5h-0.9l-0.5 -0.5v-0.9zM497.0 261.9h0.9l0.5 0.5v0.9l-0.5 0.5h-0.9l-0.5 -0.5v-0.9zM497.6 262.0h0.9l0.5 0.5v0.9l-0.5 0.5h-0.9l-0.5 -0.5v-0.9zM498.1 262.9h0.9l0.5 0.5v0.9l-0.5 0.5h-0.9l-0.5 -0.5v-0.9zM498.6 262.4h0.9l0.5 0.5v0.9l-0.5 0.5h-0.9l-0.5 -0.5v-0.9zM499.2 262.7h0.9l0.5 0.5v0.9l-0.5 0.5h-0.9l-0.5 -0.5v-0.9zM499.7 262.5h0.9l0.5 0.5v0.9l-0.5 0.5h-0.9l-0.5 -0.5v-0.9zM500.3 262.2h0.9l0.5 0.5v0.9l-0.5 0.5h-0.9l-0.5 -0.5v-0.9zM500.8 262.6h0.9l0.5 0.5v0.9l-0.5 0.5h-0.9l-0.5 -0.5v-0.9zM501.3 262.0h0.9l0.5 0.5v0.9l-0.5 0.5h-0.9l-0.5 -0.5v-0.9zM501.9 262.3h0.9l0.5 0.5v0.9l-0.5 0.5h-0.9l-0.5 -0.5v-0.9zM502.4 262.4h0.9l0.5 0.5v0.9l-0.5 0.5h-0.9l-0.5 -0.5v-0.9zM503.0 261.9h0.9l0.5 0.5v0.9l-0.5 0.5h-0.9l-0.5 -0.5v-0.9zM503.5 261.8h0.9l0.5 0.5v0.9l-0.5 0.5h-0.9l-0.5 -0.5v-0.9zM504.0 262.9h0.9l0.5 0.5v0.9l-0.5 0.5h-0.9l-0.5 -0.5v-0.9zM504.6 262.3h0.9l0.5 0.5v0.9l-0.5 0.5h-0.9l-0.5 -0.5v-0.9zM505.1 260.4h0.9l0.5 0.5v0.9l-0.5 0.5h-0.9l-0.5 -0.5v-0.9zM505.7 262.1h0.9l0.5 0.5v0.9l-0.5 0.5h-0.9l-0.5 -0.5v-0.9zM506.2 261.9h0.9l0.5 0.5v0.9l-0.5 0.5h-0.9l-0.5 -0.5v-0.9zM506.7 262.7h0.9l0.5 0.5v0.9l-0.5 0.5h-0.9l-0.5 -0.5v-0.9zM507.3 261.6h0.9l0.5 0.5v0.9l-0.5 0.5h-0.9l-0.5 -0.5v-0.9zM507.8 261.3h0.9l0.5 0.5v0.9l-0.5 0.5h-0.9l-0.5 -0.5v-0.9zM508.4 261.8h0.9l0.5 0.5v0.9l-0.5 0.5h-0.9l-0.5 -0.5v-0.9zM508.9 262.3h0.9l0.5 0.5v0.9l-0.5 0.5h-0.9l-0.5 -0.5v-0.9zM509.4 262.2h0.9l0.5 0.5v0.9l-0.5 0.5h-0.9l-0.5 -0.5v-0.9zM510.0 263.3h0.9l0.5 0.5v0.9l-0.5 0.5h-0.9l-0.5 -0.5v-0.9zM510.5 261.8h0.9l0.5 0.5v0.9l-0.5 0.5h-0.9l-0.5 -0.5v-0.9zM511.1 262.4h0.9l0.5 0.5v0.9l-0.5 0.5h-0.9l-0.5 -0.5v-0.9zM511.6 262.0h0.9l0.5 0.5v0.9l-0.5 0.5h-0.9l-0.5 -0.5v-0.9zM512.1 262.0h0.9l0.5 0.5v0.9l-0.5 0.5h-0.9l-0.5 -0.5v-0.9zM512.7 262.1h0.9l0.5 0.5v0.9l-0.5 0.5h-0.9l-0.5 -0.5v-0.9zM513.2 261.0h0.9l0.5 0.5v0.9l-0.5 0.5h-0.9l-0.5 -0.5v-0.9zM513.8 261.7h0.9l0.5 0.5v0.9l-0.5 0.5h-0.9l-0.5 -0.5v-0.9zM514.3 262.6h0.9l0.5 0.5v0.9l-0.5 0.5h-0.9l-0.5 -0.5v-0.9zM514.8 261.9h0.9l0.5 0.5v0.9l-0.5 0.5h-0.9l-0.5 -0.5v-0.9zM515.4 261.9h0.9l0.5 0.5v0.9l-0.5 0.5h-0.9l-0.5 -0.5v-0.9zM515.9 262.2h0.9l0.5 0.5v0.9l-0.5 0.5h-0.9l-0.5 -0.5v-0.9zM516.5 261.4h0.9l0.5 0.5v0.9l-0.5 0.5h-0.9l-0.5 -0.5v-0.9zM517.0 262.5h0.9l0.5 0.5v0.9l-0.5 0.5h-0.9l-0.5 -0.5v-0.9zM517.5 263.3h0.9l0.5 0.5v0.9l-0.5 0.5h-0.9l-0.5 -0.5v-0.9zM518.1 262.9h0.9l0.5 0.5v0.9l-0.5 0.5h-0.9l-0.5 -0.5v-0.9zM518.6 262.0h0.9l0.5 0.5v0.9l-0.5 0.5h-0.9l-0.5 -0.5v-0.9zM519.2 262.9h0.9l0.5 0.5v0.9l-0.5 0.5h-0.9l-0.5 -0.5v-0.9zM519.7 262.2h0.9l0.5 0.5v0.9l-0.5 0.5h-0.9l-0.5 -0.5v-0.9zM520.2 263.2h0.9l0.5 0.5v0.9l-0.5 0.5h-0.9l-0.5 -0.5v-0.9zM520.8 262.1h0.9l0.5 0.5v0.9l-0.5 0.5h-0.9l-0.5 -0.5v-0.9zM521.3 262.4h0.9l0.5 0.5v0.9l-0.5 0.5h-0.9l-0.5 -0.5v-0.9zM521.9 262.8h0.9l0.5 0.5v0.9l-0.5 0.5h-0.9l-0.5 -0.5v-0.9zM522.4 262.6h0.9l0.5 0.5v0.9l-0.5 0.5h-0.9l-0.5 -0.5v-0.9zM522.9 262.5h0.9l0.5 0.5v0.9l-0.5 0.5h-0.9l-0.5 -0.5v-0.9zM523.5 261.8h0.9l0.5 0.5v0.9l-0.5 0.5h-0.9l-0.5 -0.5v-0.9zM524.0 262.2h0.9l0.5 0.5v0.9l-0.5 0.5h-0.9l-0.5 -0.5v-0.9zM524.6 262.4h0.9l0.5 0.5v0.9l-0.5 0.5h-0.9l-0.5 -0.5v-0.9zM525.1 262.2h0.9l0.5 0.5v0.9l-0.5 0.5h-0.9l-0.5 -0.5v-0.9zM525.6 261.8h0.9l0.5 0.5v0.9l-0.5 0.5h-0.9l-0.5 -0.5v-0.9zM526.2 262.1h0.9l0.5 0.5v0.9l-0.5 0.5h-0.9l-0.5 -0.5v-0.9zM526.7 261.3h0.9l0.5 0.5v0.9l-0.5 0.5h-0.9l-0.5 -0.5v-0.9zM527.3 262.8h0.9l0.5 0.5v0.9l-0.5 0.5h-0.9l-0.5 -0.5v-0.9z"/>
<path fill="#00ff00" d="M279.6 87.9l2.2 -1.2v2.4zM279.9 91.8l2.2 -1.2v2.4zM280.3 94.9l2.2 -1.2v2.4zM280.6 98.4l2.2 -1.2v2.4zM281.0 97.9l2.2 -1.2v2.4zM281.3 106.4l2.2 -1.2v2.4zM281.6 111.2l2.2 -1.2v2.4zM282.0 117.7l2.2 -1.2v2.4zM282.3 118.4l2.2 -1.2v2.4zM282.6 115.2l2.2 -1.2v2.4zM283.0 122.5l2.2 -1.2v2.4zM283.3 121.5l2.2 -1.2v2.4zM283.7 124.6l2.2 -1.2v2.4zM284.0 122.1l2.2 -1.2v2.4zM284.3 123.2l2.2 -1.2v2.4zM284.7 133.1l2.2 -1.2v2.4zM285.0 132.3l2.2 -1.2v2.4zM285.3 130.8l2.2 -1.2v2.4zM285.7 142.5l2.2 -1.2v2.4zM286.0 137.2l2.2 -1.2v2.4zM286.4 136.2l2.2 -1.2v2.4zM286.7 146.0l2.2 -1.2v2.4zM287.0 144.6l2.2 -1.2v2.4zM287.4 143.1l2.2 -1.2v2.4zM287.7 151.8l2.2 -1.2v2.4zM288.0 152.4l2.2 -1.2v2.4zM288.4 151.5l2.2 -1.2v2.4zM288.7 156.1l2.2 -1.2v2.4zM289.1 152.0l2.2 -1.2v2.4zM289.4 155.9l2.2 -1.2v2.4zM289.7 156.2l2.2 -1.2v2.4zM290.1 161.3l2.2 -1.2v2.4zM290.4 165.0l2.2 -1.2v2.4zM290.7 163.0l2.2 -1.2v2.4zM291.1 165.4l2.2 -1.2v2.4zM291.4 159.2l2.2 -1.2v2.4zM291.8 160.5l2.2 -1.2v2.4zM292.1 167.8l2.2 -1.2v2.4zM292.4 170.8l2.2 -1.2v2.4zM293.0 171.7l2.2 -1.2v2.4zM293.5 176.6l2.2 -1.2v2.4zM294.1 175.7l2.2 -1.2v2.4zM294.6 181.6l2.2 -1.2v2.4zM295.1 177.7l2.2 -1.2v2.4zM295.7 180.9l2.2 -1.2v2.4zM296.2 187.5l2.2 -1.2v2.4zM296.8 188.6l2.2 -1.2v2.4zM297.3 189.2l2.2 -1.2v2.4zM297.8 184.4l2.2 -1.2v2.4zM298.4 190.0l2.2 -1.2v2.4zM298.9 193.1l2.2 -1.2v2.4zM299.5 196.6l2.2 -1.2v2.4zM300.0 196.2l2.2 -1.2v2.4zM300.5 200.6l2.2 -1.2v2.4zM301.1 201.8l2.2 -1.2v2.4zM301.6 207.4l2.2 -1.2v2.4zM302.2 205.3l2.2 -1.2v2.4zM302.7 207.6l2.2 -1.2v2.4zM303.2 205.3l2.2 -1.2v2.4zM303.8 214.2l2.2 -1.2v2.4zM304.3 213.5l2.2 -1.2v2.4zM304.9 217.8l2.2 -1.2v2.4zM305.4 214.8l2.2 -1.2v2.4zM305.9 214.9l2.2 -1.2v2.4zM306.5 210.9l2.2 -1.2v2.4zM307.0 212.7l2.2 -1.2v2.4zM307.6 219.1l2.2 -1.2v2.4zM308.1 217.0l2.2 -1.2v2.4zM308.6 219.9l2.2 -1.2v2.4zM309.2 216.7l2.2 -1.2v2.4zM309.7 225.1l2.2 -1.2v2.4zM310.3 224.1l2.2 -1.2v2.4zM310.8 220.3l2.2 -1.2v2.4zM311.3 223.5l2.2 -1.2v2.4zM311.9 224.9l2.2 -1.2v2.4zM312.4 226.2l2.2 -1.2v2.4zM313.0 224.4l2.2 -1.2v2.4zM313.5 224.4l2.2 -1.2v2.4zM314.0 226.2l2.2 -1.2v2.4zM314.6 231.1l2.2 -1.2v2.4zM315.1 226.8l2.2 -1.2v2.4zM315.7 223.4l2.2 -1.2v2.4zM316.2 223.3l2.2 -1.2v2.4zM316.7 225.3l2.2 -1.2v2.4zM317.3 233.6l2.2 -1.2v2.4zM317.8 229.7l2.2 -1.2v2.4zM318.4 231.3l2.2 -1.2v2.4zM318.9 228.7l2.2 -1.2v2.4zM319.4 232.9l2.2 -1.2v2.4zM320.0 233.7l2.2 -1.2v2.4zM320.5 232.4l2.2 -1.2v2.4zM321.1 228.2l2.2 -1.2v2.4zM321.6 232.0l2.2 -1.2v2.4zM322.1 238.4l2.2 -1.2v2.4zM322.7 232.2l2.2 -1.2v2.4zM323.2 234.3l2.2 -1.2v2.4zM323.8 235.6l2.2 -1.2v2.4zM324.3 236.6l2.2 -1.2v2.4zM324.8 232.3l2.2 -1.2v2.4zM325.4 241.7l2.2 -1.2v2.4zM325.9 239.9l2.2 -1.2v2.4zM326.5 241.4l2.2 -1.2v2.4zM327.0 235.2l2.2 -1.2v2.4zM327.5 237.8l2.2 -1.2v2.4zM328.1 241.3l2.2 -1.2v2.4zM328.6 240.1l2.2 -1.2v2.4zM329.2 238.0l2.2 -1.2v2.4zM329.7 241.5l2.2 -1.2v2.4zM330.2 241.5l2.2 -1.2v2.4zM330.8 240.7l2.2 -1.2v2.4zM331.3 234.4l2.2 -1.2v2.4zM331.9 244.3l2.2 -1.2v2.4zM332.4 243.5l2.2 -1.2v2.4zM332.9 246.1l2.2 -1.2v2.4zM333.5 241.5l2.2 -1.2v2.4zM334.0 243.1l2.2 -1.2v2.4zM334.6 242.3l2.2 -1.2v2.4zM335.1 246.2l2.2 -1.2v2.4zM335.6 242.0l2.2 -1.2v2.4zM336.2 246.2l2.2 -1.2v2.4zM336.7 243.3l2.2 -1.2v2.4zM337.3 245.8l2.2 -1.2v2.4zM337.8 242.0l2.2 -1.2v2.4zM338.3 247.6l2.2 -1.2v2.4zM338.9 244.6l2.2 -1.2v2.4zM339.4 247.3l2.2 -1.2v2.4zM340.0 245.5l2.2 -1.2v2.4zM340.5 247.7l2.2 -1.2v2.4zM341.0 246.4l2.2 -1.2v2.4zM341.6 248.0l2.2 -1.2v2.4zM342.1 249.4l2.2 -1.2v2.4zM342.7 247.8l2.2 -1.2v2.4zM343.2 249.4l2.2 -1.2v2.4zM343.7 247.6l2.2 -1.2v2.4zM344.3 251.8l2.2 -1.2v2.4zM344.8 248.2l2.2 -1.2v2.4zM345.4 249.1l2.2 -1.2v2.4zM345.9 244.9l2.2 -1.2v2.4zM346.4 249.3l2.2 -1.2v2.4zM347.0 251.3l2.2 -1.2v2.4zM347.5 251.0l2.2 -1.2v2.4zM348.1 249.2l2.2 -1.2v2.4zM348.6 251.8l2.2 -1.2v2.4zM349.1 248.9l2.2 -1.2v2.4zM349.7 254.1l2.2 -1.2v2.4zM350.2 253.5l2.2 -1.2v2.4zM350.8 250.6l2.2 -1.2v2.4zM351.3 250.7l2.2 -1.2v2.4zM351.8 252.4l2.2 -1.2v2.4zM352.4 253.6l2.2 -1.2v2.4zM352.9 253.6l2.2 -1.2v2.4zM353.5 253.6l2.2 -1.2v2.4zM354.0 253.8l2.2 -1.2v2.4zM354.5 249.9l2.2 -1.2v2.4zM355.1 254.3l2.2 -1.2v2.4zM355.6 254.8l2.2 -1.2v2.4zM356.2 255.0l2.2 -1.2v2.4zM356.7 254.9l2.2 -1.2v2.4zM357.2 251.6l2.2 -1.2v2.4zM357.8 254.6l2.2 -1.2v2.4zM358.3 254.3l2.2 -1.2v2.4zM358.9 255.2l2.2 -1.2v2.4zM359.4 252.3l2.2 -1.2v2.4zM359.9 253.1l2.2 -1.2v2.4zM360.5 255.1l2.2 -1.2v2.4zM361.0 255.1l2.2 -1.2v2.4zM361.6 253.5l2.2 -1.2v2.4zM362.1 256.8l2.2 -1.2v2.4zM362.6 249.3l2.2 -1.2v2.4zM363.2 255.2l2.2 -1.2v2.4zM363.7 255.9l2.2 -1.2v2.4zM364.3 256.3l2.2 -1.2v2.4zM364.8 256.8l2.2 -1.2v2.4zM365.3 254.1l2.2 -1.2v2.4zM365.9 257.0l2.2 -1.2v2.4zM366.4 256.3l2.2 -1.2v2.4zM367.0 257.4l2.2 -1.2v2.4zM367.5 254.7l2.2 -1.2v2.4zM368.0 253.4l2.2 -1.2v2.4zM368.6 256.5l2.2 -1.2v2.4zM369.1 256.9l2.2 -1.2v2.4zM369.7 256.9l2.2 -1.2v2.4zM370.2 257.9l2.2 -1.2v2.4zM370.7 257.8l2.2 -1.2v2.4zM371.3 256.8l2.2 -1.2v2.4zM371.8 252.0l2.2 -1.2v2.4zM372.4 258.0l2.2 -1.2v2.4zM372.9 256.5l2.2 -1.2v2.4zM373.4 256.5l2.2 -1.2v2.4zM374.0 253.8l2.2 -1.2v2.4zM374.5 257.0l2.2 -1.2v2.4zM375.1 257.6l2.2 -1.2v2.4zM375.6 258.2l2.2 -1.2v2.4zM376.1 259.4l2.2 -1.2v2.4zM376.7 255.9l2.2 -1.2v2.4zM377.2 255.2l2.2 -1.2v2.4zM377.8 258.0l2.2 -1.2v2.4zM378.3 257.8l2.2 -1.2v2.4zM378.8 257.0l2.2 -1.2v2.4zM379.4 257.5l2.2 -1.2v2.4zM379.9 258.2l2.2 -1.2v2.4zM380.5 257.6l2.2 -1.2v2.4zM381.0 259.4l2.2 -1.2v2.4zM381.5 257.5l2.2 -1.2v2.4zM382.1 258.5l2.2 -1.2v2.4zM382.6 258.3l2.2 -1.2v2.4zM383.2 258.4l2.2 -1.2v2.4zM383.7 256.3l2.2 -1.2v2.4zM384.2 258.3l2.2 -1.2v2.4zM384.8 258.5l2.2 -1.2v2.4zM385.3 259.0l2.2 -1.2v2.4zM385.9 261.0l2.2 -1.2v2.4zM386.4 258.1l2.2 -1.2v2.4zM386.9 257.4l2.2 -1.2v2.4zM387.5 257.2l2.2 -1.2v2.4zM388.0 257.7l2.2 -1.2v2.4zM388.6 256.8l2.2 -1.2v2.4zM389.1 257.0l2.2 -1.2v2.4zM389.6 261.0l2.2 -1.2v2.4zM390.2 256.8l2.2 -1.2v2.4zM390.7 255.5l2.2 -1.2v2.4zM391.3 259.1l2.2 -1.2v2.4zM391.8 258.4l2.2 -1.2v2.4zM392.3 260.2l2.2 -1.2v2.4zM392.9 259.3l2.2 -1.2v2.4zM393.4 259.4l2.2 -1.2v2.4zM394.0 260.1l2.2 -1.2v2.4zM394.5 260.5l2.2 -1.2v2.4zM395.0 259.2l2.2 -1.2v2.4zM395.6 252.9l2.2 -1.2v2.4zM396.1 259.9l2.2 -1.2v2.4zM396.7 260.8l2.2 -1.2v2.4zM397.2 258.2l2.2 -1.2v2.4zM397.7 260.9l2.2 -1.2v2.4zM398.3 259.4l2.2 -1.2v2.4zM398.8 259.0l2.2 -1.2v2.4zM399.4 258.5l2.2 -1.2v2.4zM399.9 259.4l2.2 -1.2v2.4zM400.4 257.7l2.2 -1.2v2.4zM401.0 259.7l2.2 -1.2v2.4zM401.5 259.6l2.2 -1.2v2.4zM402.1 258.1l2.2 -1.2v2.4zM402.6 258.3l2.2 -1.2v2.4zM403.1 259.9l2.2 -1.2v2.4zM403.7 258.5l2.2 -1.2v2.4zM404.2 259.1l2.2 -1.2v2.4zM404.8 258.9l2.2 -1.2v2.4zM405.3 261.1l2.2 -1.2v2.4zM405.8 260.0l2.2 -1.2v2.4zM406.4 259.5l2.2 -1.2v2.4zM406.9 260.2l2.2 -1.2v2.4zM407.5 259.4l2.2 -1.2v2.4zM408.0 259.4l2.2 -1.2v2.4zM408.5 259.5l2.2 -1.2v2.4zM409.1 259.1l2.2 -1.2v2.4zM409.6 261.0l2.2 -1.2v2.4zM410.2 259.3l2.2 -1.2v2.4zM410.7 259.1l2.2 -1.2v2.4zM411.2 260.6l2.2 -1.2v2.4zM411.8 260.9l2.2 -1.2v2.4zM412.3 261.6l2.2 -1.2v2.4zM412.9 259.0l2.2 -1.2v2.4zM413.4 259.9l2.2 -1.2v2.4zM413.9 259.6l2.2 -1.2v2.4zM414.5 259.3l2.2 -1.2v2.4zM415.0 257.9l2.2 -1.2v2.4zM415.6 259.2l2.2 -1.2v2.4zM416.1 257.3l2.2 -1.2v2.4zM416.6 259.9l2.2 -1.2v2.4zM417.2 258.6l2.2 -1.2v2.4zM417.7 260.2l2.2 -1.2v2.4zM418.3 258.7l2.2 -1.2v2.4zM418.8 260.1l2.2 -1.2v2.4zM419.3 258.0l2.2 -1.2v2.4zM419.9 261.4l2.2 -1.2v2.4zM420.4 258.0l2.2 -1.2v2.4zM421.0 260.5l2.2 -1.2v2.4zM421.5 256.1l2.2 -1.2v2.4zM422.0 260.0l2.2 -1.2v2.4zM422.6 259.6l2.2 -1.2v2.4zM423.1 260.1l2.2 -1.2v2.4zM423.7 260.9l2.2 -1.2v2.4zM424.2 259.2l2.2 -1.2v2.4zM424.7 261.7l2.2 -1.2v2.4zM425.3 258.9l2.2 -1.2v2.4zM425.8 260.7l2.2 -1.2v2.4zM426.4 261.1l2.2 -1.2v2.4zM426.9 259.3l2.2 -1.2v2.4zM427.4 259.2l2.2 -1.2v2.4zM428.0 257.8l2.2 -1.2v2.4zM428.5 261.9l2.2 -1.2v2.4zM429.1 259.5l2.2 -1.2v2.4zM429.6 261.2l2.2 -1.2v2.4zM430.1 261.0l2.2 -1.2v2.4zM430.7 260.9l2.2 -1.2v2.4zM431.2 260.5l2.2 -1.2v2.4zM431.8 258.5l2.2 -1.2v2.4zM432.3 261.8l2.2 -1.2v2.4zM432.8 261.4l2.2 -1.2v2.4zM433.4 260.5l2.2 -1.2v2.4zM433.9 259.8l2.2 -1.2v2.4zM434.5 260.0l2.2 -1.2v2.4zM435.0 260.2l2.2 -1.2v2.4zM435.5 260.0l2.2 -1.2v2.4zM436.1 261.2l2.2 -1.2v2.4zM436.6 261.4l2.2 -1.2v2.4zM437.2 261.0l2.2 -1.2v2.4zM437.7 260.9l2.2 -1.2v2.4zM438.2 260.1l2.2 -1.2v2.4zM438.8 258.9l2.2 -1.2v2.4zM439.3 261.4l2.2 -1.2v2.4zM439.9 261.3l2.2 -1.2v2.4zM440.4 261.2l2.2 -1.2v2.4zM440.9 259.8l2.2 -1.2v2.4zM441.5 259.6l2.2 -1.2v2.4zM442.0 258.4l2.2 -1.2v2.4zM442.6 259.2l2.2 -1.2v2.4zM443.1 260.6l2.2 -1.2v2.4zM443.6 259.3l2.2 -1.2v2.4zM444.2 260.4l2.2 -1.2v2.4zM444.7 260.4l2.2 -1.2v2.4zM445.3 261.6l2.2 -1.2v2.4zM445.8 261.4l2.2 -1.2v2.4zM446.3 261.5l2.2 -1.2v2.4zM446.9 259.4l2.2 -1.2v2.4zM447.4 259.9l2.2 -1.2v2.4zM448.0 259.6l2.2 -1.2v2.4zM448.5 260.9l2.2 -1.2v2.4zM449.0 261.0l2.2 -1.2v2.4zM449.6 260.2l2.2 -1.2v2.4zM450.1 260.8l2.2 -1.2v2.4zM450.7 261.3l2.2 -1.2v2.4zM451.2 253.1l2.2 -1.2v2.4zM451.7 259.8l2.2 -1.2v2.4zM452.3 262.0l2.2 -1.2v2.4zM452.8 260.3l2.2 -1.2v2.4zM453.4 261.4l2.2 -1.2v2.4zM453.9 260.0l2.2 -1.2v2.4zM454.4 261.8l2.2 -1.2v2.4zM455.0 261.1l2.2 -1.2v2.4zM455.5 261.5l2.2 -1.2v2.4zM456.1 261.3l2.2 -1.2v2.4zM456.6 261.0l2.2 -1.2v2.4zM457.1 259.7l2.2 -1.2v2.4zM457.7 261.5l2.2 -1.2v2.4zM458.2 261.7l2.2 -1.2v2.4zM458.8 260.8l2.2 -1.2v2.4zM459.3 259.9l2.2 -1.2v2.4zM459.8 261.1l2.2 -1.2v2.4zM460.4 259.6l2.2 -1.2v2.4zM460.9 260.7l2.2 -1.2v2.4zM461.5 261.5l2.2 -1.2v2.4zM462.0 261.3l2.2 -1.2v2.4zM462.5 260.3l2.2 -1.2v2.4zM463.1 261.2l2.2 -1.2v2.4zM463.6 261.6l2.2 -1.2v2.4zM464.2 260.2l2.2 -1.2v2.4zM464.7 261.7l2.2 -1.2v2.4zM465.2 262.1l2.2 -1.2v2.4zM465.8 261.1l2.2 -1.2v2.4zM466.3 261.0l2.2 -1.2v2.4zM466.9 259.0l2.2 -1.2v2.4zM467.4 257.8l2.2 -1.2v2.4zM467.9 261.6l2.2 -1.2v2.4zM468.5 260.9l2.2 -1.2v2.4zM469.0 258.8l2.2 -1.2v2.4zM469.6 261.4l2.2 -1.2v2.4zM470.1 260.0l2.2 -1.2v2.4zM470.6 260.2l2.2 -1.2v2.4zM471.2 262.0l2.2 -1.2v2.4zM471.7 260.9l2.2 -1.2v2.4zM472.3 260.1l2.2 -1.2v2.4zM472.8 260.1l2.2 -1.2v2.4zM473.3 261.5l2.2 -1.2v2.4zM473.9 260.8l2.2 -1.2v2.4zM474.4 261.7l2.2 -1.2v2.4zM475.0 261.0l2.2 -1.2v2.4zM475.5 260.4l2.2 -1.2v2.4zM476.0 260.8l2.2 -1.2v2.4zM476.6 259.6l2.2 -1.2v2.4zM477.1 260.2l2.2 -1.2v2.4zM477.7 261.1l2.2 -1.2v2.4zM478.2 261.6l2.2 -1.2v2.4zM478.7 261.1l2.2 -1.2v2.4zM479.3 260.9l2.2 -1.2v2.4zM479.8 260.9l2.2 -1.2v2.4zM480.4 260.8l2.2 -1.2v2.4zM480.9 260.4l2.2 -1.2v2.4zM481.4 260.2l2.2 -1.2v2.4zM482.0 260.0l2.2 -1.2v2.4zM482.5 262.1l2.2 -1.2v2.4zM483.1 260.7l2.2 -1.2v2.4zM483.6 260.9l2.2 -1.2v2.4zM484.1 261.8l2.2 -1.2v2.4zM484.7 260.3l2.2 -1.2v2.4zM485.2 260.3l2.2 -1.2v2.4zM485.8 261.6l2.2 -1.2v2.4zM486.3 259.0l2.2 -1.2v2.4zM486.8 260.2l2.2 -1.2v2.4zM487.4 261.5l2.2 -1.2v2.4zM487.9 261.5l2.2 -1.2v2.4zM488.5 260.8l2.2 -1.2v2.4zM489.0 261.4l2.2 -1.2v2.4zM489.5 261.9l2.2 -1.2v2.4zM490.1 258.3l2.2 -1.2v2.4zM490.6 260.2l2.2 -1.2v2.4zM491.2 260.3l2.2 -1.2v2.4zM491.7 260.0l2.2 -1.2v2.4zM492.2 261.1l2.2 -1.2v2.4zM492.8 259.9l2.2 -1.2v2.4zM493.3 262.6l2.2 -1.2v2.4zM493.9 260.4l2.2 -1.2v2.4zM494.4 261.9l2.2 -1.2v2.4zM494.9 261.1l2.2 -1.2v2.4zM495.5 262.7l2.2 -1.2v2.4zM496.0 261.0l2.2 -1.2v2.4zM496.6 260.7l2.2 -1.2v2.4zM497.1 255.0l2.2 -1.2v2.4zM497.6 255.2l2.2 -1.2v2.4zM498.2 261.4l2.2 -1.2v2.4zM498.7 259.7l2.2 -1.2v2.4zM499.3 260.8l2.2 -1.2v2.4zM499.8 260.9l2.2 -1.2v2.4zM500.3 262.7l2.2 -1.2v2.4zM500.9 260.8l2.2 -1.2v2.4zM501.4 262.4l2.2 -1.2v2.4zM502.0 260.7l2.2 -1.2v2.4zM502.5 261.0l2.2 -1.2v2.4zM503.0 262.5l2.2 -1.2v2.4zM503.6 260.9l2.2 -1.2v2.4zM504.1 262.7l2.2 -1.2v2.4zM504.7 260.3l2.2 -1.2v2.4zM505.2 259.6l2.2 -1.2v2.4zM505.7 261.4l2.2 -1.2v2.4zM506.3 261.9l2.2 -1.2v2.4zM506.8 261.5l2.2 -1.2v2.4zM507.4 261.3l2.2 -1.2v2.4zM507.9 260.0l2.2 -1.2v2.4zM508.4 261.9l2.2 -1.2v2.4zM509.0 261.0l2.2 -1.2v2.4zM509.5 260.7l2.2 -1.2v2.4zM510.1 261.8l2.2 -1.2v2.4zM510.6 262.4l2.2 -1.2v2.4zM511.1 260.8l2.2 -1.2v2.4zM511.7 260.8l2.2 -1.2v2.4zM512.2 262.7l2.2 -1.2v2.4zM512.8 262.5l2.2 -1.2v2.4zM513.3 260.9l2.2 -1.2v2.4zM513.8 262.3l2.2 -1.2v2.4zM514.4 260.8l2.2 -1.2v2.4zM514.9 260.6l2.2 -1.2v2.4zM515.5 261.3l2.2 -1.2v2.4zM516.0 260.1l2.2 -1.2v2.4zM516.5 259.9l2.2 -1.2v2.4zM517.1 261.4l2.2 -1.2v2.4zM517.6 261.2l2.2 -1.2v2.4zM518.2 262.0l2.2 -1.2v2.4zM518.7 259.3l2.2 -1.2v2.4zM519.2 261.1l2.2 -1.2v2.4zM519.8 261.9l2.2 -1.2v2.4zM520.3 262.1l2.2 -1.2v2.4zM520.9 260.6l2.2 -1.2v2.4zM521.4 261.6l2.2 -1.2v2.4zM521.9 261.8l2.2 -1.2v2.4zM522.5 262.4l2.2 -1.2v2.4zM523.0 262.0l2.2 -1.2v2.4zM523.6 260.1l2.2 -1.2v2.4zM524.1 262.0l2.2 -1.2v2.4zM524.6 261.1l2.2 -1.2v2.4zM525.2 260.7l2.2 -1.2v2.4zM525.7 260.1l2.2 -1.2v2.4zM526.3 261.8l2.2 -1.2v2.4z"/>

<path d="M272.0 70.2V273.0H528.0" fill="none" stroke="#000" stroke-width="1.6"/>
<path d="M268.3 264.6H272.0M268.3 229.3H272.0M268.3 193.9H272.0M268.3 158.6H272.0M268.3 123.2H272.0M268.3 87.9H272.0M299.0 273.0V277M353.0 273.0V277M407.0 273.0V277M461.0 273.0V277M515.0 273.0V277" stroke="#000" stroke-width="1.5" fill="none"/>
<text x="265.5" y="266.8" text-anchor="end" class="b8">0.0</text>
<text x="265.5" y="231.5" text-anchor="end" class="b8">0.2</text>
<text x="265.5" y="196.1" text-anchor="end" class="b8">0.4</text>
<text x="265.5" y="160.8" text-anchor="end" class="b8">0.6</text>
<text x="265.5" y="125.4" text-anchor="end" class="b8">0.8</text>
<text x="265.5" y="90.1" text-anchor="end" class="b8">1.0</text>
<text x="299.3" y="287.3" text-anchor="middle" class="b8">120</text>
<text x="353.3" y="287.3" text-anchor="middle" class="b8">160</text>
<text x="407.3" y="287.3" text-anchor="middle" class="b8">200</text>
<text x="461.3" y="287.3" text-anchor="middle" class="b8">240</text>
<text x="515.3" y="287.3" text-anchor="middle" class="b8">280</text>
<text x="392.8" y="298.8" text-anchor="middle" class="b10">Wavelength/nm</text>
<text transform="translate(246.3 167.5) rotate(-90)" text-anchor="middle" class="b10">Normalized Int.</text>
<rect x="434.0" y="104.4" width="50.2" height="65.0" fill="#fff" stroke="#000" stroke-width="1.5"/>
<path fill="#00ffff" d="M443.4 108.1h2.9v2.9h-2.9z"/>
<text x="456.6" y="112.8" class="r9">320 nm</text>
<path fill="#ff00ff" d="M444.2 118.8h1.4l0.9 0.9v1.4l-0.9 0.9h-1.4l-0.9 -0.9v-1.4z"/>
<text x="456.6" y="123.6" class="r9">340 nm</text>
<path fill="#0000ff" d="M444.9 129.1l1.9 3.4h-3.7z"/>
<text x="456.6" y="134.3" class="r9">420 nm</text>
<path fill="#000000" d="M444.9 143.9l1.9 -3.4h-3.7z"/>
<text x="456.6" y="145.1" class="r9">542 nm</text>
<path fill="#ff0000" d="M444.2 151.0h1.4l0.9 0.9v1.4l-0.9 0.9h-1.4l-0.9 -0.9v-1.4z"/>
<text x="456.6" y="155.8" class="r9">567 nm</text>
<path fill="#00ff00" d="M442.9 163.4l3.4 -1.9v3.7z"/>
<text x="456.6" y="166.6" class="r9">604 nm</text>
</svg>
</body></html>
